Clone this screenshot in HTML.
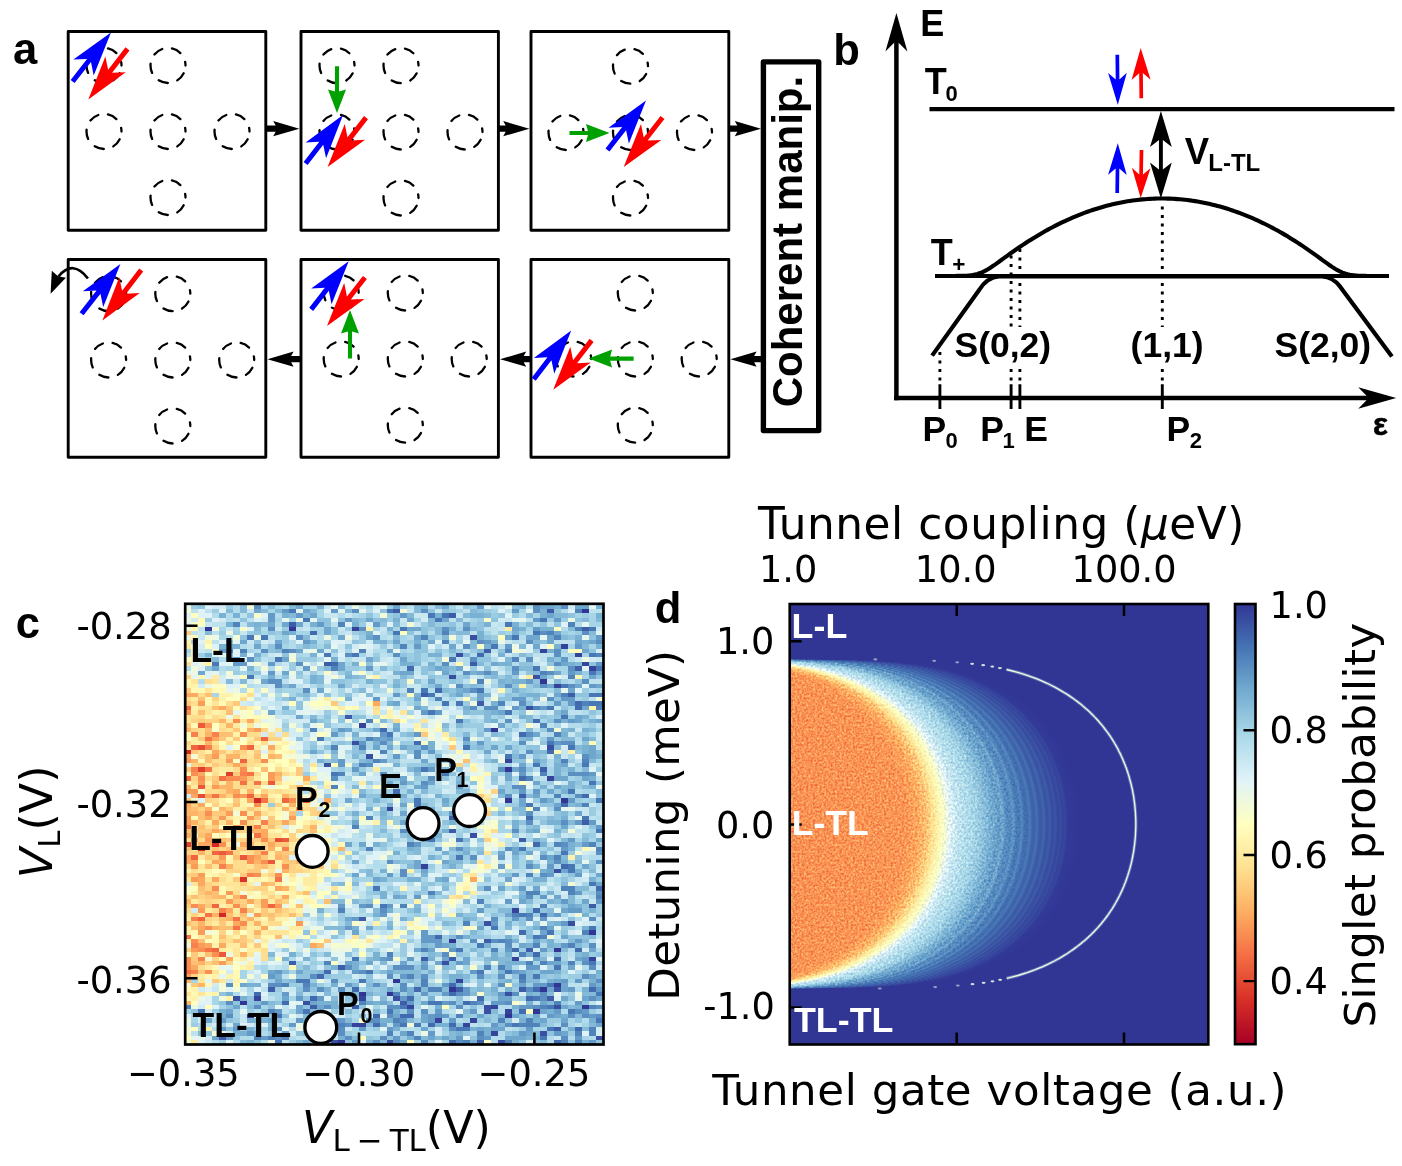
<!DOCTYPE html>
<html><head><meta charset="utf-8"><title>Figure</title>
<style>html,body{margin:0;padding:0;background:#fff;overflow:hidden;}svg{display:block;}</style></head>
<body><svg width="1402" height="1166" viewBox="0 0 1402 1166">
<rect width="1402" height="1166" fill="#fff"/>
<rect x="68.2" y="31.5" width="197.6" height="198.8" fill="none" stroke="#000" stroke-width="2.9" stroke-linejoin="round"/>
<rect x="301" y="31.5" width="197.4" height="198.8" fill="none" stroke="#000" stroke-width="2.9" stroke-linejoin="round"/>
<rect x="531" y="31.5" width="197.8" height="198.8" fill="none" stroke="#000" stroke-width="2.9" stroke-linejoin="round"/>
<rect x="68.2" y="259.5" width="197.6" height="197.7" fill="none" stroke="#000" stroke-width="2.9" stroke-linejoin="round"/>
<rect x="301" y="259.5" width="197.4" height="197.7" fill="none" stroke="#000" stroke-width="2.9" stroke-linejoin="round"/>
<rect x="531" y="259.5" width="197.8" height="197.7" fill="none" stroke="#000" stroke-width="2.9" stroke-linejoin="round"/>
<rect x="763.4" y="61.9" width="55.3" height="368.7" fill="none" stroke="#000" stroke-width="5.4" stroke-linejoin="round"/>
<g fill="none" stroke="#000" stroke-width="2.3" stroke-dasharray="9.6 9.9" stroke-dashoffset="11.5" stroke-linecap="round">
<circle cx="104" cy="65.5" r="17.5"/>
<circle cx="168" cy="65.5" r="17.5"/>
<circle cx="104" cy="131.5" r="17.5"/>
<circle cx="168" cy="131.5" r="17.5"/>
<circle cx="232" cy="131.5" r="17.5"/>
<circle cx="168" cy="197.5" r="17.5"/>
<circle cx="337" cy="65.6" r="17.5"/>
<circle cx="401" cy="65.6" r="17.5"/>
<circle cx="337" cy="132" r="17.5"/>
<circle cx="401" cy="132" r="17.5"/>
<circle cx="465" cy="132" r="17.5"/>
<circle cx="401" cy="198" r="17.5"/>
<circle cx="630.5" cy="66.2" r="17.5"/>
<circle cx="566" cy="132.5" r="17.5"/>
<circle cx="630.5" cy="132.5" r="17.5"/>
<circle cx="694.5" cy="132.5" r="17.5"/>
<circle cx="630.5" cy="198" r="17.5"/>
<circle cx="108.6" cy="293.7" r="17.5"/>
<circle cx="172.8" cy="293.7" r="17.5"/>
<circle cx="108.6" cy="360" r="17.5"/>
<circle cx="172.8" cy="360" r="17.5"/>
<circle cx="236.7" cy="360" r="17.5"/>
<circle cx="172.8" cy="426" r="17.5"/>
<circle cx="341.2" cy="292.8" r="17.5"/>
<circle cx="405.3" cy="293" r="17.5"/>
<circle cx="341.2" cy="359" r="17.5"/>
<circle cx="405.3" cy="359" r="17.5"/>
<circle cx="469.2" cy="359" r="17.5"/>
<circle cx="405.3" cy="425.2" r="17.5"/>
<circle cx="635.3" cy="293" r="17.5"/>
<circle cx="573.7" cy="359" r="17.5"/>
<circle cx="635.3" cy="359" r="17.5"/>
<circle cx="699.2" cy="359" r="17.5"/>
<circle cx="635.3" cy="425.2" r="17.5"/>
</g>
<path d="M265.8,125.6 L275.69,125.6 L273.2,121.1 L299.4,128.7 L273.2,136.3 L275.69,131.8 L265.8,131.8Z" fill="#000"/>
<path d="M498.4,125.6 L505.69,125.6 L503.2,121.1 L529.4,128.7 L503.2,136.3 L505.69,131.8 L498.4,131.8Z" fill="#000"/>
<path d="M728.8,125.6 L737.29,125.6 L734.8,121.1 L761,128.7 L734.8,136.3 L737.29,131.8 L728.8,131.8Z" fill="#000"/>
<path d="M763.3,362.3 L754.11,362.3 L756.6,366.8 L730.4,359.2 L756.6,351.6 L754.11,356.1 L763.3,356.1Z" fill="#000"/>
<path d="M531,362.3 L523.71,362.3 L526.2,366.8 L500,359.2 L526.2,351.6 L523.71,356.1 L531,356.1Z" fill="#000"/>
<path d="M301,362.3 L291.11,362.3 L293.6,366.8 L267.4,359.2 L293.6,351.6 L291.11,356.1 L301,356.1Z" fill="#000"/>
<path d="M339.05,66.3 L339.05,91.53 L346,89.6 L337,113.1 L328,89.6 L334.95,91.53 L334.95,66.3Z" fill="#00a000"/>
<path d="M569.5,130.95 L587.93,130.95 L586,124 L609.5,133 L586,142 L587.93,135.05 L569.5,135.05Z" fill="#00a000"/>
<path d="M347.95,358.6 L347.95,331.57 L341,333.5 L350,310 L359,333.5 L352.05,331.57 L352.05,358.6Z" fill="#00a000"/>
<path d="M633.6,360.65 L610.17,360.65 L612.1,367.6 L588.6,358.6 L612.1,349.6 L610.17,356.55 L633.6,356.55Z" fill="#00a000"/>
<path d="M70.63,79.96 L87.05,59 L73.4,59.57 L111,32.5 L93.7,75.48 L90.99,62.09 L74.57,83.04Z" fill="#0000ff"/>
<path d="M303.62,162.08 L319.29,141.71 L305.64,142.4 L343,115 L326.08,158.13 L323.25,144.76 L307.58,165.12Z" fill="#0000ff"/>
<path d="M605.53,148.47 L622.15,127.09 L608.5,127.71 L646,100.5 L628.86,143.55 L626.1,130.16 L609.47,151.53Z" fill="#0000ff"/>
<path d="M79.63,312.26 L96.53,290.57 L82.87,291.18 L120.4,264 L103.23,307.03 L100.47,293.64 L83.57,315.34Z" fill="#0000ff"/>
<path d="M309.23,307.86 L324.85,287.79 L311.19,288.4 L348.7,261.2 L331.56,304.24 L328.79,290.86 L313.17,310.94Z" fill="#0000ff"/>
<path d="M531.72,377.77 L547.48,357.31 L533.83,357.99 L571.2,330.6 L554.27,373.73 L551.44,360.36 L535.68,380.83Z" fill="#0000ff"/>
<path d="M129.48,50.43 L112.1,72.86 L125.75,72.22 L88.3,99.5 L105.36,56.42 L108.15,69.8 L125.52,47.37Z" fill="#ff0000"/>
<path d="M367.97,119.13 L351.44,140.4 L365.1,139.78 L327.6,167 L344.73,123.95 L347.49,137.33 L364.03,116.07Z" fill="#ff0000"/>
<path d="M664.47,119.04 L647.65,140.5 L661.31,139.94 L623.7,167 L641,124.02 L643.71,137.41 L660.53,115.96Z" fill="#ff0000"/>
<path d="M143.18,271.42 L126.07,293.75 L139.72,293.04 L102.4,320.5 L119.24,277.34 L122.1,290.7 L139.22,268.38Z" fill="#ff0000"/>
<path d="M366.87,279.04 L350.88,299.54 L364.54,298.94 L327,326.1 L344.19,283.08 L346.94,296.46 L362.93,275.96Z" fill="#ff0000"/>
<path d="M593.57,341.93 L577.04,363.2 L590.7,362.58 L553.2,389.8 L570.33,346.75 L573.09,360.13 L589.63,338.87Z" fill="#ff0000"/>
<path d="M87.9,278.5 Q73,259 58.5,276.5" fill="none" stroke="#000" stroke-width="2.7"/>
<path d="M50.6,293.8 L51.8,270.7 L58,276.2 L65.9,277.8Z" fill="#000"/>
<text x="13.1" y="64.4" font-size="43.60" font-family="Liberation Sans, sans-serif" font-weight="bold">a</text>
<text transform="translate(801.9,407.3) rotate(-90)" x="0" y="0" font-size="42.3" font-family="Liberation Sans, sans-serif" font-weight="bold" textLength="331.5" lengthAdjust="spacingAndGlyphs">Coherent manip.</text>
<path d="M894.15,400.2 L894.15,42.77 L885.4,51.6 L896.4,13 L907.4,51.6 L898.65,42.77 L898.65,400.2Z" fill="#000"/>
<path d="M894.2,395.8 L1366.56,395.8 L1358.2,387.2 L1396.2,398 L1358.2,408.8 L1366.56,400.2 L894.2,400.2Z" fill="#000"/>
<path d="M929.5,109.2 H1394.5 M935,276 H1389" stroke="#000" stroke-width="4.2" fill="none"/>
<path d="M945,275.99 L947.5,275.99 L950,275.98 L952.5,275.96 L955,275.94 L957.5,275.91 L960,275.87 L962.5,275.79 L965,275.68 L967.5,275.52 L970,275.29 L972.5,274.95 L975,274.49 L977.5,273.87 L980,273.06 L982.5,272.06 L985,270.86 L987.5,269.49 L990,267.97 L992.5,266.33 L995,264.61 L997.5,262.84 L1000,261.03 L1002.5,259.21 L1005,257.39 L1007.5,255.58 L1010,253.78 L1012.5,252 L1015,250.24 L1017.5,248.51 L1020,246.8 L1022.5,245.12 L1025,243.47 L1027.5,241.84 L1030,240.25 L1032.5,238.68 L1035,237.14 L1037.5,235.64 L1040,234.16 L1042.5,232.71 L1045,231.3 L1047.5,229.91 L1050,228.55 L1052.5,227.22 L1055,225.93 L1057.5,224.66 L1060,223.42 L1062.5,222.21 L1065,221.03 L1067.5,219.89 L1070,218.77 L1072.5,217.68 L1075,216.62 L1077.5,215.6 L1080,214.6 L1082.5,213.63 L1085,212.69 L1087.5,211.78 L1090,210.91 L1092.5,210.06 L1095,209.24 L1097.5,208.45 L1100,207.7 L1102.5,206.97 L1105,206.27 L1107.5,205.6 L1110,204.96 L1112.5,204.36 L1115,203.78 L1117.5,203.23 L1120,202.71 L1122.5,202.23 L1125,201.77 L1127.5,201.34 L1130,200.94 L1132.5,200.57 L1135,200.24 L1137.5,199.93 L1140,199.65 L1142.5,199.4 L1145,199.19 L1147.5,199 L1150,198.84 L1152.5,198.71 L1155,198.61 L1157.5,198.55 L1160,198.51 L1162.5,198.5 L1165,198.52 L1167.5,198.58 L1170,198.66 L1172.5,198.77 L1175,198.91 L1177.5,199.08 L1180,199.29 L1182.5,199.52 L1185,199.78 L1187.5,200.07 L1190,200.4 L1192.5,200.75 L1195,201.13 L1197.5,201.54 L1200,201.98 L1202.5,202.46 L1205,202.96 L1207.5,203.49 L1210,204.05 L1212.5,204.64 L1215,205.27 L1217.5,205.92 L1220,206.6 L1222.5,207.31 L1225,208.06 L1227.5,208.83 L1230,209.63 L1232.5,210.46 L1235,211.32 L1237.5,212.22 L1240,213.14 L1242.5,214.09 L1245,215.07 L1247.5,216.09 L1250,217.13 L1252.5,218.2 L1255,219.3 L1257.5,220.43 L1260,221.6 L1262.5,222.79 L1265,224.01 L1267.5,225.26 L1270,226.54 L1272.5,227.86 L1275,229.2 L1277.5,230.57 L1280,231.97 L1282.5,233.4 L1285,234.87 L1287.5,236.36 L1290,237.88 L1292.5,239.43 L1295,241.01 L1297.5,242.62 L1300,244.25 L1302.5,245.92 L1305,247.61 L1307.5,249.34 L1310,251.08 L1312.5,252.85 L1315,254.64 L1317.5,256.45 L1320,258.27 L1322.5,260.09 L1325,261.9 L1327.5,263.7 L1330,265.45 L1332.5,267.13 L1335,268.71 L1337.5,270.17 L1340,271.46 L1342.5,272.56 L1345,273.47 L1347.5,274.19 L1350,274.73 L1352.5,275.13 L1355,275.41 L1357.5,275.61 L1360,275.74 L1362.5,275.83 L1365,275.89 L1367.5,275.93 L1370,275.96 L1372.5,275.97 L1375,275.98 L1377.5,275.99 L1380,275.99" fill="none" stroke="#000" stroke-width="4.1" stroke-linejoin="round"/>
<path d="M932.1,355.6 L979.5,289.5 Q987,277.5 999,276.5 L1322,276.5 Q1333,277 1340,286.5 L1391.9,356.4" fill="none" stroke="#000" stroke-width="4.2" stroke-linejoin="round"/>
<g stroke="#000" stroke-width="2.9" stroke-dasharray="2.9 5.6" fill="none">
<path d="M939.9,352 V384"/>
<path d="M1011.1,255.5 V327"/>
<path d="M1011.1,369 V384"/>
<path d="M1019.9,249 V327"/>
<path d="M1019.9,369 V384"/>
<path d="M1162.3,206.5 V327"/>
<path d="M1162.3,369 V384"/>
</g>
<path d="M939.9,384.2 V409.1 M1011.1,384.2 V409.1 M1019.9,384.2 V409.1 M1162.3,384.2 V409.1" stroke="#000" stroke-width="2.9"/>
<path d="M1119.15,54.73 L1119.4,79.54 L1126.83,72.81 L1117.8,104.8 L1108.13,72.99 L1115.7,79.58 L1115.45,54.77Z" fill="#0000ff"/>
<path d="M1139.45,98.32 L1139.15,73.16 L1131.58,80.01 L1140.7,47.9 L1150.58,79.78 L1142.85,73.11 L1143.15,98.28Z" fill="#ff0000"/>
<path d="M1115.35,192.88 L1115.65,168.39 L1108.12,174.79 L1117.8,143.2 L1126.72,175.01 L1119.35,168.43 L1119.05,192.92Z" fill="#0000ff"/>
<path d="M1143.35,150.03 L1142.94,174.44 L1150.5,168.16 L1140.7,198 L1131.9,167.85 L1139.24,174.38 L1139.65,149.97Z" fill="#ff0000"/>
<path d="M1160.9,111 L1171.8,147 L1162.85,140.02 L1162.85,169.48 L1171.8,162.5 L1160.9,198.5 L1150,162.5 L1158.95,169.48 L1158.95,140.02 L1150,147Z" fill="#000"/>
<text x="833.2" y="64.9" font-size="43.60" font-family="Liberation Sans, sans-serif" font-weight="bold">b</text>
<text x="920.3" y="36.4" font-size="36.00" font-family="Liberation Sans, sans-serif" font-weight="bold">E</text>
<text x="924.8" y="94.2" font-size="36.00" font-family="Liberation Sans, sans-serif" font-weight="bold">T</text>
<text x="945.6" y="100.8" font-size="22.00" font-family="Liberation Sans, sans-serif" font-weight="bold">0</text>
<text x="930.8" y="265" font-size="36.00" font-family="Liberation Sans, sans-serif" font-weight="bold">T</text>
<text x="952.3" y="271.5" font-size="22.50" font-family="Liberation Sans, sans-serif" font-weight="bold">+</text>
<text x="1184.8" y="164.4" font-size="36.50" font-family="Liberation Sans, sans-serif" font-weight="bold">V</text>
<text x="1208.3" y="171.2" font-size="24.00" font-family="Liberation Sans, sans-serif" font-weight="bold">L-TL</text>
<text x="954.5" y="357" font-size="35.50" font-family="Liberation Sans, sans-serif" font-weight="bold">S(0,2)</text>
<text x="1130.6" y="357" font-size="35.50" font-family="Liberation Sans, sans-serif" font-weight="bold">(1,1)</text>
<text x="1274.5" y="357" font-size="35.50" font-family="Liberation Sans, sans-serif" font-weight="bold">S(2,0)</text>
<text x="922.5" y="441.2" font-size="35.50" font-family="Liberation Sans, sans-serif" font-weight="bold">P</text>
<text x="945.6" y="448.2" font-size="22.00" font-family="Liberation Sans, sans-serif" font-weight="bold">0</text>
<text x="980.2" y="441.2" font-size="35.50" font-family="Liberation Sans, sans-serif" font-weight="bold">P</text>
<text x="1002.6" y="448" font-size="22.00" font-family="Liberation Sans, sans-serif" font-weight="bold">1</text>
<text x="1024.2" y="441.2" font-size="35.50" font-family="Liberation Sans, sans-serif" font-weight="bold">E</text>
<text x="1166.5" y="441.1" font-size="35.50" font-family="Liberation Sans, sans-serif" font-weight="bold">P</text>
<text x="1189.8" y="447.6" font-size="22.00" font-family="Liberation Sans, sans-serif" font-weight="bold">2</text>
<text x="1373" y="435" font-size="31.50" font-family="Liberation Sans, sans-serif" font-weight="bold" stroke="#000" stroke-width="0.6">ε</text>
<g transform="translate(184.0 604.5) scale(6.983 4.4)" shape-rendering="crispEdges">
<path fill="#ecf8e3" d="M0 0h1v1h-1zM24 0h1v1h-1zM0 3h1v1h-1zM16 3h1v1h-1zM55 3h1v1h-1zM0 5h1v1h-1zM6 6h1v1h-1zM0 7h1v1h-1zM4 7h1v1h-1zM10 7h1v1h-1zM20 7h1v1h-1zM23 7h1v1h-1zM45 8h1v1h-1zM47 9h1v1h-1zM18 10h1v1h-1zM48 10h1v1h-1zM15 11h1v1h-1zM57 12h1v1h-1zM2 13h1v1h-1zM18 14h1v1h-1zM0 15h2v1h-2zM15 15h1v1h-1zM6 16h1v1h-1zM48 16h1v1h-1zM53 16h1v1h-1zM10 17h1v1h-1zM43 17h1v1h-1zM3 18h1v1h-1zM7 19h1v1h-1zM14 20h1v1h-1zM51 21h1v1h-1zM17 22h1v1h-1zM34 22h1v1h-1zM41 22h1v1h-1zM20 23h1v1h-1zM32 23h1v1h-1zM36 23h1v1h-1zM49 24h1v1h-1zM6 25h1v1h-1zM37 25h1v1h-1zM12 26h1v1h-1zM23 26h1v1h-1zM36 26h1v1h-1zM10 27h1v1h-1zM12 28h1v1h-1zM20 28h1v1h-1zM35 28h1v1h-1zM18 30h1v1h-1zM23 30h1v1h-1zM33 30h1v1h-1zM41 30h1v1h-1zM12 31h1v1h-1zM30 31h1v1h-1zM30 33h1v1h-1zM16 34h2v1h-2zM38 34h1v1h-1zM39 35h1v1h-1zM45 35h1v1h-1zM49 35h1v1h-1zM37 36h1v1h-1zM42 37h1v1h-1zM19 38h1v1h-1zM42 38h1v1h-1zM14 39h1v1h-1zM20 39h1v1h-1zM21 40h1v1h-1zM12 41h1v1h-1zM25 41h1v1h-1zM28 41h1v1h-1zM19 42h1v1h-1zM43 42h1v1h-1zM30 43h1v1h-1zM30 44h1v1h-1zM42 44h1v1h-1zM18 45h1v1h-1zM23 45h1v1h-1zM27 46h1v1h-1zM37 46h1v1h-1zM39 46h1v1h-1zM20 48h2v1h-2zM20 49h1v1h-1zM43 49h1v1h-1zM19 50h1v1h-1zM38 50h1v1h-1zM46 50h1v1h-1zM24 51h1v1h-1zM51 51h1v1h-1zM7 52h1v1h-1zM19 52h1v1h-1zM26 52h1v1h-1zM42 52h1v1h-1zM17 53h1v1h-1zM28 53h1v1h-1zM38 53h1v1h-1zM7 54h1v1h-1zM43 54h1v1h-1zM49 54h1v1h-1zM58 55h1v1h-1zM20 56h1v1h-1zM20 57h1v1h-1zM44 57h1v1h-1zM49 57h1v1h-1zM18 59h1v1h-1zM20 59h1v1h-1zM13 60h1v1h-1zM23 60h1v1h-1zM29 60h1v1h-1zM43 60h1v1h-1zM45 60h1v1h-1zM16 61h1v1h-1zM23 62h1v1h-1zM19 63h1v1h-1zM41 63h1v1h-1zM16 64h1v1h-1zM20 64h1v1h-1zM23 65h1v1h-1zM24 66h1v1h-1zM39 67h1v1h-1zM14 68h1v1h-1zM17 68h1v1h-1zM20 68h1v1h-1zM32 68h1v1h-1zM18 69h1v1h-1zM35 69h1v1h-1zM9 70h1v1h-1zM18 70h1v1h-1zM28 71h1v1h-1zM30 71h1v1h-1zM17 72h1v1h-1zM25 72h1v1h-1zM30 72h1v1h-1zM13 73h2v1h-2zM18 73h2v1h-2zM33 74h1v1h-1zM39 74h1v1h-1zM14 75h1v1h-1zM16 75h1v1h-1zM12 76h1v1h-1zM0 77h1v1h-1zM26 77h1v1h-1zM15 78h1v1h-1zM17 78h1v1h-1zM21 78h3v1h-3zM25 78h1v1h-1zM29 78h1v1h-1zM6 79h1v1h-1zM9 80h1v1h-1zM8 81h1v1h-1zM44 81h1v1h-1zM36 82h1v1h-1zM15 84h1v1h-1zM19 85h1v1h-1zM36 85h1v1h-1zM56 88h1v1h-1zM2 89h1v1h-1zM1 91h1v1h-1zM0 94h1v1h-1zM0 95h1v1h-1zM16 95h1v1h-1zM16 96h1v1h-1zM5 97h1v1h-1zM34 97h1v1h-1zM12 99h1v1h-1z"/>
<path fill="#9bcce2" d="M1 0h1v1h-1zM6 0h1v1h-1zM29 0h1v1h-1zM41 0h1v1h-1zM4 1h1v1h-1zM38 1h1v1h-1zM43 1h1v1h-1zM29 2h1v1h-1zM44 2h1v1h-1zM47 2h1v1h-1zM57 2h1v1h-1zM3 3h1v1h-1zM29 3h1v1h-1zM42 3h1v1h-1zM52 3h1v1h-1zM54 3h1v1h-1zM25 4h1v1h-1zM34 4h1v1h-1zM36 4h2v1h-2zM41 4h1v1h-1zM14 5h1v1h-1zM23 5h1v1h-1zM35 5h1v1h-1zM5 6h1v1h-1zM7 6h1v1h-1zM9 6h1v1h-1zM13 6h1v1h-1zM24 6h1v1h-1zM29 6h1v1h-1zM45 6h1v1h-1zM48 6h1v1h-1zM54 6h1v1h-1zM56 6h1v1h-1zM14 7h1v1h-1zM25 7h1v1h-1zM44 7h1v1h-1zM14 8h1v1h-1zM20 8h1v1h-1zM25 8h1v1h-1zM29 8h1v1h-1zM32 8h1v1h-1zM34 8h1v1h-1zM39 8h1v1h-1zM16 9h1v1h-1zM28 9h1v1h-1zM39 10h1v1h-1zM41 10h1v1h-1zM50 10h1v1h-1zM2 11h1v1h-1zM27 11h1v1h-1zM32 11h1v1h-1zM38 11h1v1h-1zM43 11h1v1h-1zM49 11h1v1h-1zM3 12h1v1h-1zM16 12h3v1h-3zM32 12h1v1h-1zM36 12h1v1h-1zM15 13h1v1h-1zM15 14h1v1h-1zM19 14h1v1h-1zM23 14h2v1h-2zM30 14h1v1h-1zM41 14h1v1h-1zM46 14h1v1h-1zM7 15h1v1h-1zM18 15h1v1h-1zM22 15h1v1h-1zM57 15h1v1h-1zM16 16h1v1h-1zM32 16h1v1h-1zM36 16h2v1h-2zM39 16h1v1h-1zM45 16h1v1h-1zM47 16h1v1h-1zM52 16h1v1h-1zM23 17h1v1h-1zM31 17h1v1h-1zM39 17h1v1h-1zM19 18h1v1h-1zM23 18h1v1h-1zM27 18h1v1h-1zM31 18h1v1h-1zM49 18h1v1h-1zM13 19h1v1h-1zM24 19h1v1h-1zM49 19h1v1h-1zM57 19h1v1h-1zM31 20h1v1h-1zM40 20h1v1h-1zM47 20h1v1h-1zM17 21h1v1h-1zM41 21h1v1h-1zM57 21h1v1h-1zM40 22h1v1h-1zM54 22h1v1h-1zM14 24h2v1h-2zM20 24h1v1h-1zM22 25h1v1h-1zM45 25h1v1h-1zM52 25h1v1h-1zM55 25h1v1h-1zM20 26h1v1h-1zM24 26h1v1h-1zM14 27h1v1h-1zM40 27h3v1h-3zM58 27h1v1h-1zM25 28h1v1h-1zM37 28h1v1h-1zM42 28h1v1h-1zM51 28h1v1h-1zM22 29h1v1h-1zM56 29h1v1h-1zM43 30h1v1h-1zM46 30h1v1h-1zM51 30h1v1h-1zM53 30h1v1h-1zM18 31h1v1h-1zM21 31h1v1h-1zM23 31h1v1h-1zM31 31h2v1h-2zM41 31h1v1h-1zM43 31h1v1h-1zM43 32h1v1h-1zM47 32h1v1h-1zM17 33h1v1h-1zM34 33h1v1h-1zM45 33h1v1h-1zM51 34h1v1h-1zM29 35h2v1h-2zM37 35h1v1h-1zM55 35h1v1h-1zM32 36h2v1h-2zM36 36h1v1h-1zM45 36h1v1h-1zM56 36h1v1h-1zM22 37h1v1h-1zM25 37h1v1h-1zM59 37h1v1h-1zM17 38h1v1h-1zM24 38h1v1h-1zM44 38h1v1h-1zM54 38h1v1h-1zM33 39h2v1h-2zM56 39h1v1h-1zM26 40h1v1h-1zM44 40h1v1h-1zM46 40h1v1h-1zM52 40h1v1h-1zM31 41h1v1h-1zM40 41h1v1h-1zM46 41h1v1h-1zM56 41h1v1h-1zM29 42h1v1h-1zM46 42h1v1h-1zM53 42h1v1h-1zM37 43h1v1h-1zM55 43h1v1h-1zM24 44h1v1h-1zM26 44h1v1h-1zM28 44h1v1h-1zM32 44h1v1h-1zM34 44h2v1h-2zM38 44h1v1h-1zM50 44h1v1h-1zM56 44h1v1h-1zM58 44h1v1h-1zM12 45h1v1h-1zM26 45h1v1h-1zM35 45h1v1h-1zM38 45h1v1h-1zM46 45h2v1h-2zM31 46h1v1h-1zM58 46h1v1h-1zM23 47h1v1h-1zM29 47h1v1h-1zM37 47h1v1h-1zM39 47h1v1h-1zM47 47h1v1h-1zM58 47h1v1h-1zM24 48h1v1h-1zM30 48h3v1h-3zM41 48h1v1h-1zM50 48h2v1h-2zM30 49h1v1h-1zM39 49h1v1h-1zM28 50h1v1h-1zM53 50h1v1h-1zM36 51h1v1h-1zM40 51h1v1h-1zM54 51h1v1h-1zM27 52h1v1h-1zM29 52h1v1h-1zM39 52h1v1h-1zM47 52h1v1h-1zM52 52h1v1h-1zM58 52h1v1h-1zM34 54h2v1h-2zM47 54h1v1h-1zM59 54h1v1h-1zM25 55h1v1h-1zM28 55h1v1h-1zM41 55h1v1h-1zM49 55h2v1h-2zM38 56h1v1h-1zM53 56h1v1h-1zM55 56h1v1h-1zM40 57h1v1h-1zM58 58h1v1h-1zM35 59h1v1h-1zM39 59h1v1h-1zM21 60h1v1h-1zM38 61h1v1h-1zM24 62h1v1h-1zM29 62h3v1h-3zM59 62h1v1h-1zM34 63h1v1h-1zM45 63h1v1h-1zM49 63h2v1h-2zM29 64h1v1h-1zM26 65h1v1h-1zM34 65h1v1h-1zM44 65h1v1h-1zM58 65h1v1h-1zM37 66h1v1h-1zM25 67h1v1h-1zM44 68h1v1h-1zM59 68h1v1h-1zM59 69h1v1h-1zM17 70h1v1h-1zM22 70h1v1h-1zM33 70h1v1h-1zM45 70h1v1h-1zM50 70h1v1h-1zM19 71h1v1h-1zM22 71h1v1h-1zM32 71h1v1h-1zM36 71h1v1h-1zM46 71h1v1h-1zM54 73h1v1h-1zM32 74h1v1h-1zM42 74h1v1h-1zM37 75h1v1h-1zM43 75h1v1h-1zM47 75h1v1h-1zM16 76h1v1h-1zM32 76h1v1h-1zM37 76h1v1h-1zM31 77h1v1h-1zM40 77h1v1h-1zM57 77h1v1h-1zM14 78h1v1h-1zM26 78h1v1h-1zM31 78h1v1h-1zM42 78h1v1h-1zM48 78h1v1h-1zM31 79h1v1h-1zM34 79h1v1h-1zM40 79h1v1h-1zM45 79h1v1h-1zM51 79h1v1h-1zM58 79h1v1h-1zM18 81h1v1h-1zM16 82h1v1h-1zM29 82h1v1h-1zM52 82h1v1h-1zM22 83h1v1h-1zM27 83h1v1h-1zM34 83h1v1h-1zM37 83h1v1h-1zM54 83h1v1h-1zM57 83h1v1h-1zM21 84h3v1h-3zM35 84h1v1h-1zM44 84h1v1h-1zM52 84h1v1h-1zM55 84h2v1h-2zM12 85h1v1h-1zM18 85h1v1h-1zM33 85h1v1h-1zM15 86h2v1h-2zM19 86h1v1h-1zM35 86h1v1h-1zM49 86h1v1h-1zM13 87h1v1h-1zM27 87h1v1h-1zM30 87h1v1h-1zM47 87h1v1h-1zM31 88h1v1h-1zM35 88h2v1h-2zM55 88h1v1h-1zM26 89h1v1h-1zM33 89h1v1h-1zM44 89h1v1h-1zM48 89h1v1h-1zM23 90h1v1h-1zM33 90h1v1h-1zM54 90h1v1h-1zM4 92h1v1h-1zM9 92h1v1h-1zM21 92h1v1h-1zM31 92h1v1h-1zM58 92h1v1h-1zM41 93h1v1h-1zM44 93h1v1h-1zM49 93h1v1h-1zM7 94h1v1h-1zM33 94h1v1h-1zM42 94h1v1h-1zM44 94h1v1h-1zM52 94h2v1h-2zM1 95h1v1h-1zM5 95h1v1h-1zM52 95h1v1h-1zM8 96h1v1h-1zM19 96h1v1h-1zM27 96h1v1h-1zM37 96h1v1h-1zM48 96h1v1h-1zM12 97h1v1h-1zM23 97h1v1h-1zM55 97h1v1h-1zM27 98h1v1h-1zM31 98h1v1h-1zM5 99h1v1h-1zM15 99h1v1h-1zM35 99h1v1h-1z"/>
<path fill="#90c3dd" d="M2 0h1v1h-1zM40 0h1v1h-1zM28 1h1v1h-1zM35 1h1v1h-1zM37 1h1v1h-1zM42 1h1v1h-1zM53 1h1v1h-1zM9 2h1v1h-1zM26 2h1v1h-1zM30 2h1v1h-1zM45 2h1v1h-1zM55 2h1v1h-1zM8 3h1v1h-1zM19 3h2v1h-2zM22 3h1v1h-1zM25 3h1v1h-1zM27 3h1v1h-1zM44 3h1v1h-1zM56 3h1v1h-1zM20 4h1v1h-1zM28 4h1v1h-1zM38 4h1v1h-1zM42 4h1v1h-1zM51 4h1v1h-1zM53 4h1v1h-1zM21 5h1v1h-1zM34 5h1v1h-1zM42 5h1v1h-1zM10 6h1v1h-1zM12 6h1v1h-1zM21 6h1v1h-1zM25 6h1v1h-1zM32 6h1v1h-1zM34 6h1v1h-1zM38 6h1v1h-1zM8 7h1v1h-1zM35 7h1v1h-1zM43 7h1v1h-1zM55 7h1v1h-1zM58 7h1v1h-1zM6 8h1v1h-1zM10 8h1v1h-1zM24 8h1v1h-1zM51 8h1v1h-1zM12 9h1v1h-1zM18 9h1v1h-1zM23 9h1v1h-1zM30 9h1v1h-1zM34 9h1v1h-1zM12 10h1v1h-1zM21 10h1v1h-1zM33 10h2v1h-2zM36 10h1v1h-1zM45 10h1v1h-1zM58 10h1v1h-1zM14 11h1v1h-1zM31 11h1v1h-1zM33 11h1v1h-1zM10 12h1v1h-1zM27 12h1v1h-1zM33 12h1v1h-1zM42 12h2v1h-2zM53 12h1v1h-1zM26 13h1v1h-1zM48 13h2v1h-2zM52 13h1v1h-1zM58 13h1v1h-1zM3 14h1v1h-1zM34 14h1v1h-1zM43 14h1v1h-1zM9 15h2v1h-2zM16 15h1v1h-1zM34 15h1v1h-1zM38 15h1v1h-1zM49 15h1v1h-1zM14 16h1v1h-1zM25 16h1v1h-1zM35 16h1v1h-1zM40 16h1v1h-1zM43 16h1v1h-1zM59 16h1v1h-1zM21 17h2v1h-2zM27 17h2v1h-2zM33 17h1v1h-1zM38 17h1v1h-1zM50 17h1v1h-1zM56 17h1v1h-1zM35 18h1v1h-1zM40 18h1v1h-1zM42 18h1v1h-1zM47 18h1v1h-1zM38 19h1v1h-1zM48 19h1v1h-1zM16 20h1v1h-1zM20 20h1v1h-1zM23 20h1v1h-1zM46 20h1v1h-1zM51 20h1v1h-1zM56 20h2v1h-2zM14 21h1v1h-1zM45 21h2v1h-2zM53 21h1v1h-1zM16 22h1v1h-1zM33 22h1v1h-1zM49 22h1v1h-1zM16 23h1v1h-1zM54 23h1v1h-1zM41 24h2v1h-2zM48 24h1v1h-1zM58 24h1v1h-1zM20 25h1v1h-1zM24 25h2v1h-2zM51 25h1v1h-1zM53 25h1v1h-1zM19 26h1v1h-1zM22 26h1v1h-1zM40 26h1v1h-1zM52 26h1v1h-1zM57 26h1v1h-1zM17 27h1v1h-1zM20 27h1v1h-1zM47 27h1v1h-1zM21 28h1v1h-1zM26 28h1v1h-1zM46 28h1v1h-1zM31 29h1v1h-1zM42 29h1v1h-1zM45 29h1v1h-1zM57 29h1v1h-1zM16 30h1v1h-1zM24 30h2v1h-2zM22 31h1v1h-1zM51 31h1v1h-1zM57 31h1v1h-1zM18 32h1v1h-1zM20 32h1v1h-1zM24 32h1v1h-1zM41 32h1v1h-1zM49 32h2v1h-2zM19 33h1v1h-1zM24 33h1v1h-1zM32 33h1v1h-1zM47 33h1v1h-1zM56 33h1v1h-1zM21 34h1v1h-1zM50 34h1v1h-1zM20 35h1v1h-1zM43 35h1v1h-1zM47 35h2v1h-2zM24 36h1v1h-1zM34 36h1v1h-1zM51 36h1v1h-1zM39 37h1v1h-1zM49 37h1v1h-1zM54 37h1v1h-1zM38 38h1v1h-1zM29 39h2v1h-2zM37 39h1v1h-1zM44 39h1v1h-1zM41 40h1v1h-1zM56 40h1v1h-1zM59 40h1v1h-1zM45 41h1v1h-1zM47 42h1v1h-1zM20 43h1v1h-1zM26 43h2v1h-2zM33 43h1v1h-1zM59 43h1v1h-1zM31 44h1v1h-1zM39 45h1v1h-1zM51 45h2v1h-2zM33 46h1v1h-1zM20 47h2v1h-2zM35 47h2v1h-2zM41 47h1v1h-1zM53 47h1v1h-1zM29 48h1v1h-1zM53 48h1v1h-1zM28 49h1v1h-1zM37 49h1v1h-1zM40 49h1v1h-1zM48 49h1v1h-1zM51 49h1v1h-1zM40 50h1v1h-1zM49 50h1v1h-1zM58 50h1v1h-1zM31 52h1v1h-1zM34 52h1v1h-1zM53 52h1v1h-1zM57 52h1v1h-1zM29 53h1v1h-1zM32 53h1v1h-1zM36 53h1v1h-1zM42 53h1v1h-1zM51 53h1v1h-1zM28 54h1v1h-1zM42 55h1v1h-1zM52 55h1v1h-1zM24 56h1v1h-1zM32 56h1v1h-1zM39 56h1v1h-1zM48 56h1v1h-1zM36 57h1v1h-1zM38 57h1v1h-1zM56 57h1v1h-1zM31 58h2v1h-2zM47 58h1v1h-1zM37 59h1v1h-1zM47 59h1v1h-1zM58 59h1v1h-1zM25 60h1v1h-1zM45 61h2v1h-2zM55 61h1v1h-1zM43 62h1v1h-1zM54 62h1v1h-1zM21 63h1v1h-1zM35 63h1v1h-1zM37 63h1v1h-1zM34 64h1v1h-1zM42 64h1v1h-1zM47 64h1v1h-1zM27 65h1v1h-1zM30 65h1v1h-1zM33 65h1v1h-1zM26 67h1v1h-1zM54 68h1v1h-1zM57 68h1v1h-1zM32 69h1v1h-1zM49 69h1v1h-1zM51 69h1v1h-1zM57 69h1v1h-1zM40 70h2v1h-2zM44 70h1v1h-1zM59 70h1v1h-1zM48 71h1v1h-1zM55 71h1v1h-1zM38 72h1v1h-1zM42 72h1v1h-1zM48 72h1v1h-1zM50 72h1v1h-1zM49 73h1v1h-1zM17 74h1v1h-1zM22 74h1v1h-1zM49 74h1v1h-1zM54 74h1v1h-1zM21 75h1v1h-1zM41 75h2v1h-2zM55 75h3v1h-3zM51 76h1v1h-1zM35 77h1v1h-1zM52 78h1v1h-1zM18 79h1v1h-1zM23 79h1v1h-1zM36 79h1v1h-1zM39 79h1v1h-1zM42 79h1v1h-1zM59 79h1v1h-1zM21 80h1v1h-1zM25 81h1v1h-1zM38 81h1v1h-1zM43 81h1v1h-1zM54 81h1v1h-1zM20 82h1v1h-1zM33 82h1v1h-1zM38 82h1v1h-1zM17 83h2v1h-2zM39 83h1v1h-1zM50 83h1v1h-1zM16 84h2v1h-2zM20 84h1v1h-1zM26 84h1v1h-1zM37 84h1v1h-1zM43 84h1v1h-1zM47 84h1v1h-1zM51 84h1v1h-1zM53 84h1v1h-1zM14 85h1v1h-1zM26 85h1v1h-1zM31 85h1v1h-1zM40 85h1v1h-1zM42 85h1v1h-1zM33 86h1v1h-1zM42 86h1v1h-1zM44 86h1v1h-1zM47 86h1v1h-1zM16 87h1v1h-1zM18 87h1v1h-1zM26 87h1v1h-1zM28 87h1v1h-1zM41 87h1v1h-1zM43 87h1v1h-1zM5 88h1v1h-1zM27 88h2v1h-2zM43 88h1v1h-1zM9 89h1v1h-1zM17 89h1v1h-1zM23 89h1v1h-1zM39 89h1v1h-1zM55 89h1v1h-1zM5 90h1v1h-1zM7 90h1v1h-1zM9 90h1v1h-1zM13 90h1v1h-1zM39 90h1v1h-1zM57 90h1v1h-1zM6 91h1v1h-1zM12 91h1v1h-1zM17 91h1v1h-1zM25 91h1v1h-1zM41 91h1v1h-1zM1 92h1v1h-1zM11 92h1v1h-1zM47 92h1v1h-1zM12 93h1v1h-1zM14 93h1v1h-1zM25 93h1v1h-1zM40 93h1v1h-1zM43 93h1v1h-1zM6 94h1v1h-1zM46 94h1v1h-1zM56 94h1v1h-1zM17 95h1v1h-1zM39 95h1v1h-1zM6 96h1v1h-1zM10 96h1v1h-1zM20 96h1v1h-1zM3 97h1v1h-1zM16 97h1v1h-1zM40 97h1v1h-1zM46 97h1v1h-1zM52 97h1v1h-1zM7 98h1v1h-1zM26 98h1v1h-1zM29 98h1v1h-1zM41 98h1v1h-1zM10 99h1v1h-1zM23 99h1v1h-1zM48 99h1v1h-1zM50 99h1v1h-1zM55 99h1v1h-1zM59 99h1v1h-1z"/>
<path fill="#def2f7" d="M3 0h1v1h-1zM43 0h1v1h-1zM2 1h1v1h-1zM5 1h1v1h-1zM20 1h1v1h-1zM27 1h1v1h-1zM45 1h1v1h-1zM55 1h1v1h-1zM0 2h1v1h-1zM2 2h2v1h-2zM11 2h1v1h-1zM46 2h1v1h-1zM4 3h1v1h-1zM10 3h1v1h-1zM0 4h1v1h-1zM23 4h1v1h-1zM26 4h1v1h-1zM29 4h1v1h-1zM54 4h1v1h-1zM9 5h1v1h-1zM27 6h1v1h-1zM59 6h1v1h-1zM15 7h1v1h-1zM2 8h1v1h-1zM5 8h1v1h-1zM16 8h1v1h-1zM21 8h2v1h-2zM36 8h1v1h-1zM4 9h1v1h-1zM26 9h1v1h-1zM35 9h1v1h-1zM49 9h1v1h-1zM51 9h1v1h-1zM7 10h1v1h-1zM24 10h1v1h-1zM49 10h1v1h-1zM4 11h1v1h-1zM7 11h1v1h-1zM9 11h1v1h-1zM19 11h1v1h-1zM22 11h1v1h-1zM8 12h1v1h-1zM45 12h1v1h-1zM1 13h1v1h-1zM5 13h1v1h-1zM2 14h1v1h-1zM57 14h1v1h-1zM3 15h1v1h-1zM11 15h1v1h-1zM3 16h1v1h-1zM20 16h1v1h-1zM15 17h2v1h-2zM6 18h2v1h-2zM28 18h1v1h-1zM57 18h1v1h-1zM26 19h1v1h-1zM56 19h1v1h-1zM10 20h1v1h-1zM19 20h1v1h-1zM12 21h1v1h-1zM24 21h3v1h-3zM28 21h1v1h-1zM10 22h1v1h-1zM23 22h2v1h-2zM12 23h1v1h-1zM26 23h1v1h-1zM28 23h1v1h-1zM38 23h1v1h-1zM16 24h1v1h-1zM18 24h1v1h-1zM33 24h1v1h-1zM37 24h1v1h-1zM37 26h1v1h-1zM47 26h1v1h-1zM31 27h2v1h-2zM50 27h1v1h-1zM54 27h1v1h-1zM18 29h1v1h-1zM27 29h1v1h-1zM36 29h1v1h-1zM15 30h1v1h-1zM47 30h1v1h-1zM16 31h1v1h-1zM37 31h1v1h-1zM6 32h1v1h-1zM22 32h2v1h-2zM51 32h1v1h-1zM11 33h1v1h-1zM26 33h1v1h-1zM19 34h1v1h-1zM32 34h1v1h-1zM37 34h1v1h-1zM42 34h1v1h-1zM56 34h1v1h-1zM38 35h1v1h-1zM27 36h1v1h-1zM42 36h1v1h-1zM19 37h2v1h-2zM38 37h1v1h-1zM40 37h1v1h-1zM58 37h1v1h-1zM35 38h1v1h-1zM47 38h1v1h-1zM43 39h1v1h-1zM22 40h1v1h-1zM41 41h1v1h-1zM43 41h2v1h-2zM21 43h1v1h-1zM58 43h1v1h-1zM2 44h1v1h-1zM45 44h1v1h-1zM49 44h1v1h-1zM25 45h1v1h-1zM30 45h1v1h-1zM42 45h1v1h-1zM21 46h1v1h-1zM25 46h1v1h-1zM42 46h1v1h-1zM48 48h1v1h-1zM32 49h1v1h-1zM23 50h1v1h-1zM29 50h1v1h-1zM33 50h2v1h-2zM56 50h1v1h-1zM23 51h1v1h-1zM52 51h1v1h-1zM22 52h1v1h-1zM44 52h2v1h-2zM27 53h1v1h-1zM41 53h1v1h-1zM47 53h1v1h-1zM52 53h1v1h-1zM26 54h1v1h-1zM37 55h1v1h-1zM27 56h2v1h-2zM50 56h1v1h-1zM15 57h1v1h-1zM26 57h2v1h-2zM33 57h1v1h-1zM42 57h1v1h-1zM35 58h1v1h-1zM46 58h1v1h-1zM51 58h1v1h-1zM23 59h1v1h-1zM24 60h1v1h-1zM39 60h1v1h-1zM25 61h1v1h-1zM35 61h2v1h-2zM42 61h1v1h-1zM57 61h1v1h-1zM38 62h1v1h-1zM47 62h1v1h-1zM20 63h1v1h-1zM30 63h1v1h-1zM36 64h1v1h-1zM44 64h1v1h-1zM51 64h1v1h-1zM46 65h1v1h-1zM41 67h1v1h-1zM45 67h1v1h-1zM47 67h1v1h-1zM21 68h1v1h-1zM34 68h1v1h-1zM48 68h1v1h-1zM26 69h1v1h-1zM38 69h1v1h-1zM29 70h1v1h-1zM26 71h1v1h-1zM34 71h2v1h-2zM53 71h1v1h-1zM57 71h1v1h-1zM49 72h1v1h-1zM56 72h1v1h-1zM25 73h1v1h-1zM20 74h1v1h-1zM47 74h1v1h-1zM56 74h1v1h-1zM20 75h1v1h-1zM23 75h1v1h-1zM33 75h1v1h-1zM13 76h1v1h-1zM21 76h2v1h-2zM28 76h1v1h-1zM59 76h1v1h-1zM12 77h1v1h-1zM12 78h1v1h-1zM14 79h1v1h-1zM17 79h1v1h-1zM10 80h1v1h-1zM16 80h1v1h-1zM19 80h1v1h-1zM52 80h1v1h-1zM59 80h1v1h-1zM10 81h1v1h-1zM13 81h1v1h-1zM28 82h1v1h-1zM48 82h1v1h-1zM51 82h1v1h-1zM10 83h1v1h-1zM55 83h1v1h-1zM27 84h1v1h-1zM41 86h1v1h-1zM3 87h1v1h-1zM6 87h1v1h-1zM10 87h1v1h-1zM11 88h1v1h-1zM3 89h1v1h-1zM20 89h1v1h-1zM27 89h1v1h-1zM36 89h1v1h-1zM53 89h1v1h-1zM2 90h2v1h-2zM16 90h1v1h-1zM59 90h1v1h-1zM4 91h1v1h-1zM15 91h1v1h-1zM0 93h1v1h-1zM21 93h1v1h-1zM8 95h1v1h-1zM11 95h1v1h-1zM57 97h1v1h-1zM40 98h1v1h-1zM2 99h1v1h-1zM6 99h1v1h-1zM25 99h1v1h-1zM36 99h1v1h-1z"/>
<path fill="#d3ecf4" d="M4 0h2v1h-2zM27 0h1v1h-1zM55 0h1v1h-1zM1 3h1v1h-1zM5 3h1v1h-1zM11 3h1v1h-1zM34 3h1v1h-1zM45 3h1v1h-1zM40 7h1v1h-1zM11 8h1v1h-1zM23 8h1v1h-1zM26 8h1v1h-1zM2 9h1v1h-1zM24 9h1v1h-1zM37 9h1v1h-1zM39 9h1v1h-1zM20 10h1v1h-1zM22 10h1v1h-1zM26 10h1v1h-1zM59 10h1v1h-1zM13 11h1v1h-1zM44 11h1v1h-1zM22 12h1v1h-1zM29 12h1v1h-1zM50 12h1v1h-1zM58 12h1v1h-1zM11 13h1v1h-1zM51 13h1v1h-1zM14 14h1v1h-1zM42 14h1v1h-1zM44 14h1v1h-1zM13 15h1v1h-1zM21 15h1v1h-1zM29 15h1v1h-1zM45 15h1v1h-1zM5 16h1v1h-1zM22 16h1v1h-1zM33 16h1v1h-1zM41 16h1v1h-1zM54 16h1v1h-1zM5 17h1v1h-1zM9 17h1v1h-1zM2 18h1v1h-1zM17 18h1v1h-1zM24 18h1v1h-1zM43 18h1v1h-1zM12 19h1v1h-1zM18 19h1v1h-1zM23 19h1v1h-1zM44 19h1v1h-1zM27 20h1v1h-1zM52 20h1v1h-1zM11 21h1v1h-1zM8 22h1v1h-1zM11 22h1v1h-1zM14 22h1v1h-1zM47 22h1v1h-1zM50 22h1v1h-1zM25 23h1v1h-1zM31 23h1v1h-1zM35 23h1v1h-1zM10 24h1v1h-1zM19 24h1v1h-1zM38 24h2v1h-2zM50 24h1v1h-1zM52 24h1v1h-1zM14 25h1v1h-1zM34 25h1v1h-1zM40 25h1v1h-1zM46 25h1v1h-1zM59 25h1v1h-1zM15 26h3v1h-3zM33 26h1v1h-1zM26 27h1v1h-1zM29 27h1v1h-1zM43 27h1v1h-1zM15 28h1v1h-1zM19 28h1v1h-1zM31 28h1v1h-1zM45 28h1v1h-1zM11 29h1v1h-1zM13 29h1v1h-1zM15 29h2v1h-2zM23 29h1v1h-1zM25 29h1v1h-1zM47 29h1v1h-1zM34 30h1v1h-1zM50 30h1v1h-1zM20 31h1v1h-1zM39 31h1v1h-1zM49 31h1v1h-1zM39 32h1v1h-1zM54 32h1v1h-1zM16 33h1v1h-1zM31 33h1v1h-1zM40 33h1v1h-1zM28 34h1v1h-1zM34 34h1v1h-1zM44 34h1v1h-1zM52 34h1v1h-1zM18 35h1v1h-1zM41 35h1v1h-1zM47 36h1v1h-1zM30 37h2v1h-2zM18 38h1v1h-1zM34 38h1v1h-1zM40 38h1v1h-1zM26 39h2v1h-2zM45 39h1v1h-1zM28 40h1v1h-1zM23 42h1v1h-1zM37 42h1v1h-1zM0 43h1v1h-1zM35 43h1v1h-1zM19 44h1v1h-1zM22 45h1v1h-1zM19 46h1v1h-1zM23 46h1v1h-1zM22 47h1v1h-1zM30 47h1v1h-1zM23 48h1v1h-1zM43 48h1v1h-1zM45 48h1v1h-1zM14 50h1v1h-1zM35 50h1v1h-1zM51 50h1v1h-1zM22 51h1v1h-1zM34 51h1v1h-1zM42 51h1v1h-1zM17 52h1v1h-1zM37 52h2v1h-2zM40 52h1v1h-1zM59 52h1v1h-1zM45 53h1v1h-1zM21 54h1v1h-1zM31 54h1v1h-1zM46 56h1v1h-1zM57 56h1v1h-1zM21 57h1v1h-1zM24 57h1v1h-1zM32 57h1v1h-1zM46 57h1v1h-1zM50 57h1v1h-1zM18 58h1v1h-1zM22 58h1v1h-1zM43 58h1v1h-1zM25 59h1v1h-1zM37 60h1v1h-1zM59 60h1v1h-1zM33 61h1v1h-1zM44 61h1v1h-1zM21 62h2v1h-2zM35 62h1v1h-1zM48 62h1v1h-1zM57 62h1v1h-1zM0 63h1v1h-1zM25 63h1v1h-1zM31 63h1v1h-1zM47 63h1v1h-1zM52 63h1v1h-1zM56 63h1v1h-1zM25 64h1v1h-1zM24 65h1v1h-1zM37 65h1v1h-1zM42 65h1v1h-1zM54 65h1v1h-1zM20 66h1v1h-1zM23 66h1v1h-1zM46 66h1v1h-1zM52 66h1v1h-1zM27 68h1v1h-1zM39 68h1v1h-1zM1 69h1v1h-1zM24 69h1v1h-1zM34 69h1v1h-1zM40 69h1v1h-1zM55 70h1v1h-1zM17 71h1v1h-1zM43 71h1v1h-1zM50 71h1v1h-1zM52 71h1v1h-1zM18 72h1v1h-1zM20 72h1v1h-1zM31 72h1v1h-1zM57 72h1v1h-1zM17 73h1v1h-1zM30 73h1v1h-1zM35 73h1v1h-1zM47 73h1v1h-1zM23 74h1v1h-1zM27 74h1v1h-1zM55 74h1v1h-1zM48 75h1v1h-1zM15 76h1v1h-1zM42 76h1v1h-1zM48 76h1v1h-1zM16 77h1v1h-1zM32 77h1v1h-1zM59 77h1v1h-1zM20 78h1v1h-1zM28 78h1v1h-1zM32 78h1v1h-1zM50 78h1v1h-1zM57 78h1v1h-1zM20 80h1v1h-1zM22 81h1v1h-1zM27 81h1v1h-1zM29 81h2v1h-2zM41 81h2v1h-2zM19 82h1v1h-1zM6 83h1v1h-1zM21 83h1v1h-1zM36 83h1v1h-1zM38 83h1v1h-1zM24 84h1v1h-1zM28 84h1v1h-1zM10 85h1v1h-1zM4 86h1v1h-1zM11 86h1v1h-1zM22 86h1v1h-1zM29 86h1v1h-1zM40 86h1v1h-1zM2 87h1v1h-1zM8 87h1v1h-1zM14 87h1v1h-1zM15 88h1v1h-1zM19 88h1v1h-1zM48 88h1v1h-1zM11 89h1v1h-1zM2 91h1v1h-1zM3 92h1v1h-1zM20 92h1v1h-1zM26 92h1v1h-1zM22 93h1v1h-1zM2 94h1v1h-1zM47 94h1v1h-1zM4 95h1v1h-1zM6 95h1v1h-1zM9 95h1v1h-1zM36 96h1v1h-1zM59 96h1v1h-1zM15 97h1v1h-1zM36 97h1v1h-1zM59 97h1v1h-1zM3 98h1v1h-1zM49 99h1v1h-1z"/>
<path fill="#b2dceb" d="M7 0h1v1h-1zM14 0h1v1h-1zM35 0h1v1h-1zM7 1h1v1h-1zM26 1h1v1h-1zM54 1h1v1h-1zM4 2h1v1h-1zM6 2h1v1h-1zM13 2h1v1h-1zM22 2h1v1h-1zM24 2h1v1h-1zM27 2h1v1h-1zM48 2h1v1h-1zM6 3h1v1h-1zM13 4h1v1h-1zM39 4h1v1h-1zM50 4h1v1h-1zM56 4h1v1h-1zM11 5h1v1h-1zM54 5h1v1h-1zM35 6h1v1h-1zM49 6h1v1h-1zM6 7h1v1h-1zM19 7h1v1h-1zM21 7h1v1h-1zM28 7h1v1h-1zM32 7h1v1h-1zM48 7h1v1h-1zM15 8h1v1h-1zM19 8h1v1h-1zM47 8h1v1h-1zM8 9h1v1h-1zM11 9h1v1h-1zM15 9h1v1h-1zM36 9h1v1h-1zM10 10h1v1h-1zM27 10h2v1h-2zM32 10h1v1h-1zM17 11h1v1h-1zM21 11h1v1h-1zM29 11h1v1h-1zM37 11h1v1h-1zM41 11h1v1h-1zM47 11h1v1h-1zM54 11h1v1h-1zM2 12h1v1h-1zM5 12h1v1h-1zM12 12h1v1h-1zM19 12h1v1h-1zM23 12h1v1h-1zM30 12h1v1h-1zM35 12h1v1h-1zM40 12h1v1h-1zM44 12h1v1h-1zM55 12h1v1h-1zM13 13h1v1h-1zM40 13h1v1h-1zM47 13h1v1h-1zM0 14h1v1h-1zM5 14h1v1h-1zM12 14h1v1h-1zM31 14h1v1h-1zM39 15h1v1h-1zM13 16h1v1h-1zM17 16h1v1h-1zM2 17h1v1h-1zM25 17h1v1h-1zM34 17h1v1h-1zM44 17h1v1h-1zM55 17h1v1h-1zM9 18h1v1h-1zM18 18h1v1h-1zM21 18h1v1h-1zM25 18h1v1h-1zM8 19h1v1h-1zM28 19h1v1h-1zM35 19h1v1h-1zM43 19h1v1h-1zM51 19h1v1h-1zM58 19h1v1h-1zM11 20h1v1h-1zM13 20h1v1h-1zM45 20h1v1h-1zM31 21h1v1h-1zM39 23h1v1h-1zM42 23h1v1h-1zM45 23h1v1h-1zM13 24h1v1h-1zM24 24h1v1h-1zM57 24h1v1h-1zM17 25h1v1h-1zM19 25h1v1h-1zM27 25h1v1h-1zM38 25h1v1h-1zM50 25h1v1h-1zM14 26h1v1h-1zM29 26h1v1h-1zM42 26h1v1h-1zM48 26h1v1h-1zM21 27h1v1h-1zM23 27h1v1h-1zM55 27h2v1h-2zM24 28h1v1h-1zM29 28h1v1h-1zM40 28h2v1h-2zM47 28h1v1h-1zM38 29h1v1h-1zM52 29h1v1h-1zM30 30h1v1h-1zM32 30h1v1h-1zM56 30h1v1h-1zM17 31h1v1h-1zM46 31h1v1h-1zM59 31h1v1h-1zM17 32h1v1h-1zM28 32h1v1h-1zM30 32h1v1h-1zM29 33h1v1h-1zM42 33h1v1h-1zM48 33h1v1h-1zM35 34h1v1h-1zM17 35h1v1h-1zM36 35h1v1h-1zM52 35h1v1h-1zM31 36h1v1h-1zM49 36h1v1h-1zM52 36h1v1h-1zM23 37h1v1h-1zM28 37h2v1h-2zM50 37h1v1h-1zM30 38h1v1h-1zM49 38h1v1h-1zM22 39h1v1h-1zM28 39h1v1h-1zM36 39h1v1h-1zM50 39h1v1h-1zM18 40h1v1h-1zM24 40h1v1h-1zM57 40h1v1h-1zM36 41h1v1h-1zM52 41h1v1h-1zM17 42h1v1h-1zM27 42h2v1h-2zM49 42h1v1h-1zM56 42h1v1h-1zM32 43h1v1h-1zM51 43h2v1h-2zM21 44h1v1h-1zM25 44h1v1h-1zM36 44h1v1h-1zM39 44h1v1h-1zM44 44h1v1h-1zM24 45h1v1h-1zM28 45h1v1h-1zM44 45h1v1h-1zM59 45h1v1h-1zM36 46h1v1h-1zM40 46h1v1h-1zM45 46h1v1h-1zM59 46h1v1h-1zM25 47h1v1h-1zM46 47h1v1h-1zM42 48h1v1h-1zM59 48h1v1h-1zM22 49h1v1h-1zM42 49h1v1h-1zM46 49h1v1h-1zM36 50h1v1h-1zM41 50h1v1h-1zM48 50h1v1h-1zM55 50h1v1h-1zM25 51h2v1h-2zM29 51h1v1h-1zM25 52h1v1h-1zM49 52h1v1h-1zM22 53h1v1h-1zM53 53h1v1h-1zM24 54h1v1h-1zM42 54h1v1h-1zM52 54h1v1h-1zM27 55h1v1h-1zM22 56h1v1h-1zM31 56h1v1h-1zM35 56h1v1h-1zM41 56h1v1h-1zM44 56h1v1h-1zM25 57h1v1h-1zM30 57h1v1h-1zM58 57h2v1h-2zM27 58h1v1h-1zM50 58h1v1h-1zM27 59h2v1h-2zM31 59h1v1h-1zM53 59h1v1h-1zM40 60h1v1h-1zM46 60h1v1h-1zM48 60h1v1h-1zM57 60h1v1h-1zM28 61h1v1h-1zM30 61h1v1h-1zM32 61h1v1h-1zM39 61h1v1h-1zM43 61h1v1h-1zM50 61h1v1h-1zM58 61h1v1h-1zM20 62h1v1h-1zM28 63h2v1h-2zM32 63h1v1h-1zM42 63h2v1h-2zM53 63h1v1h-1zM30 64h1v1h-1zM52 64h1v1h-1zM58 64h1v1h-1zM29 65h1v1h-1zM40 65h1v1h-1zM44 66h1v1h-1zM58 66h1v1h-1zM29 67h4v1h-4zM34 67h1v1h-1zM43 67h1v1h-1zM50 67h1v1h-1zM36 68h1v1h-1zM46 68h1v1h-1zM20 69h1v1h-1zM30 69h2v1h-2zM39 69h1v1h-1zM23 70h1v1h-1zM25 70h1v1h-1zM31 70h1v1h-1zM43 70h1v1h-1zM58 70h1v1h-1zM21 71h1v1h-1zM29 71h1v1h-1zM45 71h1v1h-1zM56 71h1v1h-1zM19 72h1v1h-1zM35 72h1v1h-1zM39 72h1v1h-1zM59 72h1v1h-1zM31 73h1v1h-1zM37 73h2v1h-2zM45 73h1v1h-1zM26 74h1v1h-1zM36 74h1v1h-1zM43 74h1v1h-1zM53 74h1v1h-1zM59 74h1v1h-1zM18 75h1v1h-1zM22 75h1v1h-1zM44 75h2v1h-2zM17 76h1v1h-1zM30 76h1v1h-1zM53 76h1v1h-1zM33 77h1v1h-1zM44 77h1v1h-1zM51 77h1v1h-1zM18 78h1v1h-1zM55 78h1v1h-1zM59 78h1v1h-1zM30 79h1v1h-1zM52 79h1v1h-1zM15 80h1v1h-1zM31 80h1v1h-1zM39 80h1v1h-1zM41 80h1v1h-1zM32 81h1v1h-1zM10 82h1v1h-1zM14 82h1v1h-1zM27 82h1v1h-1zM44 82h1v1h-1zM47 82h1v1h-1zM57 82h1v1h-1zM40 83h1v1h-1zM44 83h1v1h-1zM56 83h1v1h-1zM30 84h1v1h-1zM11 85h1v1h-1zM28 85h1v1h-1zM20 86h1v1h-1zM56 87h1v1h-1zM7 88h1v1h-1zM9 88h1v1h-1zM21 88h1v1h-1zM54 88h1v1h-1zM38 89h1v1h-1zM55 90h1v1h-1zM40 91h1v1h-1zM42 91h1v1h-1zM45 91h2v1h-2zM10 92h1v1h-1zM22 92h1v1h-1zM35 92h1v1h-1zM37 92h1v1h-1zM45 92h1v1h-1zM54 92h1v1h-1zM59 92h1v1h-1zM19 93h1v1h-1zM24 93h1v1h-1zM4 94h1v1h-1zM37 94h1v1h-1zM39 94h1v1h-1zM57 94h1v1h-1zM2 95h1v1h-1zM10 95h1v1h-1zM34 95h1v1h-1zM42 95h1v1h-1zM53 95h1v1h-1zM2 96h1v1h-1zM4 96h1v1h-1zM15 96h1v1h-1zM31 96h1v1h-1zM33 96h1v1h-1zM47 96h1v1h-1zM11 97h1v1h-1zM26 97h3v1h-3zM30 97h1v1h-1zM45 97h1v1h-1zM8 98h2v1h-2zM15 98h1v1h-1zM44 98h2v1h-2zM52 98h1v1h-1zM55 98h1v1h-1zM58 98h1v1h-1zM4 99h1v1h-1zM7 99h1v1h-1zM11 99h1v1h-1zM19 99h1v1h-1zM44 99h1v1h-1zM52 99h1v1h-1z"/>
<path fill="#84bad8" d="M8 0h1v1h-1zM12 0h1v1h-1zM15 0h1v1h-1zM22 0h1v1h-1zM33 0h1v1h-1zM36 0h1v1h-1zM47 0h1v1h-1zM6 1h1v1h-1zM8 1h1v1h-1zM11 1h1v1h-1zM13 1h1v1h-1zM18 1h1v1h-1zM23 1h1v1h-1zM33 1h1v1h-1zM41 1h1v1h-1zM15 2h1v1h-1zM17 2h1v1h-1zM32 2h1v1h-1zM40 2h1v1h-1zM43 2h1v1h-1zM49 2h1v1h-1zM53 2h2v1h-2zM24 3h1v1h-1zM28 3h1v1h-1zM35 3h1v1h-1zM39 3h1v1h-1zM57 3h1v1h-1zM59 3h1v1h-1zM9 4h1v1h-1zM11 4h1v1h-1zM30 4h1v1h-1zM35 4h1v1h-1zM49 4h1v1h-1zM10 5h1v1h-1zM36 5h1v1h-1zM41 5h1v1h-1zM55 5h1v1h-1zM3 6h1v1h-1zM36 6h1v1h-1zM39 6h2v1h-2zM58 6h1v1h-1zM17 7h1v1h-1zM30 7h1v1h-1zM37 7h1v1h-1zM54 7h1v1h-1zM41 8h1v1h-1zM50 8h1v1h-1zM17 9h1v1h-1zM20 9h1v1h-1zM41 9h1v1h-1zM48 9h1v1h-1zM57 9h1v1h-1zM13 10h1v1h-1zM38 10h1v1h-1zM42 10h1v1h-1zM6 11h1v1h-1zM40 11h1v1h-1zM48 11h1v1h-1zM4 12h1v1h-1zM46 12h1v1h-1zM33 13h1v1h-1zM42 13h1v1h-1zM56 13h1v1h-1zM20 14h1v1h-1zM28 14h1v1h-1zM35 14h1v1h-1zM38 14h1v1h-1zM48 14h2v1h-2zM23 15h1v1h-1zM50 15h1v1h-1zM19 16h1v1h-1zM24 16h1v1h-1zM31 16h1v1h-1zM44 16h1v1h-1zM46 16h1v1h-1zM6 17h1v1h-1zM8 17h1v1h-1zM19 17h1v1h-1zM30 17h1v1h-1zM46 17h1v1h-1zM53 17h1v1h-1zM14 18h1v1h-1zM41 18h1v1h-1zM45 18h1v1h-1zM50 18h1v1h-1zM25 19h1v1h-1zM37 19h1v1h-1zM53 19h1v1h-1zM17 20h1v1h-1zM26 20h1v1h-1zM38 20h1v1h-1zM48 20h1v1h-1zM50 21h1v1h-1zM34 23h1v1h-1zM40 24h1v1h-1zM43 24h1v1h-1zM53 24h1v1h-1zM18 25h1v1h-1zM43 25h1v1h-1zM49 25h1v1h-1zM28 26h1v1h-1zM43 26h1v1h-1zM49 26h1v1h-1zM37 27h1v1h-1zM39 27h1v1h-1zM49 28h1v1h-1zM54 28h1v1h-1zM58 28h1v1h-1zM32 29h1v1h-1zM40 29h1v1h-1zM44 29h1v1h-1zM48 30h1v1h-1zM54 30h2v1h-2zM58 30h1v1h-1zM29 31h1v1h-1zM32 32h2v1h-2zM42 32h1v1h-1zM53 32h1v1h-1zM56 32h1v1h-1zM25 33h1v1h-1zM50 33h2v1h-2zM59 33h1v1h-1zM24 34h1v1h-1zM36 34h1v1h-1zM47 34h1v1h-1zM21 35h1v1h-1zM25 35h1v1h-1zM51 35h1v1h-1zM53 35h1v1h-1zM58 35h1v1h-1zM35 36h1v1h-1zM32 37h1v1h-1zM37 37h1v1h-1zM57 37h1v1h-1zM33 38h1v1h-1zM39 39h1v1h-1zM32 40h1v1h-1zM24 41h1v1h-1zM54 41h1v1h-1zM57 41h1v1h-1zM25 42h1v1h-1zM34 42h1v1h-1zM39 42h2v1h-2zM59 42h1v1h-1zM45 43h1v1h-1zM49 43h1v1h-1zM34 45h1v1h-1zM55 45h1v1h-1zM28 46h1v1h-1zM47 46h2v1h-2zM45 47h1v1h-1zM48 47h1v1h-1zM54 47h1v1h-1zM28 48h1v1h-1zM52 48h1v1h-1zM55 49h1v1h-1zM50 50h1v1h-1zM28 51h1v1h-1zM32 52h1v1h-1zM40 53h1v1h-1zM54 53h1v1h-1zM57 53h1v1h-1zM56 54h1v1h-1zM33 55h1v1h-1zM38 55h1v1h-1zM40 55h1v1h-1zM33 56h1v1h-1zM42 56h1v1h-1zM51 56h1v1h-1zM47 57h1v1h-1zM54 57h1v1h-1zM30 58h1v1h-1zM38 58h2v1h-2zM41 58h1v1h-1zM56 58h1v1h-1zM32 59h1v1h-1zM26 60h1v1h-1zM58 60h1v1h-1zM26 61h1v1h-1zM22 63h1v1h-1zM24 63h1v1h-1zM54 63h1v1h-1zM37 64h1v1h-1zM56 64h2v1h-2zM36 65h1v1h-1zM48 65h1v1h-1zM35 66h1v1h-1zM55 66h1v1h-1zM21 67h2v1h-2zM24 67h1v1h-1zM40 67h1v1h-1zM49 67h1v1h-1zM53 67h1v1h-1zM55 67h1v1h-1zM33 68h1v1h-1zM27 69h1v1h-1zM45 69h2v1h-2zM52 69h1v1h-1zM41 71h1v1h-1zM23 72h1v1h-1zM29 72h1v1h-1zM37 72h1v1h-1zM52 72h1v1h-1zM20 73h3v1h-3zM46 73h1v1h-1zM41 74h1v1h-1zM38 75h1v1h-1zM49 75h1v1h-1zM58 75h1v1h-1zM55 76h1v1h-1zM57 76h1v1h-1zM34 77h1v1h-1zM53 77h1v1h-1zM56 77h1v1h-1zM41 78h1v1h-1zM54 78h1v1h-1zM12 79h1v1h-1zM20 79h1v1h-1zM35 79h1v1h-1zM53 79h1v1h-1zM56 79h1v1h-1zM26 80h1v1h-1zM43 80h1v1h-1zM45 80h2v1h-2zM51 80h1v1h-1zM28 81h1v1h-1zM45 81h1v1h-1zM17 82h1v1h-1zM37 82h1v1h-1zM14 83h1v1h-1zM19 83h1v1h-1zM28 83h1v1h-1zM30 83h4v1h-4zM49 83h1v1h-1zM33 84h1v1h-1zM40 84h1v1h-1zM49 84h1v1h-1zM59 84h1v1h-1zM15 85h1v1h-1zM32 85h1v1h-1zM45 85h1v1h-1zM49 85h2v1h-2zM24 86h1v1h-1zM26 86h1v1h-1zM28 86h1v1h-1zM34 87h1v1h-1zM37 87h1v1h-1zM42 87h1v1h-1zM16 88h1v1h-1zM20 88h1v1h-1zM24 88h1v1h-1zM41 88h1v1h-1zM44 88h1v1h-1zM50 88h1v1h-1zM52 88h1v1h-1zM57 88h2v1h-2zM21 89h1v1h-1zM24 89h1v1h-1zM28 89h1v1h-1zM10 90h1v1h-1zM12 90h1v1h-1zM29 90h1v1h-1zM52 90h1v1h-1zM9 91h1v1h-1zM22 91h1v1h-1zM55 91h1v1h-1zM18 92h1v1h-1zM23 92h1v1h-1zM27 92h1v1h-1zM40 92h1v1h-1zM44 92h1v1h-1zM11 93h1v1h-1zM17 93h2v1h-2zM48 93h1v1h-1zM56 93h1v1h-1zM13 94h1v1h-1zM23 94h1v1h-1zM32 94h1v1h-1zM43 94h1v1h-1zM12 95h1v1h-1zM20 95h1v1h-1zM26 95h1v1h-1zM45 95h1v1h-1zM51 95h1v1h-1zM58 95h1v1h-1zM57 96h1v1h-1zM2 97h1v1h-1zM17 97h1v1h-1zM38 97h1v1h-1zM47 97h1v1h-1zM50 97h1v1h-1zM18 98h3v1h-3zM24 98h1v1h-1zM34 98h1v1h-1zM36 98h1v1h-1zM38 98h1v1h-1zM8 99h1v1h-1zM16 99h1v1h-1zM18 99h1v1h-1zM20 99h1v1h-1zM28 99h1v1h-1zM51 99h1v1h-1z"/>
<path fill="#f2fad7" d="M9 0h1v1h-1zM0 1h1v1h-1zM31 1h1v1h-1zM28 2h1v1h-1zM32 4h1v1h-1zM4 5h1v1h-1zM3 7h1v1h-1zM7 7h1v1h-1zM38 7h1v1h-1zM1 9h1v1h-1zM47 10h1v1h-1zM15 12h1v1h-1zM37 12h1v1h-1zM10 13h1v1h-1zM1 14h1v1h-1zM11 14h1v1h-1zM13 14h1v1h-1zM52 14h1v1h-1zM6 15h1v1h-1zM21 16h1v1h-1zM26 16h1v1h-1zM41 17h1v1h-1zM29 19h1v1h-1zM12 20h1v1h-1zM9 21h1v1h-1zM44 21h1v1h-1zM59 21h1v1h-1zM18 23h2v1h-2zM29 23h1v1h-1zM11 24h1v1h-1zM12 25h1v1h-1zM30 25h1v1h-1zM39 25h1v1h-1zM8 27h1v1h-1zM12 27h1v1h-1zM15 27h1v1h-1zM19 27h1v1h-1zM28 27h1v1h-1zM53 28h1v1h-1zM20 29h1v1h-1zM35 29h1v1h-1zM14 30h1v1h-1zM35 30h1v1h-1zM15 31h1v1h-1zM11 32h1v1h-1zM1 34h1v1h-1zM15 34h1v1h-1zM23 36h1v1h-1zM17 43h1v1h-1zM19 43h1v1h-1zM1 44h1v1h-1zM18 44h1v1h-1zM32 45h1v1h-1zM7 47h1v1h-1zM14 47h1v1h-1zM40 47h1v1h-1zM11 48h1v1h-1zM14 48h1v1h-1zM16 48h1v1h-1zM18 48h1v1h-1zM25 49h2v1h-2zM15 50h1v1h-1zM21 50h2v1h-2zM30 50h1v1h-1zM15 51h1v1h-1zM21 51h1v1h-1zM55 51h1v1h-1zM1 52h1v1h-1zM16 52h1v1h-1zM18 54h2v1h-2zM38 54h1v1h-1zM44 54h1v1h-1zM43 55h1v1h-1zM21 56h1v1h-1zM29 56h1v1h-1zM56 56h1v1h-1zM28 57h1v1h-1zM44 58h1v1h-1zM22 59h1v1h-1zM29 59h1v1h-1zM44 59h1v1h-1zM11 60h1v1h-1zM17 61h1v1h-1zM14 62h1v1h-1zM42 62h1v1h-1zM16 63h1v1h-1zM39 63h1v1h-1zM46 63h1v1h-1zM55 63h1v1h-1zM22 64h1v1h-1zM41 64h1v1h-1zM8 65h1v1h-1zM23 67h1v1h-1zM37 67h1v1h-1zM30 70h1v1h-1zM56 70h1v1h-1zM15 71h1v1h-1zM15 72h1v1h-1zM33 72h1v1h-1zM36 73h1v1h-1zM3 74h1v1h-1zM21 74h1v1h-1zM26 75h1v1h-1zM52 75h1v1h-1zM18 76h1v1h-1zM25 76h1v1h-1zM13 77h1v1h-1zM22 77h2v1h-2zM38 79h1v1h-1zM3 80h1v1h-1zM9 84h1v1h-1zM0 86h1v1h-1zM5 86h1v1h-1zM5 87h1v1h-1zM7 87h1v1h-1zM5 89h1v1h-1zM32 95h1v1h-1zM0 96h1v1h-1zM0 97h1v1h-1zM4 97h1v1h-1zM0 99h1v1h-1z"/>
<path fill="#5b8fc1" d="M10 0h1v1h-1zM50 0h1v1h-1zM54 0h1v1h-1zM24 1h1v1h-1zM34 1h1v1h-1zM50 1h1v1h-1zM12 5h1v1h-1zM25 5h1v1h-1zM37 5h1v1h-1zM40 5h1v1h-1zM51 6h1v1h-1zM57 6h1v1h-1zM16 7h1v1h-1zM27 7h1v1h-1zM42 8h1v1h-1zM49 8h1v1h-1zM59 8h1v1h-1zM13 9h1v1h-1zM40 9h1v1h-1zM11 10h1v1h-1zM15 10h1v1h-1zM53 10h1v1h-1zM23 11h1v1h-1zM30 11h1v1h-1zM53 11h1v1h-1zM9 12h1v1h-1zM41 12h1v1h-1zM49 12h1v1h-1zM16 13h1v1h-1zM37 13h1v1h-1zM53 13h1v1h-1zM47 14h1v1h-1zM55 14h1v1h-1zM40 15h1v1h-1zM43 15h1v1h-1zM52 15h1v1h-1zM12 17h2v1h-2zM57 17h1v1h-1zM13 18h1v1h-1zM39 18h1v1h-1zM46 18h1v1h-1zM51 18h1v1h-1zM55 18h1v1h-1zM17 19h1v1h-1zM41 19h1v1h-1zM52 21h1v1h-1zM48 22h1v1h-1zM41 23h1v1h-1zM43 23h2v1h-2zM46 26h1v1h-1zM53 26h1v1h-1zM52 28h1v1h-1zM49 29h1v1h-1zM40 30h1v1h-1zM28 31h1v1h-1zM48 31h1v1h-1zM54 31h2v1h-2zM34 32h1v1h-1zM33 33h1v1h-1zM49 33h1v1h-1zM33 34h1v1h-1zM57 34h1v1h-1zM26 36h1v1h-1zM45 37h1v1h-1zM48 37h1v1h-1zM28 38h1v1h-1zM55 38h3v1h-3zM21 39h1v1h-1zM35 39h1v1h-1zM34 40h1v1h-1zM47 41h2v1h-2zM46 43h1v1h-1zM56 43h1v1h-1zM40 45h1v1h-1zM53 46h1v1h-1zM34 47h1v1h-1zM49 47h1v1h-1zM35 48h1v1h-1zM41 49h1v1h-1zM49 49h1v1h-1zM54 49h1v1h-1zM31 51h1v1h-1zM47 51h1v1h-1zM54 54h1v1h-1zM39 55h1v1h-1zM46 55h1v1h-1zM59 56h1v1h-1zM41 57h1v1h-1zM51 57h1v1h-1zM29 58h1v1h-1zM53 58h1v1h-1zM59 58h1v1h-1zM49 59h1v1h-1zM31 60h1v1h-1zM31 61h1v1h-1zM51 61h1v1h-1zM43 64h1v1h-1zM59 65h1v1h-1zM49 66h1v1h-1zM26 68h1v1h-1zM28 69h1v1h-1zM44 71h1v1h-1zM49 71h1v1h-1zM58 71h1v1h-1zM39 75h1v1h-1zM41 76h1v1h-1zM44 76h1v1h-1zM46 76h1v1h-1zM46 77h1v1h-1zM58 77h1v1h-1zM37 79h1v1h-1zM29 80h1v1h-1zM57 81h1v1h-1zM23 82h1v1h-1zM30 82h3v1h-3zM58 82h1v1h-1zM25 83h1v1h-1zM18 84h1v1h-1zM29 84h1v1h-1zM34 84h1v1h-1zM42 84h1v1h-1zM45 84h1v1h-1zM57 84h1v1h-1zM21 85h1v1h-1zM59 85h1v1h-1zM6 86h1v1h-1zM12 86h2v1h-2zM27 86h1v1h-1zM31 86h1v1h-1zM45 86h1v1h-1zM17 87h1v1h-1zM19 87h1v1h-1zM22 87h1v1h-1zM31 87h1v1h-1zM49 87h1v1h-1zM39 88h1v1h-1zM47 88h1v1h-1zM51 88h1v1h-1zM51 89h1v1h-1zM58 89h1v1h-1zM6 90h1v1h-1zM38 90h1v1h-1zM42 90h1v1h-1zM46 90h1v1h-1zM10 91h1v1h-1zM20 91h1v1h-1zM29 91h2v1h-2zM39 91h1v1h-1zM50 91h1v1h-1zM59 91h1v1h-1zM32 92h1v1h-1zM34 92h1v1h-1zM56 92h1v1h-1zM6 93h1v1h-1zM29 93h1v1h-1zM36 93h1v1h-1zM55 93h1v1h-1zM57 93h1v1h-1zM59 93h1v1h-1zM21 94h1v1h-1zM26 94h2v1h-2zM31 94h1v1h-1zM19 95h1v1h-1zM23 95h1v1h-1zM46 95h1v1h-1zM54 95h1v1h-1zM13 96h1v1h-1zM22 96h1v1h-1zM38 96h1v1h-1zM22 97h1v1h-1zM13 98h1v1h-1zM23 98h1v1h-1zM28 98h1v1h-1zM42 98h1v1h-1zM54 98h1v1h-1zM27 99h1v1h-1zM30 99h1v1h-1zM34 99h1v1h-1zM39 99h1v1h-1z"/>
<path fill="#a6d5e7" d="M11 0h1v1h-1zM13 0h1v1h-1zM17 0h2v1h-2zM26 0h1v1h-1zM31 0h1v1h-1zM38 0h1v1h-1zM12 1h1v1h-1zM19 1h1v1h-1zM39 1h1v1h-1zM44 1h1v1h-1zM48 1h1v1h-1zM19 2h1v1h-1zM25 2h1v1h-1zM50 2h1v1h-1zM56 2h1v1h-1zM58 2h1v1h-1zM13 3h1v1h-1zM15 3h1v1h-1zM33 3h1v1h-1zM41 3h1v1h-1zM58 3h1v1h-1zM48 4h1v1h-1zM58 4h2v1h-2zM5 5h1v1h-1zM7 5h1v1h-1zM18 5h2v1h-2zM27 5h1v1h-1zM30 5h1v1h-1zM39 5h1v1h-1zM49 5h1v1h-1zM11 6h1v1h-1zM16 6h2v1h-2zM19 6h1v1h-1zM43 6h1v1h-1zM46 6h1v1h-1zM55 6h1v1h-1zM5 7h1v1h-1zM13 7h1v1h-1zM31 7h1v1h-1zM36 7h1v1h-1zM39 7h1v1h-1zM1 8h1v1h-1zM31 8h1v1h-1zM14 9h1v1h-1zM19 9h1v1h-1zM32 9h1v1h-1zM55 9h1v1h-1zM58 9h1v1h-1zM0 10h1v1h-1zM9 10h1v1h-1zM23 10h1v1h-1zM31 10h1v1h-1zM37 10h1v1h-1zM54 10h1v1h-1zM11 11h1v1h-1zM16 11h1v1h-1zM25 11h1v1h-1zM34 11h1v1h-1zM55 11h1v1h-1zM57 11h1v1h-1zM34 12h1v1h-1zM23 13h1v1h-1zM30 13h1v1h-1zM36 13h1v1h-1zM43 13h1v1h-1zM6 14h2v1h-2zM25 14h1v1h-1zM29 14h1v1h-1zM53 14h2v1h-2zM8 15h1v1h-1zM27 15h1v1h-1zM35 15h1v1h-1zM46 15h1v1h-1zM54 15h1v1h-1zM11 16h1v1h-1zM57 16h1v1h-1zM17 17h1v1h-1zM24 17h1v1h-1zM36 17h2v1h-2zM54 17h1v1h-1zM29 18h1v1h-1zM34 18h1v1h-1zM37 18h1v1h-1zM44 18h1v1h-1zM14 19h3v1h-3zM22 19h1v1h-1zM27 19h1v1h-1zM30 19h1v1h-1zM46 19h1v1h-1zM50 19h1v1h-1zM52 19h1v1h-1zM59 19h1v1h-1zM4 20h1v1h-1zM15 20h1v1h-1zM18 20h1v1h-1zM22 20h1v1h-1zM37 20h1v1h-1zM13 21h1v1h-1zM29 21h1v1h-1zM32 21h1v1h-1zM35 21h1v1h-1zM38 21h1v1h-1zM49 21h1v1h-1zM56 21h1v1h-1zM32 22h1v1h-1zM52 22h1v1h-1zM55 23h1v1h-1zM32 24h1v1h-1zM47 24h1v1h-1zM59 24h1v1h-1zM44 25h1v1h-1zM58 25h1v1h-1zM41 26h1v1h-1zM51 26h1v1h-1zM46 27h1v1h-1zM53 27h1v1h-1zM57 27h1v1h-1zM14 28h1v1h-1zM39 28h1v1h-1zM59 28h1v1h-1zM17 29h1v1h-1zM39 29h1v1h-1zM46 29h1v1h-1zM58 29h1v1h-1zM20 30h1v1h-1zM26 31h1v1h-1zM44 31h2v1h-2zM47 31h1v1h-1zM26 32h1v1h-1zM45 32h1v1h-1zM48 32h1v1h-1zM23 33h1v1h-1zM36 33h1v1h-1zM25 34h1v1h-1zM29 34h1v1h-1zM31 34h1v1h-1zM43 34h1v1h-1zM55 34h1v1h-1zM59 35h1v1h-1zM46 36h1v1h-1zM21 37h1v1h-1zM52 37h1v1h-1zM56 37h1v1h-1zM45 38h1v1h-1zM52 38h1v1h-1zM23 39h1v1h-1zM40 39h1v1h-1zM47 39h1v1h-1zM55 39h1v1h-1zM19 40h1v1h-1zM30 40h1v1h-1zM33 40h1v1h-1zM51 40h1v1h-1zM30 41h1v1h-1zM35 41h1v1h-1zM50 41h1v1h-1zM26 42h1v1h-1zM31 42h1v1h-1zM35 42h2v1h-2zM51 42h1v1h-1zM57 42h2v1h-2zM38 43h3v1h-3zM54 43h1v1h-1zM29 44h1v1h-1zM47 44h1v1h-1zM53 44h1v1h-1zM57 44h1v1h-1zM21 45h1v1h-1zM27 45h1v1h-1zM52 46h1v1h-1zM16 47h1v1h-1zM27 47h1v1h-1zM44 47h1v1h-1zM55 47h1v1h-1zM21 49h1v1h-1zM23 49h1v1h-1zM34 49h1v1h-1zM45 49h1v1h-1zM27 50h1v1h-1zM37 50h1v1h-1zM45 50h1v1h-1zM27 51h1v1h-1zM33 51h1v1h-1zM39 51h1v1h-1zM45 51h2v1h-2zM48 51h1v1h-1zM58 51h1v1h-1zM28 52h1v1h-1zM30 53h1v1h-1zM49 53h1v1h-1zM56 53h1v1h-1zM58 53h1v1h-1zM29 54h1v1h-1zM40 54h1v1h-1zM30 55h2v1h-2zM51 55h1v1h-1zM23 57h1v1h-1zM29 57h1v1h-1zM31 57h1v1h-1zM48 57h1v1h-1zM40 58h1v1h-1zM48 58h1v1h-1zM55 58h1v1h-1zM48 59h1v1h-1zM56 59h1v1h-1zM33 60h1v1h-1zM35 60h1v1h-1zM44 60h1v1h-1zM23 61h1v1h-1zM27 61h1v1h-1zM37 61h1v1h-1zM54 61h1v1h-1zM25 62h2v1h-2zM34 62h1v1h-1zM39 62h1v1h-1zM49 62h1v1h-1zM53 62h1v1h-1zM55 62h1v1h-1zM27 63h1v1h-1zM36 63h1v1h-1zM38 63h1v1h-1zM48 63h1v1h-1zM51 63h1v1h-1zM57 63h1v1h-1zM26 64h1v1h-1zM46 64h1v1h-1zM21 65h1v1h-1zM31 65h1v1h-1zM45 65h1v1h-1zM51 65h1v1h-1zM57 65h1v1h-1zM26 66h1v1h-1zM36 66h1v1h-1zM42 66h2v1h-2zM47 66h1v1h-1zM50 66h1v1h-1zM56 67h1v1h-1zM41 68h1v1h-1zM45 68h1v1h-1zM47 68h1v1h-1zM49 68h1v1h-1zM53 68h1v1h-1zM25 69h1v1h-1zM41 69h1v1h-1zM43 69h2v1h-2zM19 70h1v1h-1zM26 70h1v1h-1zM32 70h1v1h-1zM34 70h1v1h-1zM36 70h1v1h-1zM54 70h1v1h-1zM27 71h1v1h-1zM37 71h3v1h-3zM42 71h1v1h-1zM22 72h1v1h-1zM47 72h1v1h-1zM27 73h2v1h-2zM48 73h1v1h-1zM55 73h1v1h-1zM59 73h1v1h-1zM39 76h1v1h-1zM49 76h1v1h-1zM17 77h1v1h-1zM39 77h1v1h-1zM41 77h1v1h-1zM24 78h1v1h-1zM27 78h1v1h-1zM40 78h1v1h-1zM43 78h1v1h-1zM45 78h1v1h-1zM16 79h1v1h-1zM19 79h1v1h-1zM54 79h1v1h-1zM12 80h1v1h-1zM18 80h1v1h-1zM42 80h1v1h-1zM54 80h1v1h-1zM16 81h1v1h-1zM19 81h1v1h-1zM33 81h1v1h-1zM50 81h1v1h-1zM56 81h1v1h-1zM59 81h1v1h-1zM11 82h1v1h-1zM18 82h1v1h-1zM25 82h1v1h-1zM35 82h1v1h-1zM40 82h1v1h-1zM42 82h1v1h-1zM54 82h1v1h-1zM8 83h1v1h-1zM11 83h1v1h-1zM15 83h1v1h-1zM8 84h1v1h-1zM41 84h1v1h-1zM54 84h1v1h-1zM1 85h1v1h-1zM22 85h3v1h-3zM27 85h1v1h-1zM37 85h1v1h-1zM43 85h2v1h-2zM47 85h1v1h-1zM51 85h1v1h-1zM55 85h1v1h-1zM57 85h1v1h-1zM30 86h1v1h-1zM36 86h1v1h-1zM9 87h1v1h-1zM23 87h1v1h-1zM25 87h1v1h-1zM12 88h2v1h-2zM18 88h1v1h-1zM33 88h1v1h-1zM4 89h1v1h-1zM13 89h1v1h-1zM15 89h1v1h-1zM43 89h1v1h-1zM47 89h1v1h-1zM4 90h1v1h-1zM5 91h1v1h-1zM11 91h1v1h-1zM27 91h1v1h-1zM33 91h1v1h-1zM38 91h1v1h-1zM0 92h1v1h-1zM7 92h1v1h-1zM15 92h1v1h-1zM24 92h1v1h-1zM28 92h1v1h-1zM1 93h1v1h-1zM7 93h1v1h-1zM20 93h1v1h-1zM23 93h1v1h-1zM38 93h1v1h-1zM1 94h1v1h-1zM24 94h1v1h-1zM40 94h1v1h-1zM55 94h1v1h-1zM14 95h1v1h-1zM21 95h1v1h-1zM55 95h1v1h-1zM57 95h1v1h-1zM11 96h1v1h-1zM24 96h1v1h-1zM26 96h1v1h-1zM35 96h1v1h-1zM50 96h2v1h-2zM54 96h1v1h-1zM24 97h1v1h-1zM37 97h1v1h-1zM41 97h1v1h-1zM57 98h1v1h-1zM33 99h1v1h-1zM37 99h1v1h-1z"/>
<path fill="#6ea6cd" d="M16 0h1v1h-1zM30 0h1v1h-1zM37 0h1v1h-1zM51 0h2v1h-2zM56 0h2v1h-2zM10 1h1v1h-1zM17 1h1v1h-1zM18 2h1v1h-1zM52 2h1v1h-1zM26 3h1v1h-1zM32 3h1v1h-1zM37 3h1v1h-1zM12 4h1v1h-1zM14 4h1v1h-1zM16 4h1v1h-1zM40 4h1v1h-1zM20 5h1v1h-1zM32 5h2v1h-2zM47 5h1v1h-1zM14 6h1v1h-1zM20 6h1v1h-1zM53 6h1v1h-1zM22 7h1v1h-1zM26 7h1v1h-1zM33 7h1v1h-1zM46 7h1v1h-1zM49 7h2v1h-2zM52 7h1v1h-1zM8 8h1v1h-1zM13 8h1v1h-1zM30 8h1v1h-1zM35 8h1v1h-1zM52 8h1v1h-1zM56 8h1v1h-1zM58 8h1v1h-1zM6 9h1v1h-1zM10 9h1v1h-1zM38 9h1v1h-1zM50 9h1v1h-1zM16 10h1v1h-1zM19 10h1v1h-1zM29 10h1v1h-1zM57 10h1v1h-1zM6 12h1v1h-1zM14 12h1v1h-1zM26 12h1v1h-1zM31 12h1v1h-1zM22 13h1v1h-1zM44 13h1v1h-1zM54 13h1v1h-1zM4 14h1v1h-1zM22 14h1v1h-1zM36 14h1v1h-1zM39 14h1v1h-1zM2 15h1v1h-1zM14 15h1v1h-1zM31 15h2v1h-2zM37 15h1v1h-1zM42 15h1v1h-1zM53 15h1v1h-1zM59 15h1v1h-1zM51 16h1v1h-1zM58 16h1v1h-1zM11 17h1v1h-1zM35 17h1v1h-1zM15 18h1v1h-1zM22 18h1v1h-1zM36 18h1v1h-1zM52 18h1v1h-1zM56 18h1v1h-1zM59 18h1v1h-1zM19 19h1v1h-1zM40 19h1v1h-1zM55 19h1v1h-1zM39 20h1v1h-1zM42 20h1v1h-1zM53 20h1v1h-1zM33 21h1v1h-1zM42 21h1v1h-1zM30 22h1v1h-1zM33 23h1v1h-1zM57 23h1v1h-1zM12 24h1v1h-1zM45 24h1v1h-1zM54 24h1v1h-1zM16 25h1v1h-1zM56 25h1v1h-1zM18 26h1v1h-1zM56 26h1v1h-1zM59 26h1v1h-1zM45 27h1v1h-1zM23 28h1v1h-1zM27 28h1v1h-1zM30 28h1v1h-1zM50 29h1v1h-1zM28 30h1v1h-1zM57 30h1v1h-1zM27 32h1v1h-1zM29 32h1v1h-1zM31 32h1v1h-1zM44 32h1v1h-1zM46 32h1v1h-1zM58 32h1v1h-1zM18 33h1v1h-1zM43 33h1v1h-1zM58 33h1v1h-1zM58 34h1v1h-1zM34 35h1v1h-1zM50 35h1v1h-1zM38 36h1v1h-1zM48 36h1v1h-1zM54 36h1v1h-1zM33 37h1v1h-1zM47 37h1v1h-1zM25 38h1v1h-1zM46 38h1v1h-1zM31 39h1v1h-1zM46 39h1v1h-1zM53 39h2v1h-2zM57 39h1v1h-1zM29 40h1v1h-1zM35 40h1v1h-1zM50 40h1v1h-1zM33 41h1v1h-1zM53 41h1v1h-1zM45 42h1v1h-1zM52 42h1v1h-1zM25 43h1v1h-1zM28 43h2v1h-2zM50 43h1v1h-1zM23 44h1v1h-1zM37 44h1v1h-1zM48 44h1v1h-1zM31 45h1v1h-1zM48 45h1v1h-1zM53 45h1v1h-1zM31 47h1v1h-1zM56 47h1v1h-1zM24 49h1v1h-1zM31 49h1v1h-1zM54 50h1v1h-1zM32 51h1v1h-1zM50 51h1v1h-1zM34 53h1v1h-1zM59 53h1v1h-1zM23 54h1v1h-1zM25 54h1v1h-1zM47 55h1v1h-1zM45 56h1v1h-1zM47 56h1v1h-1zM49 56h1v1h-1zM52 57h1v1h-1zM24 58h1v1h-1zM33 58h1v1h-1zM37 58h1v1h-1zM33 59h1v1h-1zM57 59h1v1h-1zM34 60h1v1h-1zM52 60h1v1h-1zM54 60h1v1h-1zM24 61h1v1h-1zM59 61h1v1h-1zM27 62h1v1h-1zM37 62h1v1h-1zM46 62h1v1h-1zM59 63h1v1h-1zM45 64h1v1h-1zM50 64h1v1h-1zM30 66h1v1h-1zM53 66h1v1h-1zM48 67h1v1h-1zM57 67h1v1h-1zM55 68h1v1h-1zM54 69h1v1h-1zM46 70h1v1h-1zM23 71h1v1h-1zM26 73h1v1h-1zM42 73h1v1h-1zM52 73h1v1h-1zM24 74h1v1h-1zM51 74h1v1h-1zM54 75h1v1h-1zM50 76h1v1h-1zM37 77h1v1h-1zM48 77h1v1h-1zM33 78h1v1h-1zM35 78h1v1h-1zM58 78h1v1h-1zM37 80h1v1h-1zM40 80h1v1h-1zM50 80h1v1h-1zM56 80h1v1h-1zM23 81h1v1h-1zM26 81h1v1h-1zM31 81h1v1h-1zM34 81h1v1h-1zM36 81h1v1h-1zM40 81h1v1h-1zM52 81h2v1h-2zM55 82h1v1h-1zM12 83h1v1h-1zM16 83h1v1h-1zM29 83h1v1h-1zM48 83h1v1h-1zM51 83h2v1h-2zM58 84h1v1h-1zM13 85h1v1h-1zM53 85h1v1h-1zM8 86h1v1h-1zM48 86h1v1h-1zM54 86h1v1h-1zM29 87h1v1h-1zM52 87h1v1h-1zM54 87h1v1h-1zM14 89h1v1h-1zM45 89h2v1h-2zM54 89h1v1h-1zM57 89h1v1h-1zM59 89h1v1h-1zM18 90h1v1h-1zM26 90h1v1h-1zM28 90h1v1h-1zM34 90h1v1h-1zM51 90h1v1h-1zM7 91h1v1h-1zM16 91h1v1h-1zM19 91h1v1h-1zM54 91h1v1h-1zM6 92h1v1h-1zM16 92h1v1h-1zM51 92h1v1h-1zM30 93h1v1h-1zM34 93h1v1h-1zM42 93h1v1h-1zM47 93h1v1h-1zM50 93h1v1h-1zM53 93h1v1h-1zM3 94h1v1h-1zM12 94h1v1h-1zM34 94h1v1h-1zM51 94h1v1h-1zM54 94h1v1h-1zM7 95h1v1h-1zM28 95h1v1h-1zM59 95h1v1h-1zM34 96h1v1h-1zM42 96h1v1h-1zM44 96h2v1h-2zM10 97h1v1h-1zM31 97h1v1h-1zM49 97h1v1h-1zM54 97h1v1h-1zM4 98h1v1h-1zM35 98h1v1h-1zM37 98h1v1h-1zM46 98h3v1h-3zM17 99h1v1h-1zM31 99h1v1h-1z"/>
<path fill="#79b1d3" d="M19 0h1v1h-1zM34 0h1v1h-1zM48 0h1v1h-1zM53 0h1v1h-1zM59 0h1v1h-1zM51 1h1v1h-1zM5 2h1v1h-1zM7 2h1v1h-1zM14 2h1v1h-1zM36 2h1v1h-1zM41 2h2v1h-2zM51 2h1v1h-1zM59 2h1v1h-1zM30 3h1v1h-1zM6 4h1v1h-1zM10 4h1v1h-1zM18 4h1v1h-1zM24 4h1v1h-1zM43 4h1v1h-1zM47 4h1v1h-1zM29 5h1v1h-1zM38 5h1v1h-1zM48 5h1v1h-1zM51 5h2v1h-2zM15 6h1v1h-1zM26 6h1v1h-1zM42 6h1v1h-1zM47 6h1v1h-1zM42 7h1v1h-1zM56 7h1v1h-1zM18 8h1v1h-1zM27 8h2v1h-2zM33 8h1v1h-1zM44 8h1v1h-1zM57 8h1v1h-1zM5 9h1v1h-1zM7 9h1v1h-1zM43 9h1v1h-1zM53 9h1v1h-1zM59 9h1v1h-1zM52 10h1v1h-1zM3 11h1v1h-1zM8 11h1v1h-1zM10 11h1v1h-1zM18 11h1v1h-1zM35 11h2v1h-2zM45 11h1v1h-1zM21 12h1v1h-1zM52 12h1v1h-1zM24 13h1v1h-1zM31 13h2v1h-2zM35 13h1v1h-1zM45 13h2v1h-2zM55 13h1v1h-1zM9 14h1v1h-1zM37 14h1v1h-1zM30 15h1v1h-1zM41 15h1v1h-1zM44 15h1v1h-1zM56 15h1v1h-1zM12 16h1v1h-1zM18 16h1v1h-1zM23 16h1v1h-1zM18 17h1v1h-1zM26 17h1v1h-1zM45 17h1v1h-1zM47 17h2v1h-2zM30 18h1v1h-1zM39 19h1v1h-1zM47 19h1v1h-1zM33 20h1v1h-1zM43 20h1v1h-1zM49 20h2v1h-2zM15 21h1v1h-1zM23 21h1v1h-1zM29 22h1v1h-1zM44 22h1v1h-1zM14 23h1v1h-1zM40 23h1v1h-1zM48 23h1v1h-1zM44 24h1v1h-1zM48 25h1v1h-1zM57 25h1v1h-1zM44 26h1v1h-1zM54 26h1v1h-1zM58 26h1v1h-1zM30 27h1v1h-1zM55 28h1v1h-1zM57 28h1v1h-1zM24 29h1v1h-1zM54 29h1v1h-1zM49 30h1v1h-1zM27 31h1v1h-1zM35 31h1v1h-1zM40 31h1v1h-1zM35 32h1v1h-1zM57 32h1v1h-1zM21 33h1v1h-1zM57 33h1v1h-1zM53 34h1v1h-1zM59 34h1v1h-1zM19 35h1v1h-1zM26 35h1v1h-1zM44 35h1v1h-1zM30 36h1v1h-1zM53 36h1v1h-1zM53 37h1v1h-1zM55 37h1v1h-1zM53 38h1v1h-1zM58 39h1v1h-1zM39 40h1v1h-1zM55 40h1v1h-1zM51 41h1v1h-1zM55 41h1v1h-1zM58 41h1v1h-1zM32 42h1v1h-1zM54 42h1v1h-1zM31 43h1v1h-1zM36 43h1v1h-1zM27 44h1v1h-1zM52 44h1v1h-1zM29 45h1v1h-1zM37 45h1v1h-1zM56 45h1v1h-1zM26 46h1v1h-1zM35 46h1v1h-1zM41 46h1v1h-1zM24 47h1v1h-1zM28 47h1v1h-1zM54 48h1v1h-1zM35 49h1v1h-1zM38 49h1v1h-1zM47 49h1v1h-1zM52 49h2v1h-2zM47 50h1v1h-1zM37 51h1v1h-1zM49 51h1v1h-1zM53 51h1v1h-1zM35 52h2v1h-2zM50 53h1v1h-1zM27 54h1v1h-1zM51 54h1v1h-1zM55 54h1v1h-1zM32 55h1v1h-1zM55 55h1v1h-1zM30 56h1v1h-1zM37 56h1v1h-1zM40 56h1v1h-1zM35 57h1v1h-1zM49 58h1v1h-1zM52 58h1v1h-1zM54 58h1v1h-1zM38 59h1v1h-1zM50 59h1v1h-1zM28 60h1v1h-1zM51 60h1v1h-1zM56 60h1v1h-1zM34 61h1v1h-1zM28 62h1v1h-1zM32 62h2v1h-2zM36 62h1v1h-1zM50 62h2v1h-2zM58 62h1v1h-1zM28 65h1v1h-1zM52 65h1v1h-1zM28 66h1v1h-1zM31 66h1v1h-1zM48 66h1v1h-1zM52 67h1v1h-1zM43 68h1v1h-1zM56 68h1v1h-1zM19 69h1v1h-1zM29 69h1v1h-1zM33 69h1v1h-1zM58 69h1v1h-1zM27 70h1v1h-1zM39 70h1v1h-1zM52 70h1v1h-1zM57 70h1v1h-1zM31 71h1v1h-1zM40 71h1v1h-1zM46 72h1v1h-1zM53 72h1v1h-1zM24 73h1v1h-1zM29 73h1v1h-1zM50 73h1v1h-1zM57 73h1v1h-1zM40 75h1v1h-1zM46 75h1v1h-1zM47 76h1v1h-1zM52 76h1v1h-1zM38 77h1v1h-1zM43 77h1v1h-1zM49 77h1v1h-1zM52 77h1v1h-1zM15 79h1v1h-1zM27 79h1v1h-1zM44 79h1v1h-1zM46 79h1v1h-1zM49 79h1v1h-1zM57 79h1v1h-1zM14 80h1v1h-1zM17 80h1v1h-1zM27 80h1v1h-1zM35 80h1v1h-1zM44 80h1v1h-1zM24 81h1v1h-1zM46 81h3v1h-3zM21 82h1v1h-1zM24 82h1v1h-1zM46 82h1v1h-1zM35 83h1v1h-1zM45 83h1v1h-1zM53 83h1v1h-1zM59 83h1v1h-1zM13 84h1v1h-1zM38 84h2v1h-2zM38 85h1v1h-1zM46 85h1v1h-1zM52 85h1v1h-1zM58 85h1v1h-1zM9 86h2v1h-2zM18 86h1v1h-1zM21 86h1v1h-1zM39 86h1v1h-1zM59 86h1v1h-1zM20 87h1v1h-1zM32 87h1v1h-1zM44 87h1v1h-1zM46 87h1v1h-1zM57 87h1v1h-1zM6 88h1v1h-1zM26 88h1v1h-1zM32 88h1v1h-1zM49 88h1v1h-1zM8 89h1v1h-1zM35 89h1v1h-1zM19 90h3v1h-3zM27 90h1v1h-1zM49 90h1v1h-1zM21 91h1v1h-1zM36 91h1v1h-1zM47 91h1v1h-1zM56 91h1v1h-1zM5 92h1v1h-1zM19 92h1v1h-1zM30 92h1v1h-1zM52 92h1v1h-1zM5 93h1v1h-1zM45 93h1v1h-1zM54 93h1v1h-1zM9 94h3v1h-3zM17 94h1v1h-1zM28 94h2v1h-2zM48 94h1v1h-1zM50 94h1v1h-1zM58 94h1v1h-1zM18 95h1v1h-1zM36 95h2v1h-2zM9 96h1v1h-1zM12 96h1v1h-1zM30 96h1v1h-1zM41 96h1v1h-1zM43 96h1v1h-1zM55 96h1v1h-1zM7 97h2v1h-2zM20 97h1v1h-1zM39 97h1v1h-1zM43 97h1v1h-1zM22 98h1v1h-1zM32 98h1v1h-1zM49 98h2v1h-2zM9 99h1v1h-1zM26 99h1v1h-1zM41 99h1v1h-1zM47 99h1v1h-1zM57 99h1v1h-1z"/>
<path fill="#c8e7f1" d="M20 0h1v1h-1zM39 0h1v1h-1zM45 0h1v1h-1zM9 1h1v1h-1zM32 1h1v1h-1zM36 1h1v1h-1zM20 2h2v1h-2zM23 2h1v1h-1zM33 2h2v1h-2zM39 2h1v1h-1zM31 3h1v1h-1zM46 3h1v1h-1zM3 4h1v1h-1zM33 4h1v1h-1zM44 4h1v1h-1zM6 5h1v1h-1zM13 5h1v1h-1zM17 5h1v1h-1zM22 5h1v1h-1zM28 5h1v1h-1zM45 5h1v1h-1zM59 5h1v1h-1zM2 6h1v1h-1zM8 6h1v1h-1zM23 6h1v1h-1zM2 7h1v1h-1zM18 7h1v1h-1zM9 8h1v1h-1zM12 8h1v1h-1zM46 8h1v1h-1zM22 9h1v1h-1zM27 9h1v1h-1zM29 9h1v1h-1zM2 10h1v1h-1zM12 11h1v1h-1zM26 11h1v1h-1zM46 11h1v1h-1zM24 12h2v1h-2zM28 12h1v1h-1zM56 12h1v1h-1zM59 12h1v1h-1zM14 13h1v1h-1zM29 13h1v1h-1zM38 13h1v1h-1zM16 14h1v1h-1zM17 15h1v1h-1zM26 15h1v1h-1zM28 15h1v1h-1zM33 15h1v1h-1zM28 16h1v1h-1zM34 16h1v1h-1zM7 17h1v1h-1zM52 17h1v1h-1zM12 18h1v1h-1zM32 18h2v1h-2zM10 19h1v1h-1zM21 19h1v1h-1zM33 19h1v1h-1zM21 20h1v1h-1zM24 20h1v1h-1zM28 20h2v1h-2zM36 20h1v1h-1zM41 20h1v1h-1zM16 21h1v1h-1zM30 21h1v1h-1zM39 21h1v1h-1zM9 22h1v1h-1zM12 22h1v1h-1zM22 22h1v1h-1zM31 22h1v1h-1zM43 22h1v1h-1zM51 22h1v1h-1zM13 23h1v1h-1zM53 23h1v1h-1zM28 24h1v1h-1zM13 25h1v1h-1zM15 25h1v1h-1zM21 25h1v1h-1zM26 25h1v1h-1zM42 25h1v1h-1zM32 26h1v1h-1zM38 26h1v1h-1zM16 27h1v1h-1zM38 28h1v1h-1zM48 28h1v1h-1zM56 28h1v1h-1zM26 29h1v1h-1zM30 29h1v1h-1zM43 29h1v1h-1zM55 29h1v1h-1zM59 29h1v1h-1zM17 30h1v1h-1zM21 30h2v1h-2zM42 30h1v1h-1zM59 30h1v1h-1zM37 32h1v1h-1zM38 33h1v1h-1zM41 33h1v1h-1zM44 33h1v1h-1zM46 33h1v1h-1zM54 33h1v1h-1zM18 34h1v1h-1zM41 34h1v1h-1zM49 34h1v1h-1zM54 34h1v1h-1zM23 35h1v1h-1zM42 35h1v1h-1zM43 36h1v1h-1zM55 36h1v1h-1zM58 36h1v1h-1zM43 37h1v1h-1zM23 38h1v1h-1zM27 38h1v1h-1zM32 38h1v1h-1zM39 38h1v1h-1zM40 40h1v1h-1zM45 40h1v1h-1zM54 40h1v1h-1zM19 41h1v1h-1zM26 41h1v1h-1zM38 41h1v1h-1zM20 42h1v1h-1zM38 42h1v1h-1zM22 43h1v1h-1zM47 43h1v1h-1zM22 44h1v1h-1zM58 45h1v1h-1zM24 46h1v1h-1zM30 46h1v1h-1zM56 46h2v1h-2zM26 47h1v1h-1zM51 47h1v1h-1zM57 47h1v1h-1zM19 48h1v1h-1zM27 48h1v1h-1zM36 48h2v1h-2zM59 49h1v1h-1zM25 50h1v1h-1zM31 50h1v1h-1zM52 50h1v1h-1zM21 52h1v1h-1zM30 52h1v1h-1zM33 52h1v1h-1zM48 52h1v1h-1zM54 52h1v1h-1zM56 52h1v1h-1zM30 54h1v1h-1zM36 54h1v1h-1zM48 54h1v1h-1zM34 55h1v1h-1zM25 56h1v1h-1zM34 56h1v1h-1zM58 56h1v1h-1zM37 57h1v1h-1zM43 57h1v1h-1zM45 58h1v1h-1zM24 59h1v1h-1zM36 59h1v1h-1zM51 59h1v1h-1zM59 59h1v1h-1zM30 60h1v1h-1zM36 60h1v1h-1zM49 60h1v1h-1zM53 61h1v1h-1zM44 62h2v1h-2zM56 62h1v1h-1zM32 64h2v1h-2zM35 64h1v1h-1zM49 64h1v1h-1zM53 64h1v1h-1zM18 65h1v1h-1zM43 65h1v1h-1zM22 66h1v1h-1zM29 66h1v1h-1zM32 66h1v1h-1zM41 66h1v1h-1zM54 66h1v1h-1zM57 66h1v1h-1zM19 67h1v1h-1zM35 67h2v1h-2zM44 67h1v1h-1zM58 67h1v1h-1zM24 68h1v1h-1zM42 68h1v1h-1zM50 68h1v1h-1zM36 69h1v1h-1zM21 70h1v1h-1zM20 71h1v1h-1zM54 71h1v1h-1zM59 71h1v1h-1zM26 72h1v1h-1zM28 72h1v1h-1zM36 72h1v1h-1zM58 72h1v1h-1zM39 73h1v1h-1zM25 74h1v1h-1zM29 74h1v1h-1zM44 74h1v1h-1zM50 74h1v1h-1zM53 75h1v1h-1zM14 76h1v1h-1zM29 76h1v1h-1zM40 76h1v1h-1zM27 77h1v1h-1zM13 78h1v1h-1zM16 78h1v1h-1zM19 78h1v1h-1zM30 78h1v1h-1zM41 79h1v1h-1zM47 79h1v1h-1zM23 80h1v1h-1zM33 80h1v1h-1zM36 80h1v1h-1zM48 80h1v1h-1zM55 80h1v1h-1zM11 81h1v1h-1zM17 81h1v1h-1zM35 81h1v1h-1zM12 82h1v1h-1zM59 82h1v1h-1zM9 83h1v1h-1zM23 83h1v1h-1zM43 83h1v1h-1zM58 83h1v1h-1zM10 84h1v1h-1zM6 85h1v1h-1zM20 85h1v1h-1zM29 85h1v1h-1zM32 86h1v1h-1zM57 86h1v1h-1zM4 87h1v1h-1zM15 87h1v1h-1zM22 89h1v1h-1zM40 89h1v1h-1zM24 90h1v1h-1zM43 90h1v1h-1zM28 91h1v1h-1zM25 92h1v1h-1zM42 92h1v1h-1zM8 93h1v1h-1zM16 93h1v1h-1zM26 93h1v1h-1zM8 94h1v1h-1zM15 94h1v1h-1zM18 96h1v1h-1zM23 96h1v1h-1zM6 97h1v1h-1zM21 98h1v1h-1zM53 98h1v1h-1zM3 99h1v1h-1z"/>
<path fill="#e5f5ef" d="M21 0h1v1h-1zM28 0h1v1h-1zM46 0h1v1h-1zM58 0h1v1h-1zM16 1h1v1h-1zM22 1h1v1h-1zM25 1h1v1h-1zM49 1h1v1h-1zM14 3h1v1h-1zM18 3h1v1h-1zM21 3h1v1h-1zM47 3h2v1h-2zM57 4h1v1h-1zM51 7h1v1h-1zM57 7h1v1h-1zM7 8h1v1h-1zM40 8h1v1h-1zM21 9h1v1h-1zM25 9h1v1h-1zM17 10h1v1h-1zM30 10h1v1h-1zM5 11h1v1h-1zM20 12h1v1h-1zM6 13h1v1h-1zM9 13h1v1h-1zM17 13h1v1h-1zM19 13h1v1h-1zM27 13h2v1h-2zM8 14h1v1h-1zM40 14h1v1h-1zM4 15h1v1h-1zM24 15h1v1h-1zM36 15h1v1h-1zM1 16h1v1h-1zM7 16h1v1h-1zM15 16h1v1h-1zM20 17h1v1h-1zM38 18h1v1h-1zM6 19h1v1h-1zM20 19h1v1h-1zM54 19h1v1h-1zM25 20h1v1h-1zM44 20h1v1h-1zM18 21h1v1h-1zM21 21h1v1h-1zM34 21h1v1h-1zM17 23h1v1h-1zM46 23h1v1h-1zM7 24h1v1h-1zM17 24h1v1h-1zM26 24h1v1h-1zM30 24h1v1h-1zM31 25h1v1h-1zM33 25h1v1h-1zM36 25h1v1h-1zM11 26h1v1h-1zM13 26h1v1h-1zM21 26h1v1h-1zM25 26h1v1h-1zM35 26h1v1h-1zM13 27h1v1h-1zM18 27h1v1h-1zM24 27h1v1h-1zM35 27h1v1h-1zM44 27h1v1h-1zM36 30h1v1h-1zM44 30h1v1h-1zM19 31h1v1h-1zM36 31h1v1h-1zM50 31h1v1h-1zM15 32h2v1h-2zM36 32h1v1h-1zM22 33h1v1h-1zM27 33h1v1h-1zM22 34h1v1h-1zM27 34h1v1h-1zM39 34h1v1h-1zM45 34h1v1h-1zM16 35h1v1h-1zM0 36h1v1h-1zM28 36h2v1h-2zM20 38h1v1h-1zM26 38h1v1h-1zM31 38h1v1h-1zM41 38h1v1h-1zM50 38h1v1h-1zM59 38h1v1h-1zM19 39h1v1h-1zM24 39h2v1h-2zM32 39h1v1h-1zM16 40h1v1h-1zM37 40h1v1h-1zM43 40h1v1h-1zM49 40h1v1h-1zM53 40h1v1h-1zM49 41h1v1h-1zM59 41h1v1h-1zM16 42h1v1h-1zM22 42h1v1h-1zM24 43h1v1h-1zM44 43h1v1h-1zM43 45h1v1h-1zM32 46h1v1h-1zM34 46h1v1h-1zM38 46h1v1h-1zM51 46h1v1h-1zM54 46h2v1h-2zM32 47h1v1h-1zM33 48h1v1h-1zM44 48h1v1h-1zM46 48h1v1h-1zM56 48h1v1h-1zM36 49h1v1h-1zM20 52h1v1h-1zM23 52h1v1h-1zM50 52h1v1h-1zM19 53h1v1h-1zM21 53h1v1h-1zM26 53h1v1h-1zM17 54h1v1h-1zM41 54h1v1h-1zM19 55h1v1h-1zM44 55h1v1h-1zM20 58h1v1h-1zM26 58h1v1h-1zM57 58h1v1h-1zM30 59h1v1h-1zM40 59h2v1h-2zM22 61h1v1h-1zM10 63h1v1h-1zM33 63h1v1h-1zM19 64h1v1h-1zM22 65h1v1h-1zM47 65h1v1h-1zM18 66h1v1h-1zM34 66h1v1h-1zM16 67h1v1h-1zM23 68h1v1h-1zM30 68h1v1h-1zM37 68h1v1h-1zM17 69h1v1h-1zM53 69h1v1h-1zM37 70h1v1h-1zM42 70h1v1h-1zM21 72h1v1h-1zM34 72h1v1h-1zM51 72h1v1h-1zM53 73h1v1h-1zM37 74h1v1h-1zM46 74h1v1h-1zM19 75h1v1h-1zM28 75h1v1h-1zM10 76h1v1h-1zM27 76h1v1h-1zM15 77h1v1h-1zM20 77h1v1h-1zM30 77h1v1h-1zM36 78h1v1h-1zM10 79h1v1h-1zM13 79h1v1h-1zM21 79h2v1h-2zM32 79h1v1h-1zM22 80h1v1h-1zM49 80h1v1h-1zM12 81h1v1h-1zM5 82h2v1h-2zM26 82h1v1h-1zM39 82h1v1h-1zM56 82h1v1h-1zM5 84h1v1h-1zM3 85h1v1h-1zM25 86h1v1h-1zM43 86h1v1h-1zM8 88h1v1h-1zM53 88h1v1h-1zM41 89h1v1h-1zM56 89h1v1h-1zM15 90h1v1h-1zM48 90h1v1h-1zM13 91h1v1h-1zM26 91h1v1h-1zM34 91h1v1h-1zM8 92h1v1h-1zM39 92h1v1h-1zM10 93h1v1h-1zM15 93h1v1h-1zM28 93h1v1h-1zM14 96h1v1h-1zM28 96h1v1h-1zM1 98h2v1h-2z"/>
<path fill="#bde2ee" d="M23 0h1v1h-1zM25 0h1v1h-1zM32 0h1v1h-1zM44 0h1v1h-1zM49 0h1v1h-1zM1 1h1v1h-1zM3 1h1v1h-1zM40 1h1v1h-1zM46 1h1v1h-1zM58 1h2v1h-2zM8 2h1v1h-1zM7 3h1v1h-1zM9 3h1v1h-1zM38 3h1v1h-1zM40 3h1v1h-1zM49 3h1v1h-1zM4 4h2v1h-2zM8 4h1v1h-1zM17 4h1v1h-1zM21 4h1v1h-1zM31 4h1v1h-1zM45 4h1v1h-1zM52 4h1v1h-1zM2 5h1v1h-1zM16 5h1v1h-1zM43 5h2v1h-2zM1 6h1v1h-1zM4 6h1v1h-1zM22 6h1v1h-1zM28 6h1v1h-1zM33 6h1v1h-1zM41 6h1v1h-1zM44 6h1v1h-1zM12 7h1v1h-1zM24 7h1v1h-1zM29 7h1v1h-1zM4 8h1v1h-1zM38 8h1v1h-1zM48 8h1v1h-1zM53 8h3v1h-3zM9 9h1v1h-1zM45 9h1v1h-1zM3 10h1v1h-1zM35 10h1v1h-1zM40 10h1v1h-1zM44 10h1v1h-1zM0 11h1v1h-1zM28 11h1v1h-1zM50 11h3v1h-3zM11 12h1v1h-1zM39 12h1v1h-1zM48 12h1v1h-1zM51 12h1v1h-1zM18 13h1v1h-1zM34 13h1v1h-1zM50 13h1v1h-1zM10 14h1v1h-1zM27 14h1v1h-1zM33 14h1v1h-1zM45 14h1v1h-1zM51 14h1v1h-1zM5 15h1v1h-1zM19 15h1v1h-1zM48 15h1v1h-1zM10 16h1v1h-1zM29 16h2v1h-2zM42 16h1v1h-1zM14 17h1v1h-1zM29 17h1v1h-1zM40 17h1v1h-1zM58 17h2v1h-2zM10 18h2v1h-2zM16 18h1v1h-1zM20 18h1v1h-1zM26 18h1v1h-1zM31 19h1v1h-1zM10 21h1v1h-1zM37 21h1v1h-1zM43 21h1v1h-1zM58 21h1v1h-1zM13 22h1v1h-1zM25 22h1v1h-1zM28 22h1v1h-1zM35 22h2v1h-2zM38 22h1v1h-1zM46 22h1v1h-1zM11 23h1v1h-1zM15 23h1v1h-1zM30 23h1v1h-1zM37 23h1v1h-1zM21 24h1v1h-1zM23 24h1v1h-1zM25 24h1v1h-1zM51 24h1v1h-1zM55 24h2v1h-2zM35 25h1v1h-1zM41 25h1v1h-1zM47 25h1v1h-1zM45 26h1v1h-1zM22 27h1v1h-1zM27 27h1v1h-1zM34 27h1v1h-1zM38 27h1v1h-1zM48 27h1v1h-1zM52 27h1v1h-1zM59 27h1v1h-1zM17 28h1v1h-1zM32 28h1v1h-1zM50 28h1v1h-1zM41 29h1v1h-1zM51 29h1v1h-1zM31 30h1v1h-1zM39 30h1v1h-1zM45 30h1v1h-1zM56 31h1v1h-1zM19 32h1v1h-1zM59 32h1v1h-1zM20 33h1v1h-1zM37 33h1v1h-1zM23 34h1v1h-1zM24 35h1v1h-1zM31 35h3v1h-3zM35 35h1v1h-1zM56 35h1v1h-1zM17 36h1v1h-1zM19 36h1v1h-1zM40 36h1v1h-1zM44 36h1v1h-1zM59 36h1v1h-1zM17 37h1v1h-1zM26 37h1v1h-1zM36 37h1v1h-1zM44 37h1v1h-1zM29 38h1v1h-1zM36 38h1v1h-1zM38 39h1v1h-1zM51 39h1v1h-1zM59 39h1v1h-1zM23 40h1v1h-1zM27 40h1v1h-1zM36 40h1v1h-1zM38 40h1v1h-1zM47 40h1v1h-1zM23 41h1v1h-1zM32 41h1v1h-1zM37 41h1v1h-1zM33 42h1v1h-1zM41 42h1v1h-1zM23 43h1v1h-1zM34 43h1v1h-1zM41 43h1v1h-1zM36 45h1v1h-1zM41 45h1v1h-1zM45 45h1v1h-1zM50 45h1v1h-1zM33 47h1v1h-1zM50 47h1v1h-1zM52 47h1v1h-1zM59 47h1v1h-1zM22 48h1v1h-1zM34 48h1v1h-1zM47 48h1v1h-1zM55 48h1v1h-1zM58 48h1v1h-1zM33 49h1v1h-1zM50 49h1v1h-1zM26 50h1v1h-1zM32 50h1v1h-1zM39 50h1v1h-1zM57 50h1v1h-1zM30 51h1v1h-1zM35 51h1v1h-1zM41 51h1v1h-1zM56 51h2v1h-2zM24 52h1v1h-1zM51 52h1v1h-1zM55 52h1v1h-1zM23 53h3v1h-3zM31 53h1v1h-1zM33 53h1v1h-1zM37 53h1v1h-1zM46 53h1v1h-1zM39 54h1v1h-1zM46 54h1v1h-1zM23 55h2v1h-2zM29 55h1v1h-1zM35 55h1v1h-1zM45 55h1v1h-1zM53 55h1v1h-1zM56 55h1v1h-1zM26 56h1v1h-1zM36 56h1v1h-1zM52 56h1v1h-1zM34 57h1v1h-1zM57 57h1v1h-1zM23 58h1v1h-1zM25 58h1v1h-1zM28 58h1v1h-1zM34 58h1v1h-1zM26 59h1v1h-1zM22 60h1v1h-1zM27 60h1v1h-1zM47 60h1v1h-1zM48 61h1v1h-1zM52 62h1v1h-1zM44 63h1v1h-1zM24 64h1v1h-1zM28 64h1v1h-1zM38 64h1v1h-1zM25 65h1v1h-1zM32 65h1v1h-1zM38 65h1v1h-1zM53 65h1v1h-1zM25 66h1v1h-1zM27 66h1v1h-1zM45 66h1v1h-1zM56 66h1v1h-1zM28 67h1v1h-1zM51 67h1v1h-1zM40 68h1v1h-1zM52 68h1v1h-1zM21 69h1v1h-1zM23 69h1v1h-1zM48 69h1v1h-1zM24 70h1v1h-1zM16 71h1v1h-1zM18 71h1v1h-1zM41 72h1v1h-1zM45 72h1v1h-1zM43 73h1v1h-1zM56 73h1v1h-1zM19 74h1v1h-1zM28 74h1v1h-1zM35 74h1v1h-1zM38 74h1v1h-1zM40 74h1v1h-1zM45 74h1v1h-1zM25 75h1v1h-1zM31 75h2v1h-2zM59 75h1v1h-1zM33 76h1v1h-1zM54 76h1v1h-1zM58 76h1v1h-1zM28 77h2v1h-2zM45 77h1v1h-1zM47 77h1v1h-1zM24 79h1v1h-1zM26 79h1v1h-1zM28 79h1v1h-1zM33 79h1v1h-1zM43 79h1v1h-1zM55 79h1v1h-1zM25 80h1v1h-1zM14 81h1v1h-1zM13 82h1v1h-1zM14 84h1v1h-1zM25 84h1v1h-1zM36 84h1v1h-1zM46 84h1v1h-1zM9 85h1v1h-1zM35 85h1v1h-1zM41 85h1v1h-1zM55 86h2v1h-2zM11 87h1v1h-1zM21 87h1v1h-1zM45 87h1v1h-1zM17 88h1v1h-1zM22 88h1v1h-1zM12 89h1v1h-1zM29 89h1v1h-1zM34 89h1v1h-1zM37 89h1v1h-1zM22 90h1v1h-1zM30 90h1v1h-1zM50 90h1v1h-1zM58 90h1v1h-1zM8 91h1v1h-1zM14 91h1v1h-1zM23 91h1v1h-1zM35 91h1v1h-1zM14 92h1v1h-1zM33 92h1v1h-1zM38 92h1v1h-1zM2 93h3v1h-3zM33 93h1v1h-1zM51 93h1v1h-1zM14 94h1v1h-1zM3 95h1v1h-1zM13 95h1v1h-1zM29 95h1v1h-1zM41 95h1v1h-1zM43 95h1v1h-1zM56 95h1v1h-1zM17 96h1v1h-1zM32 96h1v1h-1zM46 96h1v1h-1zM1 97h1v1h-1zM13 97h1v1h-1zM19 97h1v1h-1zM21 97h1v1h-1zM25 97h1v1h-1zM33 97h1v1h-1zM16 98h2v1h-2zM14 99h1v1h-1z"/>
<path fill="#649ac7" d="M42 0h1v1h-1zM14 1h1v1h-1zM21 1h1v1h-1zM47 1h1v1h-1zM12 2h1v1h-1zM16 2h1v1h-1zM31 2h1v1h-1zM12 3h1v1h-1zM23 3h1v1h-1zM50 3h1v1h-1zM53 3h1v1h-1zM19 4h1v1h-1zM27 4h1v1h-1zM50 5h1v1h-1zM59 7h1v1h-1zM17 8h1v1h-1zM43 8h1v1h-1zM33 9h1v1h-1zM46 9h1v1h-1zM56 9h1v1h-1zM5 10h1v1h-1zM7 12h1v1h-1zM54 12h1v1h-1zM7 13h2v1h-2zM12 13h1v1h-1zM59 13h1v1h-1zM17 14h1v1h-1zM26 14h1v1h-1zM12 15h1v1h-1zM47 15h1v1h-1zM55 15h1v1h-1zM49 17h1v1h-1zM58 18h1v1h-1zM30 20h1v1h-1zM27 21h1v1h-1zM47 21h2v1h-2zM54 21h2v1h-2zM53 22h1v1h-1zM55 22h1v1h-1zM47 23h1v1h-1zM51 23h1v1h-1zM34 24h1v1h-1zM36 24h1v1h-1zM55 26h1v1h-1zM22 28h1v1h-1zM43 28h1v1h-1zM21 29h1v1h-1zM28 29h1v1h-1zM33 29h1v1h-1zM27 30h1v1h-1zM29 30h1v1h-1zM52 30h1v1h-1zM25 31h1v1h-1zM42 31h1v1h-1zM53 31h1v1h-1zM35 33h1v1h-1zM30 34h1v1h-1zM48 34h1v1h-1zM22 35h1v1h-1zM28 35h1v1h-1zM22 36h1v1h-1zM24 37h1v1h-1zM35 37h1v1h-1zM48 38h1v1h-1zM58 38h1v1h-1zM31 40h1v1h-1zM34 41h1v1h-1zM39 41h1v1h-1zM48 42h1v1h-1zM50 42h1v1h-1zM51 44h1v1h-1zM55 44h1v1h-1zM38 47h1v1h-1zM39 48h1v1h-1zM56 49h1v1h-1zM58 49h1v1h-1zM59 50h1v1h-1zM55 53h1v1h-1zM33 54h1v1h-1zM57 54h1v1h-1zM36 55h1v1h-1zM54 55h1v1h-1zM45 57h1v1h-1zM45 59h1v1h-1zM52 59h1v1h-1zM29 61h1v1h-1zM47 61h1v1h-1zM52 61h1v1h-1zM56 61h1v1h-1zM48 64h1v1h-1zM56 65h1v1h-1zM33 66h1v1h-1zM51 66h1v1h-1zM46 67h1v1h-1zM54 67h1v1h-1zM59 67h1v1h-1zM22 68h1v1h-1zM25 68h1v1h-1zM29 68h1v1h-1zM42 69h1v1h-1zM55 69h2v1h-2zM28 70h1v1h-1zM53 70h1v1h-1zM24 71h1v1h-1zM47 71h1v1h-1zM51 71h1v1h-1zM44 72h1v1h-1zM54 72h1v1h-1zM23 73h1v1h-1zM34 74h1v1h-1zM34 75h2v1h-2zM34 76h3v1h-3zM56 76h1v1h-1zM36 77h1v1h-1zM54 77h1v1h-1zM38 78h1v1h-1zM46 78h1v1h-1zM51 78h1v1h-1zM28 80h1v1h-1zM32 80h1v1h-1zM57 80h1v1h-1zM39 81h1v1h-1zM34 82h1v1h-1zM49 82h2v1h-2zM13 83h1v1h-1zM24 83h1v1h-1zM41 83h1v1h-1zM47 83h1v1h-1zM12 84h1v1h-1zM31 84h1v1h-1zM54 85h1v1h-1zM56 85h1v1h-1zM23 86h1v1h-1zM37 86h1v1h-1zM50 86h2v1h-2zM58 86h1v1h-1zM40 87h1v1h-1zM55 87h1v1h-1zM59 87h1v1h-1zM14 88h1v1h-1zM23 88h1v1h-1zM34 88h1v1h-1zM37 88h1v1h-1zM40 88h1v1h-1zM45 88h1v1h-1zM16 89h1v1h-1zM19 89h1v1h-1zM31 89h1v1h-1zM11 90h1v1h-1zM32 90h1v1h-1zM37 90h1v1h-1zM44 90h2v1h-2zM56 90h1v1h-1zM48 91h2v1h-2zM13 92h1v1h-1zM36 92h1v1h-1zM41 92h1v1h-1zM53 92h1v1h-1zM57 92h1v1h-1zM35 93h1v1h-1zM37 93h1v1h-1zM52 93h1v1h-1zM58 93h1v1h-1zM5 94h1v1h-1zM16 94h1v1h-1zM22 94h1v1h-1zM35 94h1v1h-1zM38 94h1v1h-1zM15 95h1v1h-1zM30 95h1v1h-1zM44 95h1v1h-1zM5 96h1v1h-1zM7 96h1v1h-1zM21 96h1v1h-1zM25 96h1v1h-1zM29 96h1v1h-1zM49 96h1v1h-1zM9 97h1v1h-1zM14 97h1v1h-1zM35 97h1v1h-1zM48 97h1v1h-1zM53 97h1v1h-1zM6 98h1v1h-1zM11 98h1v1h-1zM30 98h1v1h-1zM39 98h1v1h-1zM43 98h1v1h-1zM56 98h1v1h-1zM24 99h1v1h-1zM58 99h1v1h-1z"/>
<path fill="#4777b5" d="M15 1h1v1h-1zM29 1h1v1h-1zM35 2h1v1h-1zM37 2h1v1h-1zM17 3h1v1h-1zM36 3h1v1h-1zM51 3h1v1h-1zM46 4h1v1h-1zM31 5h1v1h-1zM58 5h1v1h-1zM30 6h1v1h-1zM50 6h1v1h-1zM9 7h1v1h-1zM11 7h1v1h-1zM47 7h1v1h-1zM44 9h1v1h-1zM20 11h1v1h-1zM24 11h1v1h-1zM58 11h1v1h-1zM13 12h1v1h-1zM38 12h1v1h-1zM4 13h1v1h-1zM50 14h1v1h-1zM59 14h1v1h-1zM58 15h1v1h-1zM9 16h1v1h-1zM54 18h1v1h-1zM34 19h1v1h-1zM42 19h1v1h-1zM35 20h1v1h-1zM58 20h2v1h-2zM37 22h1v1h-1zM39 22h1v1h-1zM58 22h2v1h-2zM52 23h1v1h-1zM35 24h1v1h-1zM46 24h1v1h-1zM54 25h1v1h-1zM39 26h1v1h-1zM29 29h1v1h-1zM19 30h1v1h-1zM52 31h1v1h-1zM40 32h1v1h-1zM55 32h1v1h-1zM46 34h1v1h-1zM50 36h1v1h-1zM57 36h1v1h-1zM34 37h1v1h-1zM21 38h1v1h-1zM37 38h1v1h-1zM58 40h1v1h-1zM55 42h1v1h-1zM33 44h1v1h-1zM40 44h1v1h-1zM59 44h1v1h-1zM33 45h1v1h-1zM49 45h1v1h-1zM57 48h1v1h-1zM59 51h1v1h-1zM35 53h1v1h-1zM39 53h1v1h-1zM48 55h1v1h-1zM54 56h1v1h-1zM39 57h1v1h-1zM55 59h1v1h-1zM55 60h1v1h-1zM58 63h1v1h-1zM27 64h1v1h-1zM28 68h1v1h-1zM48 70h1v1h-1zM44 73h1v1h-1zM58 73h1v1h-1zM52 74h1v1h-1zM50 75h1v1h-1zM42 77h1v1h-1zM39 78h1v1h-1zM24 80h1v1h-1zM58 81h1v1h-1zM53 82h1v1h-1zM26 83h1v1h-1zM42 83h1v1h-1zM46 83h1v1h-1zM48 84h1v1h-1zM50 84h1v1h-1zM16 85h2v1h-2zM25 85h1v1h-1zM52 86h1v1h-1zM59 88h1v1h-1zM50 89h1v1h-1zM35 90h2v1h-2zM31 91h1v1h-1zM52 91h1v1h-1zM2 92h1v1h-1zM17 92h1v1h-1zM29 92h1v1h-1zM55 92h1v1h-1zM13 93h1v1h-1zM59 94h1v1h-1zM31 95h1v1h-1zM33 95h1v1h-1zM47 95h1v1h-1zM39 96h2v1h-2zM52 96h1v1h-1zM51 98h1v1h-1zM13 99h1v1h-1z"/>
<path fill="#3e5da8" d="M30 1h1v1h-1zM52 1h1v1h-1zM38 2h1v1h-1zM15 4h1v1h-1zM57 5h1v1h-1zM43 10h1v1h-1zM20 13h1v1h-1zM41 13h1v1h-1zM56 14h1v1h-1zM34 20h1v1h-1zM55 20h1v1h-1zM42 22h1v1h-1zM23 25h1v1h-1zM51 37h1v1h-1zM48 43h1v1h-1zM38 48h1v1h-1zM57 49h1v1h-1zM38 51h1v1h-1zM48 53h1v1h-1zM58 68h1v1h-1zM25 71h1v1h-1zM43 76h1v1h-1zM49 78h1v1h-1zM34 80h1v1h-1zM38 80h1v1h-1zM15 81h1v1h-1zM22 82h1v1h-1zM12 87h1v1h-1zM39 87h1v1h-1zM48 87h1v1h-1zM52 89h1v1h-1zM31 90h1v1h-1zM18 91h1v1h-1zM24 91h1v1h-1zM53 96h1v1h-1zM5 98h1v1h-1zM42 99h1v1h-1z"/>
<path fill="#5183bb" d="M56 1h1v1h-1zM7 4h1v1h-1zM22 4h1v1h-1zM55 4h1v1h-1zM56 5h1v1h-1zM37 6h1v1h-1zM52 6h1v1h-1zM34 7h1v1h-1zM53 7h1v1h-1zM37 8h1v1h-1zM31 9h1v1h-1zM6 10h1v1h-1zM8 10h1v1h-1zM14 10h1v1h-1zM25 10h1v1h-1zM46 10h1v1h-1zM59 11h1v1h-1zM47 12h1v1h-1zM21 14h1v1h-1zM51 15h1v1h-1zM55 16h1v1h-1zM42 17h1v1h-1zM32 19h1v1h-1zM54 20h1v1h-1zM36 21h1v1h-1zM45 22h1v1h-1zM57 22h1v1h-1zM50 23h1v1h-1zM59 23h1v1h-1zM26 26h1v1h-1zM51 27h1v1h-1zM18 28h1v1h-1zM53 29h1v1h-1zM26 30h1v1h-1zM21 32h1v1h-1zM25 32h1v1h-1zM28 33h1v1h-1zM27 35h1v1h-1zM54 35h1v1h-1zM57 35h1v1h-1zM25 36h1v1h-1zM22 38h1v1h-1zM51 38h1v1h-1zM49 39h1v1h-1zM21 41h1v1h-1zM53 43h1v1h-1zM41 44h1v1h-1zM57 45h1v1h-1zM50 46h1v1h-1zM26 48h1v1h-1zM40 48h1v1h-1zM24 50h1v1h-1zM32 54h1v1h-1zM53 54h1v1h-1zM58 54h1v1h-1zM26 55h1v1h-1zM59 55h1v1h-1zM53 57h1v1h-1zM49 61h1v1h-1zM54 64h2v1h-2zM35 65h1v1h-1zM49 65h2v1h-2zM55 65h1v1h-1zM59 66h1v1h-1zM42 67h1v1h-1zM31 68h1v1h-1zM51 68h1v1h-1zM22 69h1v1h-1zM47 70h1v1h-1zM49 70h1v1h-1zM40 72h1v1h-1zM51 73h1v1h-1zM57 74h1v1h-1zM51 75h1v1h-1zM45 76h1v1h-1zM50 77h1v1h-1zM55 77h1v1h-1zM34 78h1v1h-1zM44 78h1v1h-1zM29 79h1v1h-1zM48 79h1v1h-1zM20 81h1v1h-1zM49 81h1v1h-1zM51 81h1v1h-1zM55 81h1v1h-1zM43 82h1v1h-1zM45 82h1v1h-1zM32 84h1v1h-1zM34 85h1v1h-1zM48 85h1v1h-1zM14 86h1v1h-1zM17 86h1v1h-1zM34 86h1v1h-1zM35 87h2v1h-2zM30 88h1v1h-1zM25 90h1v1h-1zM41 90h1v1h-1zM53 90h1v1h-1zM0 91h1v1h-1zM51 91h1v1h-1zM58 91h1v1h-1zM12 92h1v1h-1zM39 93h1v1h-1zM20 94h1v1h-1zM30 94h1v1h-1zM45 94h1v1h-1zM49 94h1v1h-1zM22 95h1v1h-1zM48 95h3v1h-3zM58 96h1v1h-1zM18 97h1v1h-1zM29 97h1v1h-1zM32 97h1v1h-1zM42 97h1v1h-1zM56 97h1v1h-1zM58 97h1v1h-1zM10 98h1v1h-1zM12 98h1v1h-1zM14 98h1v1h-1zM33 98h1v1h-1zM40 99h1v1h-1zM46 99h1v1h-1zM54 99h1v1h-1zM56 99h1v1h-1z"/>
<path fill="#313695" d="M57 1h1v1h-1zM3 5h1v1h-1zM15 5h1v1h-1zM51 17h1v1h-1zM44 28h1v1h-1zM46 37h1v1h-1zM46 44h1v1h-1zM54 44h1v1h-1zM58 74h1v1h-1zM38 76h1v1h-1zM53 78h1v1h-1zM30 85h1v1h-1zM53 86h1v1h-1zM38 87h1v1h-1zM51 87h1v1h-1zM25 88h1v1h-1zM29 88h1v1h-1zM8 90h1v1h-1zM57 91h1v1h-1zM50 92h1v1h-1zM9 93h1v1h-1zM46 93h1v1h-1zM22 99h1v1h-1z"/>
<path fill="#ffffbf" d="M1 2h1v1h-1zM2 4h1v1h-1zM53 5h1v1h-1zM31 6h1v1h-1zM45 7h1v1h-1zM3 9h1v1h-1zM52 9h1v1h-1zM55 10h2v1h-2zM8 16h1v1h-1zM5 18h1v1h-1zM32 20h1v1h-1zM6 21h2v1h-2zM22 21h1v1h-1zM40 21h1v1h-1zM15 22h1v1h-1zM18 22h2v1h-2zM26 22h1v1h-1zM21 23h1v1h-1zM23 23h1v1h-1zM9 24h1v1h-1zM9 25h1v1h-1zM31 26h1v1h-1zM4 27h1v1h-1zM11 27h1v1h-1zM8 28h1v1h-1zM0 29h1v1h-1zM19 29h1v1h-1zM0 30h1v1h-1zM37 30h1v1h-1zM5 31h1v1h-1zM8 31h1v1h-1zM38 31h1v1h-1zM14 32h1v1h-1zM13 33h1v1h-1zM13 35h2v1h-2zM12 36h1v1h-1zM14 36h1v1h-1zM16 36h1v1h-1zM21 36h1v1h-1zM10 37h1v1h-1zM12 37h1v1h-1zM15 37h1v1h-1zM18 37h1v1h-1zM11 38h1v1h-1zM11 39h1v1h-1zM16 39h1v1h-1zM41 39h1v1h-1zM48 40h1v1h-1zM13 41h2v1h-2zM27 41h1v1h-1zM10 42h1v1h-1zM6 44h1v1h-1zM3 45h1v1h-1zM16 45h1v1h-1zM20 46h1v1h-1zM44 46h1v1h-1zM46 46h1v1h-1zM49 46h1v1h-1zM13 48h1v1h-1zM17 48h1v1h-1zM25 48h1v1h-1zM16 49h1v1h-1zM5 50h1v1h-1zM19 51h1v1h-1zM4 52h1v1h-1zM6 52h1v1h-1zM46 52h1v1h-1zM44 53h1v1h-1zM2 58h1v1h-1zM42 59h1v1h-1zM4 60h1v1h-1zM14 61h1v1h-1zM21 61h1v1h-1zM15 63h1v1h-1zM23 63h1v1h-1zM1 64h1v1h-1zM39 64h1v1h-1zM0 65h1v1h-1zM19 65h2v1h-2zM16 66h1v1h-1zM19 66h1v1h-1zM27 67h1v1h-1zM38 67h1v1h-1zM18 68h2v1h-2zM35 68h1v1h-1zM34 73h1v1h-1zM8 74h1v1h-1zM1 75h1v1h-1zM17 75h1v1h-1zM27 75h1v1h-1zM3 76h1v1h-1zM19 76h1v1h-1zM24 76h1v1h-1zM25 77h1v1h-1zM0 79h1v1h-1zM25 79h1v1h-1zM13 80h1v1h-1zM7 82h1v1h-1zM5 83h1v1h-1zM1 90h1v1h-1zM3 91h1v1h-1zM37 91h1v1h-1zM49 92h1v1h-1zM1 96h1v1h-1zM0 98h1v1h-1zM25 98h1v1h-1zM32 99h1v1h-1z"/>
<path fill="#f9fccb" d="M10 2h1v1h-1zM43 3h1v1h-1zM1 4h1v1h-1zM8 5h1v1h-1zM42 9h1v1h-1zM4 10h1v1h-1zM0 12h1v1h-1zM25 13h1v1h-1zM20 15h1v1h-1zM25 15h1v1h-1zM32 17h1v1h-1zM4 18h1v1h-1zM8 18h1v1h-1zM11 19h1v1h-1zM7 20h1v1h-1zM19 21h1v1h-1zM20 22h1v1h-1zM10 23h1v1h-1zM8 24h1v1h-1zM22 24h1v1h-1zM8 25h1v1h-1zM11 25h1v1h-1zM32 25h1v1h-1zM27 26h1v1h-1zM36 27h1v1h-1zM49 27h1v1h-1zM4 28h1v1h-1zM16 28h1v1h-1zM8 30h1v1h-1zM34 31h1v1h-1zM7 32h1v1h-1zM11 34h1v1h-1zM14 34h1v1h-1zM20 34h1v1h-1zM40 34h1v1h-1zM7 35h1v1h-1zM15 39h1v1h-1zM42 40h1v1h-1zM11 41h1v1h-1zM17 41h2v1h-2zM22 41h1v1h-1zM29 41h1v1h-1zM42 41h1v1h-1zM2 42h1v1h-1zM21 42h1v1h-1zM19 45h1v1h-1zM4 46h1v1h-1zM22 46h1v1h-1zM44 49h1v1h-1zM16 50h1v1h-1zM42 50h3v1h-3zM18 52h1v1h-1zM18 53h1v1h-1zM20 54h1v1h-1zM37 54h1v1h-1zM22 57h1v1h-1zM19 58h1v1h-1zM36 58h1v1h-1zM46 59h1v1h-1zM38 60h1v1h-1zM41 60h2v1h-2zM50 60h1v1h-1zM7 61h1v1h-1zM19 61h1v1h-1zM16 62h1v1h-1zM40 62h1v1h-1zM14 63h1v1h-1zM0 64h1v1h-1zM10 65h1v1h-1zM13 65h1v1h-1zM39 65h1v1h-1zM9 66h1v1h-1zM15 67h1v1h-1zM9 68h1v1h-1zM38 68h1v1h-1zM37 69h1v1h-1zM20 70h1v1h-1zM33 71h1v1h-1zM14 72h1v1h-1zM24 72h1v1h-1zM12 73h1v1h-1zM32 73h1v1h-1zM40 73h2v1h-2zM4 74h1v1h-1zM6 74h1v1h-1zM31 74h1v1h-1zM30 75h1v1h-1zM14 77h1v1h-1zM21 77h1v1h-1zM24 77h1v1h-1zM8 78h1v1h-1zM37 78h1v1h-1zM30 80h1v1h-1zM7 81h1v1h-1zM21 81h1v1h-1zM41 82h1v1h-1zM11 84h1v1h-1zM8 85h1v1h-1zM46 86h1v1h-1zM42 88h1v1h-1zM47 90h1v1h-1zM25 94h1v1h-1zM43 99h1v1h-1z"/>
<path fill="#fff9b5" d="M2 3h1v1h-1zM1 5h1v1h-1zM1 7h1v1h-1zM39 13h1v1h-1zM2 16h1v1h-1zM56 16h1v1h-1zM0 17h1v1h-1zM1 19h2v1h-2zM4 19h2v1h-2zM9 19h1v1h-1zM45 19h1v1h-1zM8 20h1v1h-1zM3 21h1v1h-1zM3 22h1v1h-1zM5 22h1v1h-1zM7 23h1v1h-1zM24 23h1v1h-1zM10 25h1v1h-1zM28 25h1v1h-1zM1 27h1v1h-1zM33 28h1v1h-1zM36 28h1v1h-1zM7 31h1v1h-1zM10 31h1v1h-1zM13 31h1v1h-1zM58 31h1v1h-1zM5 32h1v1h-1zM14 33h1v1h-1zM39 33h1v1h-1zM53 33h1v1h-1zM2 35h1v1h-1zM41 36h1v1h-1zM0 38h1v1h-1zM3 38h1v1h-1zM43 38h1v1h-1zM42 39h1v1h-1zM0 40h1v1h-1zM14 40h2v1h-2zM20 40h1v1h-1zM42 42h1v1h-1zM13 43h1v1h-1zM9 45h1v1h-1zM14 45h1v1h-1zM13 47h1v1h-1zM17 47h1v1h-1zM1 48h1v1h-1zM8 48h1v1h-1zM7 49h1v1h-1zM29 49h1v1h-1zM6 50h1v1h-1zM13 51h1v1h-1zM43 51h1v1h-1zM8 52h2v1h-2zM14 52h1v1h-1zM20 53h1v1h-1zM16 54h1v1h-1zM22 54h1v1h-1zM13 55h1v1h-1zM20 55h1v1h-1zM57 55h1v1h-1zM6 57h1v1h-1zM17 58h1v1h-1zM5 60h1v1h-1zM20 60h1v1h-1zM3 61h1v1h-1zM20 61h1v1h-1zM9 62h1v1h-1zM11 62h1v1h-1zM19 62h1v1h-1zM26 63h1v1h-1zM40 63h1v1h-1zM5 64h1v1h-1zM12 64h1v1h-1zM17 64h1v1h-1zM23 64h1v1h-1zM31 64h1v1h-1zM5 65h1v1h-1zM14 65h1v1h-1zM10 66h1v1h-1zM17 66h1v1h-1zM21 66h1v1h-1zM40 66h1v1h-1zM18 67h1v1h-1zM15 68h1v1h-1zM35 70h1v1h-1zM38 70h1v1h-1zM11 71h1v1h-1zM33 73h1v1h-1zM1 74h1v1h-1zM15 74h2v1h-2zM30 74h1v1h-1zM4 75h1v1h-1zM11 75h2v1h-2zM4 76h1v1h-1zM23 76h1v1h-1zM11 77h1v1h-1zM5 80h1v1h-1zM7 80h1v1h-1zM4 82h1v1h-1zM15 82h1v1h-1zM7 83h1v1h-1zM3 84h1v1h-1zM7 84h1v1h-1zM3 86h1v1h-1zM7 86h1v1h-1zM0 87h1v1h-1zM1 88h1v1h-1zM3 88h1v1h-1zM0 89h1v1h-1z"/>
<path fill="#35439b" d="M24 5h1v1h-1zM54 9h1v1h-1zM51 10h1v1h-1zM56 11h1v1h-1zM57 13h1v1h-1zM58 14h1v1h-1zM53 18h1v1h-1zM25 27h1v1h-1zM46 35h1v1h-1zM52 39h1v1h-1zM29 46h1v1h-1zM34 59h1v1h-1zM47 69h1v1h-1zM47 80h1v1h-1zM58 80h1v1h-1zM39 85h1v1h-1zM10 89h1v1h-1zM25 89h1v1h-1zM32 91h1v1h-1zM44 91h1v1h-1zM46 92h1v1h-1zM19 94h1v1h-1zM36 94h1v1h-1zM41 94h1v1h-1zM24 95h2v1h-2zM40 95h1v1h-1zM44 97h1v1h-1z"/>
<path fill="#fff2ab" d="M26 5h1v1h-1zM0 8h1v1h-1zM3 8h1v1h-1zM1 10h1v1h-1zM1 12h1v1h-1zM3 13h1v1h-1zM27 16h1v1h-1zM0 18h2v1h-2zM48 18h1v1h-1zM5 20h2v1h-2zM5 21h1v1h-1zM1 23h1v1h-1zM9 23h1v1h-1zM58 23h1v1h-1zM4 24h1v1h-1zM29 24h1v1h-1zM3 25h1v1h-1zM29 25h1v1h-1zM33 27h1v1h-1zM34 28h1v1h-1zM7 29h1v1h-1zM6 30h1v1h-1zM14 31h1v1h-1zM3 33h1v1h-1zM15 33h1v1h-1zM55 33h1v1h-1zM12 35h1v1h-1zM11 36h1v1h-1zM13 36h1v1h-1zM15 36h1v1h-1zM14 37h1v1h-1zM41 37h1v1h-1zM5 38h1v1h-1zM3 40h1v1h-1zM24 42h1v1h-1zM12 43h1v1h-1zM5 44h1v1h-1zM8 44h1v1h-1zM13 44h1v1h-1zM5 45h1v1h-1zM8 45h1v1h-1zM20 45h1v1h-1zM7 46h1v1h-1zM11 46h1v1h-1zM13 46h1v1h-1zM7 48h1v1h-1zM3 49h1v1h-1zM17 49h1v1h-1zM19 49h1v1h-1zM27 49h1v1h-1zM20 50h1v1h-1zM12 51h1v1h-1zM20 51h1v1h-1zM5 52h1v1h-1zM43 52h1v1h-1zM45 54h1v1h-1zM16 55h1v1h-1zM23 56h1v1h-1zM55 57h1v1h-1zM6 58h1v1h-1zM13 58h1v1h-1zM13 59h1v1h-1zM17 59h1v1h-1zM0 60h1v1h-1zM3 60h1v1h-1zM19 60h1v1h-1zM32 60h1v1h-1zM4 61h1v1h-1zM40 61h1v1h-1zM10 62h1v1h-1zM15 62h1v1h-1zM18 64h1v1h-1zM40 64h1v1h-1zM1 65h1v1h-1zM9 65h1v1h-1zM15 65h1v1h-1zM6 66h1v1h-1zM15 66h1v1h-1zM17 67h1v1h-1zM33 67h1v1h-1zM5 68h1v1h-1zM10 69h1v1h-1zM16 69h1v1h-1zM0 71h1v1h-1zM13 71h2v1h-2zM27 72h1v1h-1zM32 72h1v1h-1zM0 73h1v1h-1zM0 74h1v1h-1zM18 74h1v1h-1zM7 75h1v1h-1zM15 75h1v1h-1zM29 75h1v1h-1zM0 76h1v1h-1zM31 76h1v1h-1zM4 77h1v1h-1zM9 77h1v1h-1zM6 78h1v1h-1zM9 81h1v1h-1zM8 82h1v1h-1zM4 84h1v1h-1zM6 84h1v1h-1zM7 85h1v1h-1zM1 87h1v1h-1zM4 88h1v1h-1zM1 89h1v1h-1zM6 89h1v1h-1zM3 96h1v1h-1z"/>
<path fill="#feeca2" d="M46 5h1v1h-1zM0 9h1v1h-1zM1 11h1v1h-1zM4 16h1v1h-1zM49 16h1v1h-1zM1 21h1v1h-1zM20 21h1v1h-1zM22 23h1v1h-1zM1 24h1v1h-1zM5 24h1v1h-1zM6 26h1v1h-1zM10 26h1v1h-1zM7 27h1v1h-1zM37 29h1v1h-1zM1 30h1v1h-1zM9 30h1v1h-1zM1 31h2v1h-2zM10 32h1v1h-1zM13 32h1v1h-1zM9 33h1v1h-1zM5 37h2v1h-2zM9 37h1v1h-1zM27 37h1v1h-1zM15 38h1v1h-1zM10 39h1v1h-1zM18 39h1v1h-1zM5 40h1v1h-1zM25 40h1v1h-1zM1 41h1v1h-1zM20 41h1v1h-1zM8 42h1v1h-1zM15 42h1v1h-1zM16 43h1v1h-1zM43 43h1v1h-1zM16 44h1v1h-1zM11 45h1v1h-1zM8 46h1v1h-1zM43 46h1v1h-1zM9 47h1v1h-1zM12 47h1v1h-1zM10 49h1v1h-1zM15 54h1v1h-1zM15 55h1v1h-1zM21 55h1v1h-1zM8 56h1v1h-1zM12 56h1v1h-1zM2 57h1v1h-1zM12 57h1v1h-1zM16 57h1v1h-1zM18 57h1v1h-1zM21 58h1v1h-1zM43 59h1v1h-1zM2 60h1v1h-1zM18 60h1v1h-1zM6 61h1v1h-1zM18 61h1v1h-1zM6 62h1v1h-1zM12 62h1v1h-1zM17 62h2v1h-2zM9 63h1v1h-1zM13 63h1v1h-1zM17 63h2v1h-2zM6 64h1v1h-1zM15 64h1v1h-1zM41 65h1v1h-1zM11 66h1v1h-1zM1 67h1v1h-1zM12 67h1v1h-1zM3 69h1v1h-1zM7 69h1v1h-1zM0 70h1v1h-1zM2 70h1v1h-1zM10 71h1v1h-1zM4 72h1v1h-1zM6 72h1v1h-1zM11 72h1v1h-1zM9 73h2v1h-2zM15 73h2v1h-2zM9 74h1v1h-1zM11 74h1v1h-1zM2 75h1v1h-1zM9 75h1v1h-1zM11 76h1v1h-1zM6 77h2v1h-2zM5 78h1v1h-1zM9 78h2v1h-2zM2 79h1v1h-1zM8 80h1v1h-1zM3 82h1v1h-1zM9 82h1v1h-1zM2 84h1v1h-1zM1 99h1v1h-1z"/>
<path fill="#fec97a" d="M0 6h1v1h-1zM0 19h1v1h-1zM0 22h1v1h-1zM7 22h1v1h-1zM21 22h1v1h-1zM6 23h1v1h-1zM2 26h1v1h-1zM0 27h1v1h-1zM7 28h1v1h-1zM34 29h1v1h-1zM2 30h1v1h-1zM5 30h1v1h-1zM7 30h1v1h-1zM10 30h1v1h-1zM38 32h1v1h-1zM1 33h1v1h-1zM5 33h1v1h-1zM7 33h1v1h-1zM10 33h1v1h-1zM2 36h1v1h-1zM4 36h1v1h-1zM0 37h1v1h-1zM16 37h1v1h-1zM7 38h1v1h-1zM16 38h1v1h-1zM4 39h1v1h-1zM9 39h1v1h-1zM18 43h1v1h-1zM42 43h1v1h-1zM0 44h1v1h-1zM7 44h1v1h-1zM6 46h1v1h-1zM9 46h1v1h-1zM4 47h2v1h-2zM19 47h1v1h-1zM42 47h2v1h-2zM10 48h1v1h-1zM12 48h1v1h-1zM12 49h1v1h-1zM4 50h1v1h-1zM1 51h3v1h-3zM7 51h1v1h-1zM6 53h1v1h-1zM9 53h1v1h-1zM12 53h1v1h-1zM13 54h2v1h-2zM8 55h2v1h-2zM14 56h1v1h-1zM16 56h2v1h-2zM3 57h1v1h-1zM11 57h1v1h-1zM14 58h2v1h-2zM10 59h1v1h-1zM19 59h1v1h-1zM9 60h2v1h-2zM1 61h1v1h-1zM8 61h1v1h-1zM7 62h1v1h-1zM8 63h1v1h-1zM2 65h1v1h-1zM3 66h1v1h-1zM7 67h1v1h-1zM0 68h1v1h-1zM3 68h1v1h-1zM8 68h1v1h-1zM9 69h1v1h-1zM11 69h1v1h-1zM11 70h1v1h-1zM12 71h1v1h-1zM5 72h1v1h-1zM8 73h1v1h-1zM8 75h1v1h-1zM8 76h1v1h-1zM20 76h1v1h-1zM10 77h1v1h-1zM1 79h1v1h-1zM1 80h1v1h-1zM2 83h1v1h-1zM4 85h1v1h-1zM1 86h1v1h-1z"/>
<path fill="#426baf" d="M18 6h1v1h-1zM42 11h1v1h-1zM21 13h1v1h-1zM32 14h1v1h-1zM36 19h1v1h-1zM56 22h1v1h-1zM56 23h1v1h-1zM50 26h1v1h-1zM28 28h1v1h-1zM48 29h1v1h-1zM33 31h1v1h-1zM52 33h1v1h-1zM48 39h1v1h-1zM30 42h1v1h-1zM57 43h1v1h-1zM54 45h1v1h-1zM49 48h1v1h-1zM50 54h1v1h-1zM54 59h1v1h-1zM59 64h1v1h-1zM50 69h1v1h-1zM51 70h1v1h-1zM48 74h1v1h-1zM36 75h1v1h-1zM47 78h1v1h-1zM56 78h1v1h-1zM50 79h1v1h-1zM53 80h1v1h-1zM20 83h1v1h-1zM19 84h1v1h-1zM38 86h1v1h-1zM24 87h1v1h-1zM33 87h1v1h-1zM50 87h1v1h-1zM58 87h1v1h-1zM10 88h1v1h-1zM38 88h1v1h-1zM18 89h1v1h-1zM32 89h1v1h-1zM42 89h1v1h-1zM49 89h1v1h-1zM14 90h1v1h-1zM40 90h1v1h-1zM48 92h1v1h-1zM27 93h1v1h-1zM31 93h2v1h-2zM18 94h1v1h-1zM27 95h1v1h-1zM35 95h1v1h-1zM38 95h1v1h-1zM56 96h1v1h-1zM38 99h1v1h-1zM53 99h1v1h-1z"/>
<path fill="#3950a2" d="M41 7h1v1h-1zM39 11h1v1h-1zM38 16h1v1h-1zM50 16h1v1h-1zM49 23h1v1h-1zM24 31h1v1h-1zM52 32h1v1h-1zM26 34h1v1h-1zM20 36h1v1h-1zM41 52h1v1h-1zM53 60h1v1h-1zM43 72h1v1h-1zM55 72h1v1h-1zM37 81h1v1h-1zM53 87h1v1h-1zM46 88h1v1h-1zM7 89h1v1h-1zM30 89h1v1h-1zM17 90h1v1h-1zM43 91h1v1h-1zM53 91h1v1h-1zM43 92h1v1h-1zM51 97h1v1h-1zM59 98h1v1h-1zM21 99h1v1h-1zM29 99h1v1h-1zM45 99h1v1h-1z"/>
<path fill="#fede8e" d="M0 13h1v1h-1zM3 17h1v1h-1zM2 20h1v1h-1zM9 20h1v1h-1zM0 21h1v1h-1zM8 21h1v1h-1zM1 22h1v1h-1zM6 22h1v1h-1zM8 23h1v1h-1zM27 23h1v1h-1zM1 25h2v1h-2zM4 25h1v1h-1zM30 26h1v1h-1zM2 28h1v1h-1zM5 28h1v1h-1zM2 29h1v1h-1zM9 29h2v1h-2zM12 29h1v1h-1zM14 29h1v1h-1zM38 30h1v1h-1zM6 31h1v1h-1zM9 31h1v1h-1zM11 31h1v1h-1zM2 33h1v1h-1zM12 33h1v1h-1zM2 34h1v1h-1zM8 34h1v1h-1zM4 35h2v1h-2zM9 35h1v1h-1zM5 36h1v1h-1zM9 36h1v1h-1zM7 37h1v1h-1zM13 37h1v1h-1zM4 38h1v1h-1zM10 38h1v1h-1zM14 38h1v1h-1zM3 39h1v1h-1zM1 40h1v1h-1zM7 40h1v1h-1zM9 40h1v1h-1zM11 40h1v1h-1zM13 40h1v1h-1zM17 40h1v1h-1zM7 41h1v1h-1zM9 41h2v1h-2zM15 41h1v1h-1zM3 42h2v1h-2zM13 42h1v1h-1zM18 42h1v1h-1zM4 44h1v1h-1zM12 44h1v1h-1zM43 44h1v1h-1zM10 46h1v1h-1zM12 46h1v1h-1zM17 46h1v1h-1zM11 47h1v1h-1zM9 49h1v1h-1zM3 50h1v1h-1zM11 50h1v1h-1zM17 50h1v1h-1zM14 51h1v1h-1zM17 51h1v1h-1zM44 51h1v1h-1zM2 53h1v1h-1zM7 53h1v1h-1zM16 53h1v1h-1zM11 55h1v1h-1zM18 55h1v1h-1zM3 56h1v1h-1zM9 56h1v1h-1zM19 56h1v1h-1zM17 57h1v1h-1zM7 58h2v1h-2zM0 59h1v1h-1zM7 59h2v1h-2zM12 59h1v1h-1zM16 59h1v1h-1zM21 59h1v1h-1zM1 60h1v1h-1zM8 60h1v1h-1zM17 60h1v1h-1zM5 62h1v1h-1zM4 63h1v1h-1zM9 64h1v1h-1zM7 65h1v1h-1zM11 65h1v1h-1zM16 65h1v1h-1zM0 66h1v1h-1zM39 66h1v1h-1zM2 67h1v1h-1zM4 67h1v1h-1zM10 68h1v1h-1zM0 69h1v1h-1zM4 69h1v1h-1zM14 70h1v1h-1zM4 71h1v1h-1zM3 72h1v1h-1zM12 72h2v1h-2zM7 74h1v1h-1zM6 76h1v1h-1zM9 76h1v1h-1zM11 78h1v1h-1zM11 79h1v1h-1zM11 80h1v1h-1zM2 82h1v1h-1z"/>
<path fill="#fed484" d="M0 16h1v1h-1zM4 21h1v1h-1zM1 26h1v1h-1zM3 26h2v1h-2zM1 28h1v1h-1zM11 28h1v1h-1zM12 30h2v1h-2zM0 31h1v1h-1zM4 32h1v1h-1zM8 33h1v1h-1zM10 35h1v1h-1zM1 36h1v1h-1zM6 36h1v1h-1zM39 36h1v1h-1zM1 39h1v1h-1zM8 41h1v1h-1zM5 42h1v1h-1zM11 42h1v1h-1zM44 42h1v1h-1zM6 43h1v1h-1zM10 43h1v1h-1zM15 43h1v1h-1zM3 44h1v1h-1zM1 45h1v1h-1zM4 45h1v1h-1zM13 45h1v1h-1zM2 46h1v1h-1zM18 46h1v1h-1zM18 47h1v1h-1zM4 48h1v1h-1zM2 49h1v1h-1zM13 49h1v1h-1zM15 49h1v1h-1zM8 50h1v1h-1zM6 51h1v1h-1zM8 51h1v1h-1zM16 51h1v1h-1zM15 52h1v1h-1zM4 53h1v1h-1zM8 53h1v1h-1zM10 53h1v1h-1zM15 53h1v1h-1zM43 53h1v1h-1zM11 54h1v1h-1zM3 55h1v1h-1zM5 55h1v1h-1zM7 55h1v1h-1zM0 56h2v1h-2zM7 56h1v1h-1zM15 56h1v1h-1zM4 57h1v1h-1zM15 59h1v1h-1zM6 60h2v1h-2zM15 60h2v1h-2zM0 61h1v1h-1zM12 61h1v1h-1zM3 63h1v1h-1zM3 64h1v1h-1zM10 64h2v1h-2zM2 66h1v1h-1zM12 66h1v1h-1zM3 67h1v1h-1zM8 67h1v1h-1zM10 67h1v1h-1zM14 67h1v1h-1zM14 69h1v1h-1zM1 70h1v1h-1zM13 70h1v1h-1zM3 71h1v1h-1zM8 71h1v1h-1zM1 72h1v1h-1zM5 74h1v1h-1zM3 75h1v1h-1zM10 75h1v1h-1zM5 76h1v1h-1zM0 78h1v1h-1zM4 80h1v1h-1zM3 81h1v1h-1zM6 81h1v1h-1zM1 84h1v1h-1z"/>
<path fill="#fee598" d="M1 17h1v1h-1zM4 17h1v1h-1zM3 19h1v1h-1zM4 22h1v1h-1zM2 23h2v1h-2zM3 24h1v1h-1zM27 24h1v1h-1zM31 24h1v1h-1zM0 25h1v1h-1zM5 25h1v1h-1zM7 25h1v1h-1zM0 26h1v1h-1zM8 26h1v1h-1zM34 26h1v1h-1zM5 27h1v1h-1zM9 27h1v1h-1zM6 28h1v1h-1zM13 28h1v1h-1zM4 31h1v1h-1zM0 32h1v1h-1zM6 33h1v1h-1zM5 34h1v1h-1zM9 34h1v1h-1zM15 35h1v1h-1zM3 36h1v1h-1zM10 36h1v1h-1zM18 36h1v1h-1zM4 37h1v1h-1zM3 41h1v1h-1zM12 42h1v1h-1zM14 42h1v1h-1zM6 45h1v1h-1zM17 45h1v1h-1zM15 46h1v1h-1zM6 48h1v1h-1zM5 49h1v1h-1zM18 49h1v1h-1zM1 50h1v1h-1zM13 50h1v1h-1zM12 52h2v1h-2zM0 53h1v1h-1zM1 54h1v1h-1zM6 54h1v1h-1zM10 54h1v1h-1zM1 55h1v1h-1zM18 56h1v1h-1zM43 56h1v1h-1zM3 58h1v1h-1zM42 58h1v1h-1zM2 59h1v1h-1zM4 59h1v1h-1zM9 59h1v1h-1zM12 60h1v1h-1zM5 61h1v1h-1zM11 61h1v1h-1zM15 61h1v1h-1zM41 61h1v1h-1zM0 62h1v1h-1zM3 62h1v1h-1zM1 63h1v1h-1zM5 63h3v1h-3zM7 64h2v1h-2zM21 64h1v1h-1zM12 65h1v1h-1zM13 66h1v1h-1zM38 66h1v1h-1zM5 67h1v1h-1zM6 68h1v1h-1zM12 69h1v1h-1zM15 69h1v1h-1zM7 70h1v1h-1zM16 70h1v1h-1zM9 72h1v1h-1zM12 74h3v1h-3zM6 75h1v1h-1zM24 75h1v1h-1zM26 76h1v1h-1zM7 78h1v1h-1zM7 79h1v1h-1zM9 79h1v1h-1zM4 83h1v1h-1zM2 85h1v1h-1zM5 85h1v1h-1zM0 88h1v1h-1zM2 88h1v1h-1z"/>
<path fill="#fca95f" d="M0 20h2v1h-2zM27 22h1v1h-1zM5 23h1v1h-1zM9 26h1v1h-1zM4 30h1v1h-1zM12 32h1v1h-1zM4 33h1v1h-1zM0 34h1v1h-1zM7 36h1v1h-1zM2 38h1v1h-1zM17 39h1v1h-1zM7 42h1v1h-1zM1 43h1v1h-1zM3 43h1v1h-1zM11 43h1v1h-1zM9 44h1v1h-1zM20 44h1v1h-1zM0 45h1v1h-1zM2 45h1v1h-1zM10 47h1v1h-1zM3 48h1v1h-1zM4 49h1v1h-1zM14 49h1v1h-1zM4 51h1v1h-1zM9 51h1v1h-1zM11 51h1v1h-1zM0 52h1v1h-1zM3 52h1v1h-1zM11 52h1v1h-1zM1 53h1v1h-1zM2 54h2v1h-2zM8 54h1v1h-1zM12 54h1v1h-1zM17 55h1v1h-1zM0 57h1v1h-1zM10 57h1v1h-1zM0 58h2v1h-2zM4 58h1v1h-1zM2 62h1v1h-1zM4 62h1v1h-1zM41 62h1v1h-1zM2 63h1v1h-1zM13 64h1v1h-1zM14 66h1v1h-1zM9 67h1v1h-1zM2 68h1v1h-1zM6 69h1v1h-1zM7 72h1v1h-1zM2 73h1v1h-1zM11 73h1v1h-1zM3 77h1v1h-1zM5 77h1v1h-1zM18 77h1v1h-1zM6 80h1v1h-1zM1 82h1v1h-1z"/>
<path fill="#fdbf71" d="M3 20h1v1h-1zM2 21h1v1h-1zM4 23h1v1h-1zM2 24h1v1h-1zM6 24h1v1h-1zM3 28h1v1h-1zM5 29h2v1h-2zM3 34h1v1h-1zM10 34h1v1h-1zM13 34h1v1h-1zM3 35h1v1h-1zM40 35h1v1h-1zM8 36h1v1h-1zM11 37h1v1h-1zM13 39h1v1h-1zM4 40h1v1h-1zM16 41h1v1h-1zM7 45h1v1h-1zM1 46h1v1h-1zM2 47h1v1h-1zM15 47h1v1h-1zM2 48h1v1h-1zM2 50h1v1h-1zM9 50h1v1h-1zM12 50h1v1h-1zM0 51h1v1h-1zM5 51h1v1h-1zM18 51h1v1h-1zM2 52h1v1h-1zM5 53h1v1h-1zM0 55h1v1h-1zM4 55h1v1h-1zM6 55h1v1h-1zM10 55h1v1h-1zM10 56h1v1h-1zM13 56h1v1h-1zM7 57h1v1h-1zM14 57h1v1h-1zM19 57h1v1h-1zM3 59h1v1h-1zM11 59h1v1h-1zM12 63h1v1h-1zM2 64h1v1h-1zM4 65h1v1h-1zM17 65h1v1h-1zM1 66h1v1h-1zM4 66h1v1h-1zM13 67h1v1h-1zM20 67h1v1h-1zM16 68h1v1h-1zM13 69h1v1h-1zM6 70h1v1h-1zM8 70h1v1h-1zM12 70h1v1h-1zM15 70h1v1h-1zM5 71h1v1h-1zM0 72h1v1h-1zM1 73h1v1h-1zM5 73h2v1h-2zM5 75h1v1h-1zM13 75h1v1h-1zM2 76h1v1h-1zM7 76h1v1h-1zM8 77h1v1h-1zM19 77h1v1h-1zM3 79h1v1h-1zM1 81h1v1h-1zM4 81h1v1h-1z"/>
<path fill="#fa9b58" d="M2 22h1v1h-1zM3 27h1v1h-1zM10 28h1v1h-1zM4 34h1v1h-1zM0 35h1v1h-1zM6 35h1v1h-1zM12 38h1v1h-1zM8 39h1v1h-1zM12 39h1v1h-1zM2 40h1v1h-1zM4 41h1v1h-1zM0 42h2v1h-2zM8 43h1v1h-1zM16 46h1v1h-1zM6 47h1v1h-1zM0 48h1v1h-1zM5 48h1v1h-1zM9 48h1v1h-1zM15 48h1v1h-1zM0 49h1v1h-1zM3 53h1v1h-1zM5 57h1v1h-1zM1 59h1v1h-1zM2 61h1v1h-1zM1 62h1v1h-1zM6 65h1v1h-1zM6 67h1v1h-1zM11 67h1v1h-1zM11 68h1v1h-1zM13 68h1v1h-1zM2 69h1v1h-1zM10 70h1v1h-1zM16 72h1v1h-1zM2 74h1v1h-1zM2 77h1v1h-1zM1 78h1v1h-1zM5 81h1v1h-1zM0 84h1v1h-1z"/>
<path fill="#f06540" d="M0 23h1v1h-1zM11 30h1v1h-1zM1 32h1v1h-1zM9 32h1v1h-1zM8 35h1v1h-1zM0 39h1v1h-1zM9 43h1v1h-1zM14 44h1v1h-1zM4 56h1v1h-1zM1 57h1v1h-1zM4 68h1v1h-1zM12 68h1v1h-1zM2 71h1v1h-1zM4 78h1v1h-1z"/>
<path fill="#f88e52" d="M0 24h1v1h-1zM7 26h1v1h-1zM8 29h1v1h-1zM8 32h1v1h-1zM11 35h1v1h-1zM8 37h1v1h-1zM1 38h1v1h-1zM2 39h1v1h-1zM6 39h2v1h-2zM7 43h1v1h-1zM15 44h1v1h-1zM10 45h1v1h-1zM3 47h1v1h-1zM8 47h1v1h-1zM8 49h1v1h-1zM7 50h1v1h-1zM11 53h1v1h-1zM5 54h1v1h-1zM9 57h1v1h-1zM9 58h1v1h-1zM11 58h1v1h-1zM14 59h1v1h-1zM10 61h1v1h-1zM13 61h1v1h-1zM4 64h1v1h-1zM1 68h1v1h-1zM7 68h1v1h-1zM8 72h1v1h-1zM3 73h1v1h-1zM1 76h1v1h-1zM2 78h1v1h-1zM4 79h1v1h-1zM0 80h1v1h-1zM0 81h1v1h-1zM0 82h1v1h-1zM3 83h1v1h-1z"/>
<path fill="#fdb467" d="M5 26h1v1h-1zM6 27h1v1h-1zM0 28h1v1h-1zM9 28h1v1h-1zM3 29h1v1h-1zM3 31h1v1h-1zM6 34h2v1h-2zM12 34h1v1h-1zM1 35h1v1h-1zM13 38h1v1h-1zM6 40h1v1h-1zM0 41h1v1h-1zM5 41h2v1h-2zM6 42h1v1h-1zM9 42h1v1h-1zM5 43h1v1h-1zM14 43h1v1h-1zM15 45h1v1h-1zM0 46h1v1h-1zM3 46h1v1h-1zM5 46h1v1h-1zM14 46h1v1h-1zM0 47h2v1h-2zM1 49h1v1h-1zM6 49h1v1h-1zM18 50h1v1h-1zM10 51h1v1h-1zM9 54h1v1h-1zM12 55h1v1h-1zM22 55h1v1h-1zM2 56h1v1h-1zM13 57h1v1h-1zM5 58h1v1h-1zM10 58h1v1h-1zM16 58h1v1h-1zM6 59h1v1h-1zM14 60h1v1h-1zM11 63h1v1h-1zM14 64h1v1h-1zM3 65h1v1h-1zM5 66h1v1h-1zM7 66h1v1h-1zM0 67h1v1h-1zM4 70h1v1h-1zM6 71h1v1h-1zM9 71h1v1h-1zM2 72h1v1h-1zM10 72h1v1h-1zM4 73h1v1h-1zM10 74h1v1h-1zM8 79h1v1h-1zM2 81h1v1h-1zM0 85h1v1h-1zM2 86h1v1h-1zM0 90h1v1h-1z"/>
<path fill="#ea593a" d="M2 27h1v1h-1zM12 40h1v1h-1zM2 41h1v1h-1zM14 53h1v1h-1zM5 56h1v1h-1zM8 57h1v1h-1zM12 58h1v1h-1zM5 79h1v1h-1z"/>
<path fill="#f7804c" d="M1 29h1v1h-1zM4 29h1v1h-1zM3 32h1v1h-1zM1 37h1v1h-1zM8 38h1v1h-1zM11 49h1v1h-1zM10 50h1v1h-1zM14 55h1v1h-1zM11 56h1v1h-1zM5 59h1v1h-1zM9 61h1v1h-1zM8 66h1v1h-1zM5 69h1v1h-1zM8 69h1v1h-1zM1 71h1v1h-1zM1 77h1v1h-1zM2 80h1v1h-1zM1 83h1v1h-1z"/>
<path fill="#f57246" d="M3 30h1v1h-1zM3 37h1v1h-1zM9 38h1v1h-1zM5 39h1v1h-1zM8 40h1v1h-1zM10 40h1v1h-1zM4 43h1v1h-1zM11 44h1v1h-1zM0 50h1v1h-1zM10 52h1v1h-1zM6 56h1v1h-1zM13 62h1v1h-1zM3 70h1v1h-1zM7 71h1v1h-1zM7 73h1v1h-1zM0 75h1v1h-1zM3 78h1v1h-1zM0 83h1v1h-1z"/>
<path fill="#e44c34" d="M2 32h1v1h-1zM2 43h1v1h-1zM17 44h1v1h-1zM13 53h1v1h-1z"/>
<path fill="#cf2827" d="M0 33h1v1h-1zM10 44h1v1h-1zM4 54h1v1h-1zM2 55h1v1h-1zM5 70h1v1h-1z"/>
<path fill="#de3f2e" d="M2 37h1v1h-1zM6 38h1v1h-1zM0 54h1v1h-1z"/>
<path fill="#d83328" d="M8 62h1v1h-1z"/>
</g>
<rect x="185.2" y="603.8" width="418.3" height="440.7" fill="none" stroke="#000" stroke-width="2.7"/>
<path d="M185,625.7 h12.5 M185,802 h12.5 M185,978.2 h12.5 M359,1044.5 v-12 M534.4,1044.5 v-12" stroke="#000" stroke-width="2.6"/>
<circle cx="312.2" cy="851.4" r="15.9" fill="#fff" stroke="#000" stroke-width="3.3"/>
<circle cx="423.1" cy="823.6" r="15.9" fill="#fff" stroke="#000" stroke-width="3.3"/>
<circle cx="469.6" cy="810.6" r="15.9" fill="#fff" stroke="#000" stroke-width="3.3"/>
<circle cx="320.8" cy="1027.4" r="15.9" fill="#fff" stroke="#000" stroke-width="3.3"/>
<text x="190.4" y="662.1" font-size="35.50" font-family="Liberation Sans, sans-serif" font-weight="bold">L-L</text>
<text x="189.2" y="850" font-size="35.50" font-family="Liberation Sans, sans-serif" font-weight="bold">L-TL</text>
<text x="192.6" y="1037" font-size="35.50" font-family="Liberation Sans, sans-serif" font-weight="bold">TL-TL</text>
<text x="295" y="809.8" font-size="34.00" font-family="Liberation Sans, sans-serif" font-weight="bold">P</text>
<text x="318.5" y="816.9" font-size="21.50" font-family="Liberation Sans, sans-serif" font-weight="bold">2</text>
<text x="379" y="798.4" font-size="34.50" font-family="Liberation Sans, sans-serif" font-weight="bold">E</text>
<text x="434.2" y="780.5" font-size="34.00" font-family="Liberation Sans, sans-serif" font-weight="bold">P</text>
<text x="456.4" y="787" font-size="21.50" font-family="Liberation Sans, sans-serif" font-weight="bold">1</text>
<text x="337" y="1014.6" font-size="32.50" font-family="Liberation Sans, sans-serif" font-weight="bold">P</text>
<text x="360.6" y="1022.8" font-size="21.50" font-family="Liberation Sans, sans-serif" font-weight="bold">0</text>
<text x="76.4" y="638.6" font-size="36.80" font-family="DejaVu Sans, sans-serif">-0.28</text>
<text x="76.4" y="816.5" font-size="36.80" font-family="DejaVu Sans, sans-serif">-0.32</text>
<text x="76.4" y="992.7" font-size="36.80" font-family="DejaVu Sans, sans-serif">-0.36</text>
<text x="127" y="1085.5" font-size="36.80" font-family="DejaVu Sans, sans-serif">−0.35</text>
<text x="302.3" y="1085.5" font-size="36.80" font-family="DejaVu Sans, sans-serif">−0.30</text>
<text x="477.6" y="1085.5" font-size="36.80" font-family="DejaVu Sans, sans-serif">−0.25</text>
<text x="302" y="1143.4" font-family="DejaVu Sans, sans-serif" font-size="44.4"><tspan font-style="oblique">V</tspan><tspan font-size="31" dy="7.3">L</tspan><tspan font-size="31" dx="7">−</tspan><tspan font-size="31" dx="7">TL</tspan><tspan dy="-7.3">(V)</tspan></text>
<text transform="translate(52.2,878.2) rotate(-90)" font-family="DejaVu Sans, sans-serif" font-size="44.4"><tspan font-style="oblique">V</tspan><tspan font-size="31" dy="7.3">L</tspan><tspan dy="-7.3">(V)</tspan></text>
<text x="15.8" y="637.8" font-size="43.60" font-family="Liberation Sans, sans-serif" font-weight="bold">c</text>
<defs>
<linearGradient id="gd" x1="0" y1="0" x2="1" y2="0"><stop offset="0.0000" stop-color="#f99154"/><stop offset="0.0286" stop-color="#f99154"/><stop offset="0.0571" stop-color="#f99254"/><stop offset="0.0857" stop-color="#f99254"/><stop offset="0.1143" stop-color="#f99254"/><stop offset="0.1429" stop-color="#f99354"/><stop offset="0.1714" stop-color="#f99355"/><stop offset="0.2000" stop-color="#f99455"/><stop offset="0.2286" stop-color="#f99455"/><stop offset="0.2571" stop-color="#f99455"/><stop offset="0.2857" stop-color="#f99555"/><stop offset="0.3143" stop-color="#fa9556"/><stop offset="0.3171" stop-color="#fa9556"/><stop offset="0.3200" stop-color="#fa9556"/><stop offset="0.3229" stop-color="#fa9556"/><stop offset="0.3257" stop-color="#fa9556"/><stop offset="0.3286" stop-color="#fa9556"/><stop offset="0.3314" stop-color="#fa9756"/><stop offset="0.3343" stop-color="#fa9857"/><stop offset="0.3371" stop-color="#fa9a58"/><stop offset="0.3400" stop-color="#fa9b58"/><stop offset="0.3429" stop-color="#fb9c59"/><stop offset="0.3457" stop-color="#fb9e59"/><stop offset="0.3486" stop-color="#fb9f5a"/><stop offset="0.3514" stop-color="#fba05b"/><stop offset="0.3543" stop-color="#fba25b"/><stop offset="0.3571" stop-color="#fca35c"/><stop offset="0.3600" stop-color="#fca55d"/><stop offset="0.3629" stop-color="#fca65d"/><stop offset="0.3657" stop-color="#fca85e"/><stop offset="0.3686" stop-color="#fdab60"/><stop offset="0.3714" stop-color="#fdaf62"/><stop offset="0.3743" stop-color="#fdb265"/><stop offset="0.3771" stop-color="#fdb568"/><stop offset="0.3800" stop-color="#fdb86a"/><stop offset="0.3829" stop-color="#fdbb6d"/><stop offset="0.3857" stop-color="#fdbe70"/><stop offset="0.3886" stop-color="#fdc173"/><stop offset="0.3914" stop-color="#fdc476"/><stop offset="0.3943" stop-color="#fec778"/><stop offset="0.3971" stop-color="#fecd7e"/><stop offset="0.4000" stop-color="#fed283"/><stop offset="0.4029" stop-color="#fed888"/><stop offset="0.4057" stop-color="#fede8e"/><stop offset="0.4086" stop-color="#fee293"/><stop offset="0.4114" stop-color="#fee598"/><stop offset="0.4143" stop-color="#fee99e"/><stop offset="0.4171" stop-color="#feeca3"/><stop offset="0.4200" stop-color="#fef0a8"/><stop offset="0.4229" stop-color="#fff3ac"/><stop offset="0.4257" stop-color="#fff6b1"/><stop offset="0.4286" stop-color="#fff9b6"/><stop offset="0.4314" stop-color="#fffcba"/><stop offset="0.4343" stop-color="#ffffbf"/><stop offset="0.4371" stop-color="#fcfec5"/><stop offset="0.4400" stop-color="#f9fdca"/><stop offset="0.4429" stop-color="#f5fbd1"/><stop offset="0.4457" stop-color="#f2fad8"/><stop offset="0.4486" stop-color="#eef8de"/><stop offset="0.4514" stop-color="#eaf7e5"/><stop offset="0.4543" stop-color="#e7f6ec"/><stop offset="0.4571" stop-color="#e3f4f2"/><stop offset="0.4600" stop-color="#e0f3f8"/><stop offset="0.4629" stop-color="#dcf1f7"/><stop offset="0.4657" stop-color="#d7eef5"/><stop offset="0.4686" stop-color="#d2ecf4"/><stop offset="0.4714" stop-color="#cdeaf3"/><stop offset="0.4743" stop-color="#c8e7f1"/><stop offset="0.4771" stop-color="#c6e6f1"/><stop offset="0.4800" stop-color="#c4e5f0"/><stop offset="0.4829" stop-color="#c2e4ef"/><stop offset="0.4857" stop-color="#c0e3ef"/><stop offset="0.4886" stop-color="#bee2ee"/><stop offset="0.4914" stop-color="#bbe1ee"/><stop offset="0.4943" stop-color="#b9e0ed"/><stop offset="0.4971" stop-color="#b7dfec"/><stop offset="0.5000" stop-color="#b5deec"/><stop offset="0.5029" stop-color="#b3ddeb"/><stop offset="0.5057" stop-color="#b1dceb"/><stop offset="0.5086" stop-color="#b0dbea"/><stop offset="0.5114" stop-color="#aedbea"/><stop offset="0.5143" stop-color="#addae9"/><stop offset="0.5171" stop-color="#abd9e9"/><stop offset="0.5200" stop-color="#a9d8e8"/><stop offset="0.5229" stop-color="#a8d6e8"/><stop offset="0.5257" stop-color="#a6d5e7"/><stop offset="0.5286" stop-color="#a4d4e6"/><stop offset="0.5314" stop-color="#a3d2e5"/><stop offset="0.5343" stop-color="#a0d0e4"/><stop offset="0.5371" stop-color="#9dcee3"/><stop offset="0.5400" stop-color="#9acce2"/><stop offset="0.5429" stop-color="#98cae1"/><stop offset="0.5457" stop-color="#95c7df"/><stop offset="0.5486" stop-color="#92c5de"/><stop offset="0.5514" stop-color="#90c3dd"/><stop offset="0.5543" stop-color="#8cc0dc"/><stop offset="0.5571" stop-color="#89beda"/><stop offset="0.5600" stop-color="#86bbd9"/><stop offset="0.5629" stop-color="#83b9d8"/><stop offset="0.5657" stop-color="#80b6d6"/><stop offset="0.5686" stop-color="#7db4d5"/><stop offset="0.5714" stop-color="#79b1d3"/><stop offset="0.5743" stop-color="#77afd2"/><stop offset="0.5771" stop-color="#74add1"/><stop offset="0.5800" stop-color="#72aad0"/><stop offset="0.5829" stop-color="#6fa7ce"/><stop offset="0.5857" stop-color="#6da5cd"/><stop offset="0.5886" stop-color="#6ba2cb"/><stop offset="0.5914" stop-color="#689fca"/><stop offset="0.5943" stop-color="#669cc8"/><stop offset="0.5971" stop-color="#649ac7"/><stop offset="0.6000" stop-color="#649ac7"/><stop offset="0.6029" stop-color="#689fca"/><stop offset="0.6057" stop-color="#70a9cf"/><stop offset="0.6086" stop-color="#73abd0"/><stop offset="0.6114" stop-color="#69a0ca"/><stop offset="0.6143" stop-color="#5e93c4"/><stop offset="0.6171" stop-color="#598dc1"/><stop offset="0.6200" stop-color="#578bbf"/><stop offset="0.6229" stop-color="#5589be"/><stop offset="0.6257" stop-color="#5487bd"/><stop offset="0.6286" stop-color="#5386bd"/><stop offset="0.6314" stop-color="#5386bd"/><stop offset="0.6343" stop-color="#598dc0"/><stop offset="0.6371" stop-color="#6096c5"/><stop offset="0.6400" stop-color="#5f94c4"/><stop offset="0.6429" stop-color="#5588be"/><stop offset="0.6457" stop-color="#4c7eb9"/><stop offset="0.6486" stop-color="#497ab6"/><stop offset="0.6514" stop-color="#4778b6"/><stop offset="0.6543" stop-color="#4777b5"/><stop offset="0.6571" stop-color="#4a7ab7"/><stop offset="0.6600" stop-color="#5183bb"/><stop offset="0.6629" stop-color="#5588be"/><stop offset="0.6657" stop-color="#4e80ba"/><stop offset="0.6686" stop-color="#4575b4"/><stop offset="0.6714" stop-color="#436eb1"/><stop offset="0.6743" stop-color="#426caf"/><stop offset="0.6771" stop-color="#426baf"/><stop offset="0.6800" stop-color="#436eb1"/><stop offset="0.6829" stop-color="#4676b5"/><stop offset="0.6857" stop-color="#4a7bb7"/><stop offset="0.6886" stop-color="#4574b3"/><stop offset="0.6914" stop-color="#4168ae"/><stop offset="0.6943" stop-color="#3f63ab"/><stop offset="0.6971" stop-color="#3f61aa"/><stop offset="0.7000" stop-color="#4064ac"/><stop offset="0.7029" stop-color="#426cb0"/><stop offset="0.7057" stop-color="#4471b2"/><stop offset="0.7086" stop-color="#416aae"/><stop offset="0.7114" stop-color="#3e5fa9"/><stop offset="0.7143" stop-color="#3c5aa7"/><stop offset="0.7171" stop-color="#3c58a6"/><stop offset="0.7200" stop-color="#3d5ba7"/><stop offset="0.7229" stop-color="#3f62ab"/><stop offset="0.7257" stop-color="#4066ad"/><stop offset="0.7286" stop-color="#3e5fa9"/><stop offset="0.7314" stop-color="#3b56a5"/><stop offset="0.7343" stop-color="#3a51a3"/><stop offset="0.7371" stop-color="#3a53a3"/><stop offset="0.7400" stop-color="#3c59a6"/><stop offset="0.7429" stop-color="#3d5da8"/><stop offset="0.7457" stop-color="#3b57a5"/><stop offset="0.7486" stop-color="#394ea1"/><stop offset="0.7514" stop-color="#384b9f"/><stop offset="0.7543" stop-color="#384da1"/><stop offset="0.7571" stop-color="#3a53a3"/><stop offset="0.7600" stop-color="#3a53a3"/><stop offset="0.7629" stop-color="#384b9f"/><stop offset="0.7657" stop-color="#36469d"/><stop offset="0.7686" stop-color="#36479d"/><stop offset="0.7714" stop-color="#384ca0"/><stop offset="0.7743" stop-color="#384ca0"/><stop offset="0.7771" stop-color="#36469d"/><stop offset="0.7800" stop-color="#35429b"/><stop offset="0.7829" stop-color="#36449c"/><stop offset="0.7857" stop-color="#37479e"/><stop offset="0.7886" stop-color="#36459c"/><stop offset="0.7914" stop-color="#343f99"/><stop offset="0.7943" stop-color="#333b98"/><stop offset="0.7971" stop-color="#323a97"/><stop offset="0.8000" stop-color="#323997"/><stop offset="0.8029" stop-color="#323996"/><stop offset="0.8057" stop-color="#323996"/><stop offset="0.8086" stop-color="#323896"/><stop offset="0.8114" stop-color="#323896"/><stop offset="0.8143" stop-color="#323896"/><stop offset="0.8171" stop-color="#313796"/><stop offset="0.8200" stop-color="#313795"/><stop offset="0.8229" stop-color="#313795"/><stop offset="0.8257" stop-color="#313695"/><stop offset="0.8286" stop-color="#313695"/><stop offset="0.8314" stop-color="#313695"/><stop offset="0.8343" stop-color="#313695"/><stop offset="0.8371" stop-color="#313695"/><stop offset="0.8400" stop-color="#313695"/><stop offset="0.8429" stop-color="#313695"/><stop offset="0.8457" stop-color="#313695"/><stop offset="0.8486" stop-color="#313695"/><stop offset="0.8514" stop-color="#313695"/><stop offset="0.8543" stop-color="#313695"/><stop offset="0.8857" stop-color="#313695"/><stop offset="1.0000" stop-color="#313695"/></linearGradient>
<linearGradient id="gm1" x1="0" y1="0" x2="1" y2="0"><stop offset="0" stop-color="#fff"/><stop offset="0.4000" stop-color="#fff"/><stop offset="0.4457" stop-color="#000"/></linearGradient>
<linearGradient id="gm2" x1="0" y1="0" x2="1" y2="0"><stop offset="0" stop-color="#000"/><stop offset="0.4000" stop-color="#000"/><stop offset="0.4457" stop-color="#fff"/><stop offset="0.6000" stop-color="#fff"/><stop offset="0.7000" stop-color="#000"/></linearGradient>
<clipPath id="cd"><rect x="789.7" y="604" width="418.6" height="440.5"/></clipPath>
<filter id="nz1" x="0" y="0" width="1" height="1" color-interpolation-filters="sRGB"><feTurbulence type="fractalNoise" baseFrequency="0.45" numOctaves="2" seed="4" result="n"/><feColorMatrix in="n" type="matrix" values="0.12 0 0 0 0.440  0.6 0 0 0 0.200  0.38 0 0 0 0.310  0 0 0 0 1" result="nc"/><feComposite in="SourceGraphic" in2="nc" operator="arithmetic" k1="0" k2="1" k3="1" k4="-0.5"/></filter>
<filter id="nz2" x="0" y="0" width="1" height="1" color-interpolation-filters="sRGB"><feTurbulence type="fractalNoise" baseFrequency="0.45" numOctaves="2" seed="9" result="n"/><feColorMatrix in="n" type="matrix" values="0.5 0 0 0 0.250  0.36 0 0 0 0.320  0.22 0 0 0 0.390  0 0 0 0 1" result="nc"/><feComposite in="SourceGraphic" in2="nc" operator="arithmetic" k1="0" k2="1" k3="1" k4="-0.5"/></filter>
<g id="S"><rect x="538.0" y="659" width="350.0" height="1"/><rect x="580.2" y="660" width="350.0" height="1"/><rect x="600.3" y="661" width="350.0" height="1"/><rect x="613.7" y="662" width="350.0" height="1"/><rect x="624.0" y="663" width="350.0" height="1"/><rect x="632.4" y="664" width="350.0" height="1"/><rect x="639.4" y="665" width="350.0" height="1"/><rect x="645.6" y="666" width="350.0" height="1"/><rect x="651.1" y="667" width="350.0" height="1"/><rect x="656.0" y="668" width="350.0" height="1"/><rect x="660.5" y="669" width="350.0" height="1"/><rect x="664.7" y="670" width="350.0" height="1"/><rect x="668.5" y="671" width="350.0" height="1"/><rect x="672.1" y="672" width="350.0" height="1"/><rect x="675.5" y="673" width="350.0" height="1"/><rect x="678.7" y="674" width="350.0" height="1"/><rect x="681.7" y="675" width="350.0" height="1"/><rect x="684.6" y="676" width="350.0" height="1"/><rect x="687.3" y="677" width="350.0" height="1"/><rect x="690.0" y="678" width="350.0" height="1"/><rect x="692.5" y="679" width="350.0" height="1"/><rect x="694.9" y="680" width="350.0" height="1"/><rect x="697.2" y="681" width="350.0" height="1"/><rect x="699.4" y="682" width="350.0" height="1"/><rect x="701.6" y="683" width="350.0" height="1"/><rect x="703.7" y="684" width="350.0" height="1"/><rect x="705.7" y="685" width="350.0" height="1"/><rect x="707.7" y="686" width="350.0" height="1"/><rect x="709.6" y="687" width="350.0" height="1"/><rect x="711.4" y="688" width="350.0" height="1"/><rect x="713.2" y="689" width="350.0" height="1"/><rect x="714.9" y="690" width="350.0" height="1"/><rect x="716.6" y="691" width="350.0" height="1"/><rect x="718.3" y="692" width="350.0" height="1"/><rect x="719.9" y="693" width="350.0" height="1"/><rect x="721.5" y="694" width="350.0" height="1"/><rect x="723.0" y="695" width="350.0" height="1"/><rect x="724.5" y="696" width="350.0" height="1"/><rect x="725.9" y="697" width="350.0" height="1"/><rect x="727.4" y="698" width="350.0" height="1"/><rect x="728.7" y="699" width="350.0" height="1"/><rect x="730.1" y="700" width="350.0" height="1"/><rect x="731.4" y="701" width="350.0" height="1"/><rect x="732.7" y="702" width="350.0" height="1"/><rect x="734.0" y="703" width="350.0" height="1"/><rect x="735.2" y="704" width="350.0" height="1"/><rect x="736.5" y="705" width="350.0" height="1"/><rect x="737.7" y="706" width="350.0" height="1"/><rect x="738.8" y="707" width="350.0" height="1"/><rect x="740.0" y="708" width="350.0" height="1"/><rect x="741.1" y="709" width="350.0" height="1"/><rect x="742.2" y="710" width="350.0" height="1"/><rect x="743.3" y="711" width="350.0" height="1"/><rect x="744.3" y="712" width="350.0" height="1"/><rect x="745.4" y="713" width="350.0" height="1"/><rect x="746.4" y="714" width="350.0" height="1"/><rect x="747.4" y="715" width="350.0" height="1"/><rect x="748.4" y="716" width="350.0" height="1"/><rect x="749.3" y="717" width="350.0" height="1"/><rect x="750.3" y="718" width="350.0" height="1"/><rect x="751.2" y="719" width="350.0" height="1"/><rect x="752.1" y="720" width="350.0" height="1"/><rect x="753.0" y="721" width="350.0" height="1"/><rect x="753.8" y="722" width="350.0" height="1"/><rect x="754.7" y="723" width="350.0" height="1"/><rect x="755.5" y="724" width="350.0" height="1"/><rect x="756.4" y="725" width="350.0" height="1"/><rect x="757.2" y="726" width="350.0" height="1"/><rect x="758.0" y="727" width="350.0" height="1"/><rect x="758.8" y="728" width="350.0" height="1"/><rect x="759.5" y="729" width="350.0" height="1"/><rect x="760.3" y="730" width="350.0" height="1"/><rect x="761.0" y="731" width="350.0" height="1"/><rect x="761.8" y="732" width="350.0" height="1"/><rect x="762.5" y="733" width="350.0" height="1"/><rect x="763.2" y="734" width="350.0" height="1"/><rect x="763.9" y="735" width="350.0" height="1"/><rect x="764.5" y="736" width="350.0" height="1"/><rect x="765.2" y="737" width="350.0" height="1"/><rect x="765.8" y="738" width="350.0" height="1"/><rect x="766.5" y="739" width="350.0" height="1"/><rect x="767.1" y="740" width="350.0" height="1"/><rect x="767.7" y="741" width="350.0" height="1"/><rect x="768.3" y="742" width="350.0" height="1"/><rect x="768.9" y="743" width="350.0" height="1"/><rect x="769.5" y="744" width="350.0" height="1"/><rect x="770.1" y="745" width="350.0" height="1"/><rect x="770.6" y="746" width="350.0" height="1"/><rect x="771.2" y="747" width="350.0" height="1"/><rect x="771.7" y="748" width="350.0" height="1"/><rect x="772.3" y="749" width="350.0" height="1"/><rect x="772.8" y="750" width="350.0" height="1"/><rect x="773.3" y="751" width="350.0" height="1"/><rect x="773.8" y="752" width="350.0" height="1"/><rect x="774.3" y="753" width="350.0" height="1"/><rect x="774.8" y="754" width="350.0" height="1"/><rect x="775.2" y="755" width="350.0" height="1"/><rect x="775.7" y="756" width="350.0" height="1"/><rect x="776.2" y="757" width="350.0" height="1"/><rect x="776.6" y="758" width="350.0" height="1"/><rect x="777.0" y="759" width="350.0" height="1"/><rect x="777.5" y="760" width="350.0" height="1"/><rect x="777.9" y="761" width="350.0" height="1"/><rect x="778.3" y="762" width="350.0" height="1"/><rect x="778.7" y="763" width="350.0" height="1"/><rect x="779.1" y="764" width="350.0" height="1"/><rect x="779.5" y="765" width="350.0" height="1"/><rect x="779.9" y="766" width="350.0" height="1"/><rect x="780.2" y="767" width="350.0" height="1"/><rect x="780.6" y="768" width="350.0" height="1"/><rect x="781.0" y="769" width="350.0" height="1"/><rect x="781.3" y="770" width="350.0" height="1"/><rect x="781.6" y="771" width="350.0" height="1"/><rect x="782.0" y="772" width="350.0" height="1"/><rect x="782.3" y="773" width="350.0" height="1"/><rect x="782.6" y="774" width="350.0" height="1"/><rect x="782.9" y="775" width="350.0" height="1"/><rect x="783.2" y="776" width="350.0" height="1"/><rect x="783.5" y="777" width="350.0" height="1"/><rect x="783.8" y="778" width="350.0" height="1"/><rect x="784.1" y="779" width="350.0" height="1"/><rect x="784.3" y="780" width="350.0" height="1"/><rect x="784.6" y="781" width="350.0" height="1"/><rect x="784.9" y="782" width="350.0" height="1"/><rect x="785.1" y="783" width="350.0" height="1"/><rect x="785.4" y="784" width="350.0" height="1"/><rect x="785.6" y="785" width="350.0" height="1"/><rect x="785.8" y="786" width="350.0" height="1"/><rect x="786.1" y="787" width="350.0" height="1"/><rect x="786.3" y="788" width="350.0" height="1"/><rect x="786.5" y="789" width="350.0" height="1"/><rect x="786.7" y="790" width="350.0" height="1"/><rect x="786.9" y="791" width="350.0" height="1"/><rect x="787.1" y="792" width="350.0" height="1"/><rect x="787.3" y="793" width="350.0" height="1"/><rect x="787.4" y="794" width="350.0" height="1"/><rect x="787.6" y="795" width="350.0" height="1"/><rect x="787.8" y="796" width="350.0" height="1"/><rect x="787.9" y="797" width="350.0" height="1"/><rect x="788.1" y="798" width="350.0" height="1"/><rect x="788.2" y="799" width="350.0" height="1"/><rect x="788.4" y="800" width="350.0" height="1"/><rect x="788.5" y="801" width="350.0" height="1"/><rect x="788.7" y="802" width="350.0" height="1"/><rect x="788.8" y="803" width="350.0" height="1"/><rect x="788.9" y="804" width="350.0" height="1"/><rect x="789.0" y="805" width="350.0" height="1"/><rect x="789.1" y="806" width="350.0" height="1"/><rect x="789.2" y="807" width="350.0" height="1"/><rect x="789.3" y="808" width="350.0" height="1"/><rect x="789.4" y="809" width="350.0" height="1"/><rect x="789.5" y="810" width="350.0" height="1"/><rect x="789.5" y="811" width="350.0" height="1"/><rect x="789.6" y="812" width="350.0" height="1"/><rect x="789.7" y="813" width="350.0" height="1"/><rect x="789.7" y="814" width="350.0" height="1"/><rect x="789.8" y="815" width="350.0" height="1"/><rect x="789.8" y="816" width="350.0" height="1"/><rect x="789.9" y="817" width="350.0" height="1"/><rect x="789.9" y="818" width="350.0" height="1"/><rect x="789.9" y="819" width="350.0" height="1"/><rect x="790.0" y="820" width="350.0" height="1"/><rect x="790.0" y="821" width="350.0" height="1"/><rect x="790.0" y="822" width="350.0" height="1"/><rect x="790.0" y="823" width="350.0" height="1"/><rect x="790.0" y="824" width="350.0" height="1"/><rect x="790.0" y="825" width="350.0" height="1"/><rect x="790.0" y="826" width="350.0" height="1"/><rect x="790.0" y="827" width="350.0" height="1"/><rect x="789.9" y="828" width="350.0" height="1"/><rect x="789.9" y="829" width="350.0" height="1"/><rect x="789.9" y="830" width="350.0" height="1"/><rect x="789.8" y="831" width="350.0" height="1"/><rect x="789.8" y="832" width="350.0" height="1"/><rect x="789.7" y="833" width="350.0" height="1"/><rect x="789.7" y="834" width="350.0" height="1"/><rect x="789.6" y="835" width="350.0" height="1"/><rect x="789.5" y="836" width="350.0" height="1"/><rect x="789.5" y="837" width="350.0" height="1"/><rect x="789.4" y="838" width="350.0" height="1"/><rect x="789.3" y="839" width="350.0" height="1"/><rect x="789.2" y="840" width="350.0" height="1"/><rect x="789.1" y="841" width="350.0" height="1"/><rect x="789.0" y="842" width="350.0" height="1"/><rect x="788.9" y="843" width="350.0" height="1"/><rect x="788.8" y="844" width="350.0" height="1"/><rect x="788.7" y="845" width="350.0" height="1"/><rect x="788.5" y="846" width="350.0" height="1"/><rect x="788.4" y="847" width="350.0" height="1"/><rect x="788.2" y="848" width="350.0" height="1"/><rect x="788.1" y="849" width="350.0" height="1"/><rect x="787.9" y="850" width="350.0" height="1"/><rect x="787.8" y="851" width="350.0" height="1"/><rect x="787.6" y="852" width="350.0" height="1"/><rect x="787.4" y="853" width="350.0" height="1"/><rect x="787.3" y="854" width="350.0" height="1"/><rect x="787.1" y="855" width="350.0" height="1"/><rect x="786.9" y="856" width="350.0" height="1"/><rect x="786.7" y="857" width="350.0" height="1"/><rect x="786.5" y="858" width="350.0" height="1"/><rect x="786.3" y="859" width="350.0" height="1"/><rect x="786.1" y="860" width="350.0" height="1"/><rect x="785.8" y="861" width="350.0" height="1"/><rect x="785.6" y="862" width="350.0" height="1"/><rect x="785.4" y="863" width="350.0" height="1"/><rect x="785.1" y="864" width="350.0" height="1"/><rect x="784.9" y="865" width="350.0" height="1"/><rect x="784.6" y="866" width="350.0" height="1"/><rect x="784.3" y="867" width="350.0" height="1"/><rect x="784.1" y="868" width="350.0" height="1"/><rect x="783.8" y="869" width="350.0" height="1"/><rect x="783.5" y="870" width="350.0" height="1"/><rect x="783.2" y="871" width="350.0" height="1"/><rect x="782.9" y="872" width="350.0" height="1"/><rect x="782.6" y="873" width="350.0" height="1"/><rect x="782.3" y="874" width="350.0" height="1"/><rect x="782.0" y="875" width="350.0" height="1"/><rect x="781.6" y="876" width="350.0" height="1"/><rect x="781.3" y="877" width="350.0" height="1"/><rect x="781.0" y="878" width="350.0" height="1"/><rect x="780.6" y="879" width="350.0" height="1"/><rect x="780.2" y="880" width="350.0" height="1"/><rect x="779.9" y="881" width="350.0" height="1"/><rect x="779.5" y="882" width="350.0" height="1"/><rect x="779.1" y="883" width="350.0" height="1"/><rect x="778.7" y="884" width="350.0" height="1"/><rect x="778.3" y="885" width="350.0" height="1"/><rect x="777.9" y="886" width="350.0" height="1"/><rect x="777.5" y="887" width="350.0" height="1"/><rect x="777.0" y="888" width="350.0" height="1"/><rect x="776.6" y="889" width="350.0" height="1"/><rect x="776.2" y="890" width="350.0" height="1"/><rect x="775.7" y="891" width="350.0" height="1"/><rect x="775.2" y="892" width="350.0" height="1"/><rect x="774.8" y="893" width="350.0" height="1"/><rect x="774.3" y="894" width="350.0" height="1"/><rect x="773.8" y="895" width="350.0" height="1"/><rect x="773.3" y="896" width="350.0" height="1"/><rect x="772.8" y="897" width="350.0" height="1"/><rect x="772.3" y="898" width="350.0" height="1"/><rect x="771.7" y="899" width="350.0" height="1"/><rect x="771.2" y="900" width="350.0" height="1"/><rect x="770.6" y="901" width="350.0" height="1"/><rect x="770.1" y="902" width="350.0" height="1"/><rect x="769.5" y="903" width="350.0" height="1"/><rect x="768.9" y="904" width="350.0" height="1"/><rect x="768.3" y="905" width="350.0" height="1"/><rect x="767.7" y="906" width="350.0" height="1"/><rect x="767.1" y="907" width="350.0" height="1"/><rect x="766.5" y="908" width="350.0" height="1"/><rect x="765.8" y="909" width="350.0" height="1"/><rect x="765.2" y="910" width="350.0" height="1"/><rect x="764.5" y="911" width="350.0" height="1"/><rect x="763.9" y="912" width="350.0" height="1"/><rect x="763.2" y="913" width="350.0" height="1"/><rect x="762.5" y="914" width="350.0" height="1"/><rect x="761.8" y="915" width="350.0" height="1"/><rect x="761.0" y="916" width="350.0" height="1"/><rect x="760.3" y="917" width="350.0" height="1"/><rect x="759.5" y="918" width="350.0" height="1"/><rect x="758.8" y="919" width="350.0" height="1"/><rect x="758.0" y="920" width="350.0" height="1"/><rect x="757.2" y="921" width="350.0" height="1"/><rect x="756.4" y="922" width="350.0" height="1"/><rect x="755.5" y="923" width="350.0" height="1"/><rect x="754.7" y="924" width="350.0" height="1"/><rect x="753.8" y="925" width="350.0" height="1"/><rect x="753.0" y="926" width="350.0" height="1"/><rect x="752.1" y="927" width="350.0" height="1"/><rect x="751.2" y="928" width="350.0" height="1"/><rect x="750.3" y="929" width="350.0" height="1"/><rect x="749.3" y="930" width="350.0" height="1"/><rect x="748.4" y="931" width="350.0" height="1"/><rect x="747.4" y="932" width="350.0" height="1"/><rect x="746.4" y="933" width="350.0" height="1"/><rect x="745.4" y="934" width="350.0" height="1"/><rect x="744.3" y="935" width="350.0" height="1"/><rect x="743.3" y="936" width="350.0" height="1"/><rect x="742.2" y="937" width="350.0" height="1"/><rect x="741.1" y="938" width="350.0" height="1"/><rect x="740.0" y="939" width="350.0" height="1"/><rect x="738.8" y="940" width="350.0" height="1"/><rect x="737.7" y="941" width="350.0" height="1"/><rect x="736.5" y="942" width="350.0" height="1"/><rect x="735.2" y="943" width="350.0" height="1"/><rect x="734.0" y="944" width="350.0" height="1"/><rect x="732.7" y="945" width="350.0" height="1"/><rect x="731.4" y="946" width="350.0" height="1"/><rect x="730.1" y="947" width="350.0" height="1"/><rect x="728.7" y="948" width="350.0" height="1"/><rect x="727.4" y="949" width="350.0" height="1"/><rect x="725.9" y="950" width="350.0" height="1"/><rect x="724.5" y="951" width="350.0" height="1"/><rect x="723.0" y="952" width="350.0" height="1"/><rect x="721.5" y="953" width="350.0" height="1"/><rect x="719.9" y="954" width="350.0" height="1"/><rect x="718.3" y="955" width="350.0" height="1"/><rect x="716.6" y="956" width="350.0" height="1"/><rect x="714.9" y="957" width="350.0" height="1"/><rect x="713.2" y="958" width="350.0" height="1"/><rect x="711.4" y="959" width="350.0" height="1"/><rect x="709.6" y="960" width="350.0" height="1"/><rect x="707.7" y="961" width="350.0" height="1"/><rect x="705.7" y="962" width="350.0" height="1"/><rect x="703.7" y="963" width="350.0" height="1"/><rect x="701.6" y="964" width="350.0" height="1"/><rect x="699.4" y="965" width="350.0" height="1"/><rect x="697.2" y="966" width="350.0" height="1"/><rect x="694.9" y="967" width="350.0" height="1"/><rect x="692.5" y="968" width="350.0" height="1"/><rect x="690.0" y="969" width="350.0" height="1"/><rect x="687.3" y="970" width="350.0" height="1"/><rect x="684.6" y="971" width="350.0" height="1"/><rect x="681.7" y="972" width="350.0" height="1"/><rect x="678.7" y="973" width="350.0" height="1"/><rect x="675.5" y="974" width="350.0" height="1"/><rect x="672.1" y="975" width="350.0" height="1"/><rect x="668.5" y="976" width="350.0" height="1"/><rect x="664.7" y="977" width="350.0" height="1"/><rect x="660.5" y="978" width="350.0" height="1"/><rect x="656.0" y="979" width="350.0" height="1"/><rect x="651.1" y="980" width="350.0" height="1"/><rect x="645.6" y="981" width="350.0" height="1"/><rect x="639.4" y="982" width="350.0" height="1"/><rect x="632.4" y="983" width="350.0" height="1"/><rect x="624.0" y="984" width="350.0" height="1"/><rect x="613.7" y="985" width="350.0" height="1"/><rect x="600.3" y="986" width="350.0" height="1"/><rect x="580.2" y="987" width="350.0" height="1"/><rect x="538.0" y="988" width="350.0" height="1"/></g>
<mask id="m1" maskUnits="userSpaceOnUse" x="789" y="603" width="420" height="443"><use href="#S" fill="url(#gm1)"/></mask>
<mask id="m2" maskUnits="userSpaceOnUse" x="789" y="603" width="420" height="443"><use href="#S" fill="url(#gm2)"/></mask>
</defs>
<g clip-path="url(#cd)">
<rect x="789" y="603" width="420" height="443" fill="#313695"/>
<use href="#S" fill="url(#gd)"/>
<g mask="url(#m1)"><g filter="url(#nz1)"><rect x="700" y="603" width="110" height="443" fill="#f99154"/><use href="#S" fill="url(#gd)"/></g></g>
<g mask="url(#m2)"><g filter="url(#nz2)"><rect x="700" y="603" width="110" height="443" fill="#f99154"/><use href="#S" fill="url(#gd)"/></g></g>
<path d="M1006.5,669.5 L1012.4,671.0 L1017.7,672.4 L1022.6,673.9 L1027.1,675.3 L1031.2,676.8 L1035.1,678.2 L1038.8,679.7 L1042.2,681.1 L1045.5,682.6 L1048.6,684.0 L1051.5,685.5 L1054.3,686.9 L1057.0,688.4 L1059.6,689.8 L1062.1,691.3 L1064.5,692.8 L1066.8,694.2 L1069.0,695.6 L1071.2,697.1 L1073.2,698.5 L1075.2,700.0 L1077.2,701.4 L1079.0,702.9 L1080.9,704.3 L1082.6,705.8 L1084.3,707.2 L1086.0,708.7 L1087.6,710.1 L1089.2,711.6 L1090.7,713.0 L1092.2,714.5 L1093.6,715.9 L1095.0,717.4 L1096.4,718.8 L1097.7,720.3 L1099.0,721.8 L1100.2,723.2 L1101.5,724.6 L1102.7,726.1 L1103.8,727.5 L1104.9,729.0 L1106.0,730.4 L1107.1,731.9 L1108.2,733.3 L1109.2,734.8 L1110.2,736.2 L1111.1,737.7 L1112.1,739.1 L1113.0,740.6 L1113.9,742.0 L1114.7,743.5 L1115.6,744.9 L1116.4,746.4 L1117.2,747.8 L1118.0,749.3 L1118.7,750.8 L1119.4,752.2 L1120.2,753.6 L1120.9,755.1 L1121.5,756.5 L1122.2,758.0 L1122.8,759.4 L1123.4,760.9 L1124.0,762.3 L1124.6,763.8 L1125.2,765.2 L1125.7,766.7 L1126.3,768.1 L1126.8,769.6 L1127.3,771.0 L1127.8,772.5 L1128.2,773.9 L1128.7,775.4 L1129.1,776.8 L1129.5,778.3 L1129.9,779.8 L1130.3,781.2 L1130.7,782.6 L1131.1,784.1 L1131.4,785.5 L1131.7,787.0 L1132.1,788.4 L1132.4,789.9 L1132.7,791.3 L1132.9,792.8 L1133.2,794.2 L1133.5,795.7 L1133.7,797.1 L1133.9,798.6 L1134.1,800.0 L1134.3,801.5 L1134.5,802.9 L1134.7,804.4 L1134.8,805.8 L1135.0,807.3 L1135.1,808.8 L1135.2,810.2 L1135.4,811.6 L1135.5,813.1 L1135.5,814.5 L1135.6,816.0 L1135.7,817.4 L1135.7,818.9 L1135.8,820.3 L1135.8,821.8 L1135.8,823.2 L1135.8,824.7 L1135.8,826.1 L1135.8,827.6 L1135.7,829.0 L1135.7,830.5 L1135.6,831.9 L1135.5,833.4 L1135.5,834.8 L1135.4,836.3 L1135.3,837.8 L1135.1,839.2 L1135.0,840.6 L1134.8,842.1 L1134.7,843.5 L1134.5,845.0 L1134.3,846.4 L1134.1,847.9 L1133.9,849.3 L1133.7,850.8 L1133.5,852.2 L1133.2,853.7 L1132.9,855.1 L1132.7,856.6 L1132.4,858.0 L1132.1,859.5 L1131.8,860.9 L1131.4,862.4 L1131.1,863.8 L1130.7,865.3 L1130.3,866.8 L1130.0,868.2 L1129.6,869.6 L1129.1,871.1 L1128.7,872.5 L1128.2,874.0 L1127.8,875.4 L1127.3,876.9 L1126.8,878.3 L1126.3,879.8 L1125.8,881.2 L1125.2,882.7 L1124.6,884.1 L1124.1,885.6 L1123.5,887.0 L1122.8,888.5 L1122.2,889.9 L1121.6,891.4 L1120.9,892.8 L1120.2,894.3 L1119.5,895.8 L1118.7,897.2 L1118.0,898.6 L1117.2,900.1 L1116.4,901.5 L1115.6,903.0 L1114.8,904.4 L1113.9,905.9 L1113.0,907.3 L1112.1,908.8 L1111.2,910.2 L1110.2,911.7 L1109.2,913.1 L1108.2,914.6 L1107.2,916.0 L1106.1,917.5 L1105.0,918.9 L1103.9,920.4 L1102.7,921.8 L1101.5,923.3 L1100.3,924.8 L1099.0,926.2 L1097.8,927.6 L1096.4,929.1 L1095.1,930.5 L1093.7,932.0 L1092.2,933.4 L1090.8,934.9 L1089.2,936.3 L1087.7,937.8 L1086.1,939.2 L1084.4,940.7 L1082.7,942.1 L1080.9,943.6 L1079.1,945.0 L1077.2,946.5 L1075.3,947.9 L1073.3,949.4 L1071.2,950.8 L1069.1,952.3 L1066.9,953.8 L1064.6,955.2 L1062.2,956.6 L1059.7,958.1 L1057.1,959.5 L1054.4,961.0 L1051.6,962.4 L1048.7,963.9 L1045.6,965.3 L1042.3,966.8 L1038.9,968.2 L1035.2,969.7 L1031.4,971.1 L1027.2,972.6 L1022.7,974.0 L1017.9,975.5 L1012.6,976.9 L1006.7,978.4" fill="none" stroke="#9cc9e3" stroke-width="3.2" opacity="0.45"/>
<path d="M1006.5,669.5 L1012.4,671.0 L1017.7,672.4 L1022.6,673.9 L1027.1,675.3 L1031.2,676.8 L1035.1,678.2 L1038.8,679.7 L1042.2,681.1 L1045.5,682.6 L1048.6,684.0 L1051.5,685.5 L1054.3,686.9 L1057.0,688.4 L1059.6,689.8 L1062.1,691.3 L1064.5,692.8 L1066.8,694.2 L1069.0,695.6 L1071.2,697.1 L1073.2,698.5 L1075.2,700.0 L1077.2,701.4 L1079.0,702.9 L1080.9,704.3 L1082.6,705.8 L1084.3,707.2 L1086.0,708.7 L1087.6,710.1 L1089.2,711.6 L1090.7,713.0 L1092.2,714.5 L1093.6,715.9 L1095.0,717.4 L1096.4,718.8 L1097.7,720.3 L1099.0,721.8 L1100.2,723.2 L1101.5,724.6 L1102.7,726.1 L1103.8,727.5 L1104.9,729.0 L1106.0,730.4 L1107.1,731.9 L1108.2,733.3 L1109.2,734.8 L1110.2,736.2 L1111.1,737.7 L1112.1,739.1 L1113.0,740.6 L1113.9,742.0 L1114.7,743.5 L1115.6,744.9 L1116.4,746.4 L1117.2,747.8 L1118.0,749.3 L1118.7,750.8 L1119.4,752.2 L1120.2,753.6 L1120.9,755.1 L1121.5,756.5 L1122.2,758.0 L1122.8,759.4 L1123.4,760.9 L1124.0,762.3 L1124.6,763.8 L1125.2,765.2 L1125.7,766.7 L1126.3,768.1 L1126.8,769.6 L1127.3,771.0 L1127.8,772.5 L1128.2,773.9 L1128.7,775.4 L1129.1,776.8 L1129.5,778.3 L1129.9,779.8 L1130.3,781.2 L1130.7,782.6 L1131.1,784.1 L1131.4,785.5 L1131.7,787.0 L1132.1,788.4 L1132.4,789.9 L1132.7,791.3 L1132.9,792.8 L1133.2,794.2 L1133.5,795.7 L1133.7,797.1 L1133.9,798.6 L1134.1,800.0 L1134.3,801.5 L1134.5,802.9 L1134.7,804.4 L1134.8,805.8 L1135.0,807.3 L1135.1,808.8 L1135.2,810.2 L1135.4,811.6 L1135.5,813.1 L1135.5,814.5 L1135.6,816.0 L1135.7,817.4 L1135.7,818.9 L1135.8,820.3 L1135.8,821.8 L1135.8,823.2 L1135.8,824.7 L1135.8,826.1 L1135.8,827.6 L1135.7,829.0 L1135.7,830.5 L1135.6,831.9 L1135.5,833.4 L1135.5,834.8 L1135.4,836.3 L1135.3,837.8 L1135.1,839.2 L1135.0,840.6 L1134.8,842.1 L1134.7,843.5 L1134.5,845.0 L1134.3,846.4 L1134.1,847.9 L1133.9,849.3 L1133.7,850.8 L1133.5,852.2 L1133.2,853.7 L1132.9,855.1 L1132.7,856.6 L1132.4,858.0 L1132.1,859.5 L1131.8,860.9 L1131.4,862.4 L1131.1,863.8 L1130.7,865.3 L1130.3,866.8 L1130.0,868.2 L1129.6,869.6 L1129.1,871.1 L1128.7,872.5 L1128.2,874.0 L1127.8,875.4 L1127.3,876.9 L1126.8,878.3 L1126.3,879.8 L1125.8,881.2 L1125.2,882.7 L1124.6,884.1 L1124.1,885.6 L1123.5,887.0 L1122.8,888.5 L1122.2,889.9 L1121.6,891.4 L1120.9,892.8 L1120.2,894.3 L1119.5,895.8 L1118.7,897.2 L1118.0,898.6 L1117.2,900.1 L1116.4,901.5 L1115.6,903.0 L1114.8,904.4 L1113.9,905.9 L1113.0,907.3 L1112.1,908.8 L1111.2,910.2 L1110.2,911.7 L1109.2,913.1 L1108.2,914.6 L1107.2,916.0 L1106.1,917.5 L1105.0,918.9 L1103.9,920.4 L1102.7,921.8 L1101.5,923.3 L1100.3,924.8 L1099.0,926.2 L1097.8,927.6 L1096.4,929.1 L1095.1,930.5 L1093.7,932.0 L1092.2,933.4 L1090.8,934.9 L1089.2,936.3 L1087.7,937.8 L1086.1,939.2 L1084.4,940.7 L1082.7,942.1 L1080.9,943.6 L1079.1,945.0 L1077.2,946.5 L1075.3,947.9 L1073.3,949.4 L1071.2,950.8 L1069.1,952.3 L1066.9,953.8 L1064.6,955.2 L1062.2,956.6 L1059.7,958.1 L1057.1,959.5 L1054.4,961.0 L1051.6,962.4 L1048.7,963.9 L1045.6,965.3 L1042.3,966.8 L1038.9,968.2 L1035.2,969.7 L1031.4,971.1 L1027.2,972.6 L1022.7,974.0 L1017.9,975.5 L1012.6,976.9 L1006.7,978.4" fill="none" stroke="#eef8e0" stroke-width="1.35"/>
<g fill="#e2f2e6"><ellipse cx="875.3" cy="659.4" rx="2.0" ry="1.1" opacity="0.55"/><ellipse cx="934.2" cy="660.8" rx="2.0" ry="1.1" opacity="0.55"/><ellipse cx="957.2" cy="662.3" rx="2.0" ry="1.1" opacity="0.55"/><ellipse cx="972.1" cy="663.8" rx="2.0" ry="1.1" opacity="0.9"/><ellipse cx="983.2" cy="665.2" rx="2.0" ry="1.1" opacity="0.9"/><ellipse cx="992.3" cy="666.6" rx="2.0" ry="1.1" opacity="0.9"/><ellipse cx="999.9" cy="668.1" rx="2.0" ry="1.1" opacity="0.9"/><ellipse cx="1000.1" cy="979.8" rx="2.0" ry="1.1" opacity="0.9"/><ellipse cx="992.5" cy="981.3" rx="2.0" ry="1.1" opacity="0.9"/><ellipse cx="983.6" cy="982.8" rx="2.0" ry="1.1" opacity="0.9"/><ellipse cx="972.5" cy="984.2" rx="2.0" ry="1.1" opacity="0.9"/><ellipse cx="957.8" cy="985.6" rx="2.0" ry="1.1" opacity="0.55"/><ellipse cx="935.2" cy="987.1" rx="2.0" ry="1.1" opacity="0.55"/><ellipse cx="879.8" cy="988.5" rx="2.0" ry="1.1" opacity="0.55"/></g>
</g>
<rect x="789.7" y="604" width="418.6" height="440.5" fill="none" stroke="#000" stroke-width="2.6"/>
<path d="M789.7,641.2 h12 M789.7,824.5 h12 M789.7,1007.5 h12 M956.7,604 v12 M1124,604 v12 M956.7,1044.5 v-12 M1124,1044.5 v-12" stroke="#000" stroke-width="2.5"/>
<defs><linearGradient id="cbg" x1="0" y1="0" x2="0" y2="1"><stop offset="0.00" stop-color="#313695"/><stop offset="0.01" stop-color="#333c98"/><stop offset="0.02" stop-color="#35439b"/><stop offset="0.03" stop-color="#37499e"/><stop offset="0.04" stop-color="#394fa1"/><stop offset="0.05" stop-color="#3b56a4"/><stop offset="0.06" stop-color="#3d5ca8"/><stop offset="0.07" stop-color="#3f62ab"/><stop offset="0.08" stop-color="#4168ae"/><stop offset="0.09" stop-color="#436fb1"/><stop offset="0.10" stop-color="#4575b4"/><stop offset="0.11" stop-color="#4a7bb7"/><stop offset="0.12" stop-color="#4e80ba"/><stop offset="0.13" stop-color="#5386bd"/><stop offset="0.14" stop-color="#588bc0"/><stop offset="0.15" stop-color="#5c91c2"/><stop offset="0.16" stop-color="#6197c5"/><stop offset="0.17" stop-color="#669cc8"/><stop offset="0.18" stop-color="#6ba2cb"/><stop offset="0.19" stop-color="#6fa7ce"/><stop offset="0.20" stop-color="#74add1"/><stop offset="0.21" stop-color="#79b1d3"/><stop offset="0.22" stop-color="#7fb6d6"/><stop offset="0.23" stop-color="#84bad8"/><stop offset="0.24" stop-color="#8abfdb"/><stop offset="0.25" stop-color="#90c3dd"/><stop offset="0.26" stop-color="#95c7df"/><stop offset="0.27" stop-color="#9acce2"/><stop offset="0.28" stop-color="#a0d0e4"/><stop offset="0.29" stop-color="#a6d5e7"/><stop offset="0.30" stop-color="#abd9e9"/><stop offset="0.31" stop-color="#b0dcea"/><stop offset="0.32" stop-color="#b6deec"/><stop offset="0.33" stop-color="#bbe1ee"/><stop offset="0.34" stop-color="#c0e3ef"/><stop offset="0.35" stop-color="#c6e6f0"/><stop offset="0.36" stop-color="#cbe9f2"/><stop offset="0.37" stop-color="#d0ebf4"/><stop offset="0.38" stop-color="#d5eef5"/><stop offset="0.39" stop-color="#dbf0f7"/><stop offset="0.40" stop-color="#e0f3f8"/><stop offset="0.41" stop-color="#e3f4f2"/><stop offset="0.42" stop-color="#e6f5ed"/><stop offset="0.43" stop-color="#e9f7e7"/><stop offset="0.44" stop-color="#ecf8e1"/><stop offset="0.45" stop-color="#f0f9dc"/><stop offset="0.46" stop-color="#f3fad6"/><stop offset="0.47" stop-color="#f6fbd0"/><stop offset="0.48" stop-color="#f9fdca"/><stop offset="0.49" stop-color="#fcfec5"/><stop offset="0.50" stop-color="#ffffbf"/><stop offset="0.51" stop-color="#fffcba"/><stop offset="0.52" stop-color="#fff9b6"/><stop offset="0.53" stop-color="#fff6b1"/><stop offset="0.54" stop-color="#fff3ac"/><stop offset="0.55" stop-color="#fef0a8"/><stop offset="0.56" stop-color="#feeca3"/><stop offset="0.57" stop-color="#fee99e"/><stop offset="0.58" stop-color="#fee699"/><stop offset="0.59" stop-color="#fee395"/><stop offset="0.60" stop-color="#fee090"/><stop offset="0.61" stop-color="#fedb8b"/><stop offset="0.62" stop-color="#fed687"/><stop offset="0.63" stop-color="#fed182"/><stop offset="0.64" stop-color="#fecc7d"/><stop offset="0.65" stop-color="#fec778"/><stop offset="0.66" stop-color="#fdc274"/><stop offset="0.67" stop-color="#fdbd6f"/><stop offset="0.68" stop-color="#fdb86a"/><stop offset="0.69" stop-color="#fdb366"/><stop offset="0.70" stop-color="#fdae61"/><stop offset="0.71" stop-color="#fca85e"/><stop offset="0.72" stop-color="#fba15b"/><stop offset="0.73" stop-color="#fa9a58"/><stop offset="0.74" stop-color="#f99455"/><stop offset="0.75" stop-color="#f88e52"/><stop offset="0.76" stop-color="#f8874f"/><stop offset="0.77" stop-color="#f7804c"/><stop offset="0.78" stop-color="#f67a49"/><stop offset="0.79" stop-color="#f57346"/><stop offset="0.80" stop-color="#f46d43"/><stop offset="0.81" stop-color="#f16740"/><stop offset="0.82" stop-color="#ee613d"/><stop offset="0.83" stop-color="#eb5b3b"/><stop offset="0.84" stop-color="#e85538"/><stop offset="0.85" stop-color="#e64f35"/><stop offset="0.86" stop-color="#e34832"/><stop offset="0.87" stop-color="#e0422f"/><stop offset="0.88" stop-color="#dd3c2d"/><stop offset="0.89" stop-color="#da362a"/><stop offset="0.90" stop-color="#d73027"/><stop offset="0.91" stop-color="#d22b27"/><stop offset="0.92" stop-color="#cd2627"/><stop offset="0.93" stop-color="#c82227"/><stop offset="0.94" stop-color="#c31d27"/><stop offset="0.95" stop-color="#be1826"/><stop offset="0.96" stop-color="#b91326"/><stop offset="0.97" stop-color="#b40e26"/><stop offset="0.98" stop-color="#af0a26"/><stop offset="0.99" stop-color="#aa0526"/><stop offset="1.00" stop-color="#a50026"/></linearGradient></defs>
<rect x="1235" y="604" width="20.5" height="440.2" fill="url(#cbg)" stroke="#000" stroke-width="2.6"/>
<path d="M1255.5,730.2 h-12 M1255.5,855 h-12 M1255.5,981.1 h-12" stroke="#000" stroke-width="2.4"/>
<text x="791.6" y="638.4" font-size="35.80" font-family="Liberation Sans, sans-serif" font-weight="bold" fill="#fff">L-L</text>
<text x="791.8" y="834.5" font-size="35.50" font-family="Liberation Sans, sans-serif" font-weight="bold" fill="#fff">L-TL</text>
<text x="794" y="1032" font-size="35.80" font-family="Liberation Sans, sans-serif" font-weight="bold" fill="#fff">TL-TL</text>
<text x="716" y="653.8" font-size="36.70" font-family="DejaVu Sans, sans-serif">1.0</text>
<text x="716" y="837.8" font-size="36.70" font-family="DejaVu Sans, sans-serif">0.0</text>
<text x="703.2" y="1019" font-size="36.70" font-family="DejaVu Sans, sans-serif">-1.0</text>
<text x="759" y="582" font-size="36.70" font-family="DejaVu Sans, sans-serif">1.0</text>
<text x="914.8" y="582" font-size="36.70" font-family="DejaVu Sans, sans-serif">10.0</text>
<text x="1071.6" y="582" font-size="36.70" font-family="DejaVu Sans, sans-serif">100.0</text>
<text x="1269.6" y="617.6" font-size="36.70" font-family="DejaVu Sans, sans-serif">1.0</text>
<text x="1269.6" y="743.4" font-size="36.70" font-family="DejaVu Sans, sans-serif">0.8</text>
<text x="1269.6" y="868.2" font-size="36.70" font-family="DejaVu Sans, sans-serif">0.6</text>
<text x="1269.6" y="994.4" font-size="36.70" font-family="DejaVu Sans, sans-serif">0.4</text>
<text x="758.02" y="538.9" font-family="DejaVu Sans, sans-serif" font-size="43.8" textLength="486.39" lengthAdjust="spacing">Tunnel coupling (<tspan font-style="oblique">μ</tspan>eV)</text>
<text x="712.22" y="1104.9" font-family="DejaVu Sans, sans-serif" font-size="43.5" textLength="574.33" lengthAdjust="spacing">Tunnel gate voltage (a.u.)</text>
<text transform="translate(679.4,1000.65) rotate(-90)" font-family="DejaVu Sans, sans-serif" font-size="43.5" textLength="350.76" lengthAdjust="spacing">Detuning (meV)</text>
<text transform="translate(1375,1027.43) rotate(-90)" font-family="DejaVu Sans, sans-serif" font-size="43.5" textLength="404.72" lengthAdjust="spacing">Singlet probability</text>
<text x="654.8" y="622.8" font-size="43.60" font-family="Liberation Sans, sans-serif" font-weight="bold">d</text>
</svg></body></html>
